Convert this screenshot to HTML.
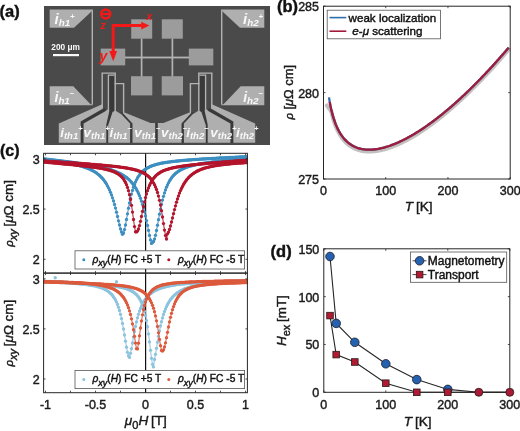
<!DOCTYPE html>
<html><head><meta charset="utf-8"><title>Figure</title>
<style>html,body{margin:0;padding:0;background:#fff;overflow:hidden}svg{display:block}</style>
</head><body><svg width="520" height="431" viewBox="0 0 520 431"><rect width="520" height="431" fill="#fff"/><text x="-0.5" y="17.2" style="font-family:'Liberation Sans', Arial, Helvetica, sans-serif;font-weight:bold;font-size:16.5px;fill:#111;stroke:#111;stroke-width:0.42px">(a)</text><rect x="44" y="6" width="226" height="139" fill="#4a4a4a"/><g><polygon points="49.7,9.5 91.5,9.5 91.5,11.5 74,27.8 49.7,27.8" fill="#afafaf"/><polyline points="91.5,9.5 92.3,10.5 92.3,104.3" fill="none" stroke="#b3b3b3" stroke-width="1.4"/><polygon points="49.7,86.3 73.3,86.3 90.5,104.3 92.8,104.3 92.8,105.2 49.7,105.2" fill="#afafaf"/><rect x="131.2" y="19.3" width="21" height="19.4" fill="#9c9c9c"/><rect x="131" y="76.2" width="21.3" height="19.2" fill="#9c9c9c"/><rect x="100.7" y="48.6" width="24.5" height="16.8" fill="#9c9c9c"/><line x1="141.6" y1="38.5" x2="141.6" y2="76.5" stroke="#b3b3b3" stroke-width="1.7"/><line x1="125" y1="57.5" x2="157" y2="57.5" stroke="#b3b3b3" stroke-width="1.8"/><rect x="109.3" y="76.2" width="5.1" height="36" fill="#393939"/><polyline points="82.1,143 82.1,122.6 104.4,110 105.5,109.3" fill="none" stroke="#393939" stroke-width="3"/><polygon points="106.3,143 108.2,143 108.2,125.2 112.6,112 114.4,111.2 109.3,111.2 107.2,120.5 106.3,124.5" fill="#393939"/><polyline points="131.3,143 131.3,123.3 122.6,113.6 122.6,112" fill="none" stroke="#393939" stroke-width="2.6"/><rect x="155.8" y="123" width="3" height="20" fill="#393939"/><polygon points="58.8,142.8 58.8,123.5 101.6,104.6 103,104.6 103,108.4 80.6,121.6 80.6,142.8" fill="#afafaf"/><polygon points="83.6,142.8 83.6,123.6 105.4,111.2 107.6,109.2 109.2,109.2 109.2,111.4 107.2,120.5 106.3,124.5 106.3,142.8" fill="#afafaf"/><polygon points="108.2,142.8 108.2,125.2 112.6,112 114.4,111 116,111 121.6,114.6 130.1,123.6 130.1,142.8" fill="#afafaf"/><polygon points="132.5,142.8 132.5,123.4 123.4,113.8 123.4,112.8 125.2,112.8 150.5,122.9 156.2,122.9 156.2,142.8" fill="#afafaf"/><polyline points="102.2,105.2 102.2,73.1 115.2,73.1 115.2,83.6 123.6,83.6 123.6,113.5" fill="none" stroke="#b3b3b3" stroke-width="1.4"/><polyline points="108.4,109.5 108.4,75.2 114.6,75.2" fill="none" stroke="#b3b3b3" stroke-width="1.3"/><line x1="115.2" y1="83" x2="115.2" y2="111.5" stroke="#b3b3b3" stroke-width="1.4"/></g><g transform="matrix(-1,0,0,1,314,0)"><polygon points="49.7,9.5 91.5,9.5 91.5,11.5 74,27.8 49.7,27.8" fill="#afafaf"/><polyline points="91.5,9.5 92.3,10.5 92.3,104.3" fill="none" stroke="#b3b3b3" stroke-width="1.4"/><polygon points="49.7,86.3 73.3,86.3 90.5,104.3 92.8,104.3 92.8,105.2 49.7,105.2" fill="#afafaf"/><rect x="131.2" y="19.3" width="21" height="19.4" fill="#9c9c9c"/><rect x="131" y="76.2" width="21.3" height="19.2" fill="#9c9c9c"/><rect x="100.7" y="48.6" width="24.5" height="16.8" fill="#9c9c9c"/><line x1="141.6" y1="38.5" x2="141.6" y2="76.5" stroke="#b3b3b3" stroke-width="1.7"/><line x1="125" y1="57.5" x2="157" y2="57.5" stroke="#b3b3b3" stroke-width="1.8"/><rect x="109.3" y="76.2" width="5.1" height="36" fill="#393939"/><polyline points="82.1,143 82.1,122.6 104.4,110 105.5,109.3" fill="none" stroke="#393939" stroke-width="3"/><polygon points="106.3,143 108.2,143 108.2,125.2 112.6,112 114.4,111.2 109.3,111.2 107.2,120.5 106.3,124.5" fill="#393939"/><polyline points="131.3,143 131.3,123.3 122.6,113.6 122.6,112" fill="none" stroke="#393939" stroke-width="2.6"/><rect x="155.8" y="123" width="3" height="20" fill="#393939"/><polygon points="58.8,142.8 58.8,123.5 101.6,104.6 103,104.6 103,108.4 80.6,121.6 80.6,142.8" fill="#afafaf"/><polygon points="83.6,142.8 83.6,123.6 105.4,111.2 107.6,109.2 109.2,109.2 109.2,111.4 107.2,120.5 106.3,124.5 106.3,142.8" fill="#afafaf"/><polygon points="108.2,142.8 108.2,125.2 112.6,112 114.4,111 116,111 121.6,114.6 130.1,123.6 130.1,142.8" fill="#afafaf"/><polygon points="132.5,142.8 132.5,123.4 123.4,113.8 123.4,112.8 125.2,112.8 150.5,122.9 156.2,122.9 156.2,142.8" fill="#afafaf"/><polyline points="102.2,105.2 102.2,73.1 115.2,73.1 115.2,83.6 123.6,83.6 123.6,113.5" fill="none" stroke="#b3b3b3" stroke-width="1.4"/><polyline points="108.4,109.5 108.4,75.2 114.6,75.2" fill="none" stroke="#b3b3b3" stroke-width="1.3"/><line x1="115.2" y1="83" x2="115.2" y2="111.5" stroke="#b3b3b3" stroke-width="1.4"/></g><text x="54.5" y="24.2" style="font-family:'Liberation Sans',Arial,sans-serif;font-style:italic;font-weight:bold;fill:#f8f8f8;font-size:15px">i<tspan dy="2" style="font-size:9.8px">h1</tspan><tspan dy="-7.5" style="font-size:7.8px">+</tspan></text><text x="54.5" y="101.6" style="font-family:'Liberation Sans',Arial,sans-serif;font-style:italic;font-weight:bold;fill:#f8f8f8;font-size:14px">i<tspan dy="2" style="font-size:9.8px">h1</tspan><tspan dy="-7.5" style="font-size:7.8px">−</tspan></text><text x="243" y="24.4" style="font-family:'Liberation Sans',Arial,sans-serif;font-style:italic;font-weight:bold;fill:#f8f8f8;font-size:15px">i<tspan dy="2" style="font-size:9.8px">h2</tspan><tspan dy="-7.5" style="font-size:7.8px">+</tspan></text><text x="243.2" y="101.6" style="font-family:'Liberation Sans',Arial,sans-serif;font-style:italic;font-weight:bold;fill:#f8f8f8;font-size:14px">i<tspan dy="2" style="font-size:9.8px">h2</tspan><tspan dy="-7.5" style="font-size:7.8px">−</tspan></text><text x="60.2" y="136.6" style="font-family:'Liberation Sans',Arial,sans-serif;font-style:italic;font-weight:bold;fill:#f8f8f8;font-size:13.5px">i<tspan dy="2" style="font-size:9.5px">th1</tspan><tspan dy="-7.5" style="font-size:7.6px">+</tspan></text><text x="83.5" y="136.6" style="font-family:'Liberation Sans',Arial,sans-serif;font-style:italic;font-weight:bold;fill:#f8f8f8;font-size:13.5px">v<tspan dy="2" style="font-size:9.5px">th1</tspan><tspan dy="-7.5" style="font-size:7.6px">+</tspan></text><text x="109.5" y="136.6" style="font-family:'Liberation Sans',Arial,sans-serif;font-style:italic;font-weight:bold;fill:#f8f8f8;font-size:13.5px">i<tspan dy="2" style="font-size:9.5px">th1</tspan><tspan dy="-7.5" style="font-size:7.6px">−</tspan></text><text x="134.3" y="136.6" style="font-family:'Liberation Sans',Arial,sans-serif;font-style:italic;font-weight:bold;fill:#f8f8f8;font-size:13.5px">v<tspan dy="2" style="font-size:9.5px">th1</tspan><tspan dy="-7.5" style="font-size:7.6px">−</tspan></text><text x="161" y="136.6" style="font-family:'Liberation Sans',Arial,sans-serif;font-style:italic;font-weight:bold;fill:#f8f8f8;font-size:13.5px">v<tspan dy="2" style="font-size:9.5px">th2</tspan><tspan dy="-7.5" style="font-size:7.6px">−</tspan></text><text x="186.2" y="136.6" style="font-family:'Liberation Sans',Arial,sans-serif;font-style:italic;font-weight:bold;fill:#f8f8f8;font-size:13.5px">i<tspan dy="2" style="font-size:9.5px">th2</tspan><tspan dy="-7.5" style="font-size:7.6px">−</tspan></text><text x="210.3" y="136.6" style="font-family:'Liberation Sans',Arial,sans-serif;font-style:italic;font-weight:bold;fill:#f8f8f8;font-size:13.5px">v<tspan dy="2" style="font-size:9.5px">th2</tspan><tspan dy="-7.5" style="font-size:7.6px">+</tspan></text><text x="236" y="136.6" style="font-family:'Liberation Sans',Arial,sans-serif;font-style:italic;font-weight:bold;fill:#f8f8f8;font-size:13.5px">i<tspan dy="2" style="font-size:9.5px">th2</tspan><tspan dy="-7.5" style="font-size:7.6px">+</tspan></text><text x="51.3" y="50.4" style="font-family:'Liberation Sans',Arial,sans-serif;font-weight:bold;font-size:8.3px;fill:#fafafa">200 μm</text><rect x="53" y="54" width="26" height="2.2" fill="#fafafa"/><circle cx="105.7" cy="14" r="4.5" fill="none" stroke="#f41818" stroke-width="2.6"/><rect x="102.2" y="12.9" width="7.2" height="2.2" fill="#f41818"/><text x="100.3" y="29.3" style="font-family:'Liberation Sans',Arial,sans-serif;font-style:italic;font-weight:bold;font-size:11px;fill:#f41818">z</text><polyline points="141.5,25.6 113.2,25.6 113.2,51" fill="none" stroke="#f41818" stroke-width="3"/><polygon points="141.2,21.7 149.4,25.6 141.2,29.5" fill="#f41818"/><polygon points="109.3,51 113.2,61.3 117.1,51" fill="#f41818"/><text x="146.6" y="19.6" style="font-family:'Liberation Sans',Arial,sans-serif;font-style:italic;font-weight:bold;font-size:10px;fill:#f41818">x</text><text x="99.5" y="61" style="font-family:'Liberation Sans',Arial,sans-serif;font-style:italic;font-weight:bold;font-size:14px;fill:#f41818">y</text><path d="M327.00,105.50 L331.23,111.20 L331.98,114.34 L332.74,117.16 L333.49,119.72 L334.24,122.04 L334.99,124.17 L335.74,126.13 L336.49,127.94 L337.25,129.61 L338.00,131.16 L338.75,132.60 L339.50,133.94 L340.25,135.19 L341.00,136.36 L341.76,137.46 L342.51,138.48 L343.26,139.44 L344.01,140.35 L344.76,141.19 L345.51,141.99 L346.27,142.73 L347.02,143.43 L347.77,144.09 L348.52,144.71 L349.27,145.29 L350.03,145.83 L350.78,146.34 L351.53,146.82 L352.28,147.26 L353.03,147.68 L353.78,148.07 L354.54,148.43 L355.29,148.77 L356.04,149.08 L356.79,149.37 L357.54,149.64 L358.29,149.89 L359.05,150.11 L359.80,150.32 L360.55,150.51 L361.30,150.67 L362.05,150.82 L362.81,150.96 L363.56,151.07 L364.31,151.17 L365.06,151.26 L365.81,151.33 L366.56,151.38 L367.32,151.42 L368.07,151.45 L368.82,151.46 L369.57,151.46 L370.32,151.45 L371.07,151.43 L371.83,151.39 L372.58,151.34 L373.33,151.28 L374.08,151.21 L374.83,151.13 L375.58,151.04 L376.34,150.93 L377.09,150.82 L377.84,150.70 L378.59,150.56 L379.34,150.42 L380.10,150.27 L380.85,150.11 L381.60,149.94 L382.35,149.76 L383.10,149.57 L383.85,149.38 L384.61,149.18 L385.36,148.96 L386.11,148.74 L386.86,148.52 L387.61,148.28 L388.36,148.04 L389.12,147.79 L389.87,147.53 L390.62,147.26 L391.37,146.99 L392.12,146.71 L392.88,146.43 L393.63,146.14 L394.38,145.84 L395.13,145.53 L395.88,145.22 L396.63,144.90 L397.39,144.57 L398.14,144.24 L398.89,143.90 L399.64,143.56 L400.39,143.21 L401.14,142.86 L401.90,142.49 L402.65,142.13 L403.40,141.75 L404.15,141.38 L404.90,140.99 L405.65,140.60 L406.41,140.21 L407.16,139.81 L407.91,139.40 L408.66,138.99 L409.41,138.57 L410.17,138.15 L410.92,137.73 L411.67,137.29 L412.42,136.86 L413.17,136.42 L413.92,135.97 L414.68,135.52 L415.43,135.06 L416.18,134.60 L416.93,134.14 L417.68,133.66 L418.43,133.19 L419.19,132.71 L419.94,132.23 L420.69,131.74 L421.44,131.24 L422.19,130.75 L422.94,130.24 L423.70,129.74 L424.45,129.23 L425.20,128.71 L425.95,128.19 L426.70,127.67 L427.46,127.14 L428.21,126.61 L428.96,126.07 L429.71,125.53 L430.46,124.99 L431.21,124.44 L431.97,123.89 L432.72,123.33 L433.47,122.77 L434.22,122.20 L434.97,121.64 L435.72,121.06 L436.48,120.49 L437.23,119.91 L437.98,119.32 L438.73,118.73 L439.48,118.14 L440.24,117.55 L440.99,116.95 L441.74,116.34 L442.49,115.74 L443.24,115.13 L443.99,114.51 L444.75,113.89 L445.50,113.27 L446.25,112.65 L447.00,112.02 L447.75,111.39 L448.50,110.75 L449.26,110.11 L450.01,109.47 L450.76,108.82 L451.51,108.17 L452.26,107.52 L453.01,106.86 L453.77,106.20 L454.52,105.54 L455.27,104.87 L456.02,104.20 L456.77,103.52 L457.53,102.84 L458.28,102.16 L459.03,101.48 L459.78,100.79 L460.53,100.10 L461.28,99.41 L462.04,98.71 L462.79,98.01 L463.54,97.30 L464.29,96.60 L465.04,95.89 L465.79,95.17 L466.55,94.45 L467.30,93.73 L468.05,93.01 L468.80,92.28 L469.55,91.55 L470.31,90.82 L471.06,90.08 L471.81,89.34 L472.56,88.60 L473.31,87.86 L474.06,87.11 L474.82,86.35 L475.57,85.60 L476.32,84.84 L477.07,84.08 L477.82,83.32 L478.57,82.55 L479.33,81.78 L480.08,81.00 L480.83,80.23 L481.58,79.45 L482.33,78.67 L483.08,77.88 L483.84,77.09 L484.59,76.30 L485.34,75.50 L486.09,74.71 L486.84,73.91 L487.60,73.10 L488.35,72.30 L489.10,71.49 L489.85,70.67 L490.60,69.86 L491.35,69.04 L492.11,68.22 L492.86,67.40 L493.61,66.57 L494.36,65.74 L495.11,64.91 L495.86,64.07 L496.62,63.23 L497.37,62.39 L498.12,61.55 L498.87,60.70 L499.62,59.85 L500.37,59.00 L501.13,58.14 L501.88,57.28 L502.63,56.42 L503.38,55.56 L504.13,54.69 L504.89,53.82 L505.64,52.95 L506.39,52.07 L507.14,51.19 L507.89,50.31 L508.64,49.43" fill="none" stroke="#c4c0c0" stroke-width="4.2" stroke-linecap="round"/><path d="M328.98,97.34 L329.73,101.91 L330.48,105.89 L331.23,109.40 L331.98,112.54 L332.74,115.36 L333.49,117.92 L334.24,120.24 L334.99,122.37 L335.74,124.33 L336.49,126.14 L337.25,127.81 L338.00,129.36 L338.75,130.80 L339.50,132.14 L340.25,133.39 L341.00,134.56 L341.76,135.66 L342.51,136.68 L343.26,137.64 L344.01,138.55 L344.76,139.39 L345.51,140.19 L346.27,140.93 L347.02,141.63 L347.77,142.29 L348.52,142.91 L349.27,143.49 L350.03,144.03 L350.78,144.54 L351.53,145.02 L352.28,145.46 L353.03,145.88 L353.78,146.27 L354.54,146.63 L355.29,146.97 L356.04,147.28 L356.79,147.57 L357.54,147.84 L358.29,148.09 L359.05,148.31 L359.80,148.52 L360.55,148.71 L361.30,148.87 L362.05,149.02 L362.81,149.16 L363.56,149.27 L364.31,149.37 L365.06,149.46 L365.81,149.53 L366.56,149.58 L367.32,149.62 L368.07,149.65 L368.82,149.66 L369.57,149.66 L370.32,149.65 L371.07,149.63 L371.83,149.59 L372.58,149.54 L373.33,149.48 L374.08,149.41 L374.83,149.33 L375.58,149.24 L376.34,149.13 L377.09,149.02 L377.84,148.90 L378.59,148.76 L379.34,148.62 L380.10,148.47 L380.85,148.31 L381.60,148.14 L382.35,147.96 L383.10,147.77 L383.85,147.58 L384.61,147.38 L385.36,147.16 L386.11,146.94 L386.86,146.72 L387.61,146.48 L388.36,146.24 L389.12,145.99 L389.87,145.73 L390.62,145.46 L391.37,145.19 L392.12,144.91 L392.88,144.63 L393.63,144.34 L394.38,144.04 L395.13,143.73 L395.88,143.42 L396.63,143.10 L397.39,142.77 L398.14,142.44 L398.89,142.10 L399.64,141.76 L400.39,141.41 L401.14,141.06 L401.90,140.69 L402.65,140.33 L403.40,139.95 L404.15,139.58 L404.90,139.19 L405.65,138.80 L406.41,138.41 L407.16,138.01 L407.91,137.60 L408.66,137.19 L409.41,136.77 L410.17,136.35 L410.92,135.93 L411.67,135.49 L412.42,135.06 L413.17,134.62 L413.92,134.17 L414.68,133.72 L415.43,133.26 L416.18,132.80 L416.93,132.34 L417.68,131.86 L418.43,131.39 L419.19,130.91 L419.94,130.43 L420.69,129.94 L421.44,129.44 L422.19,128.95 L422.94,128.44 L423.70,127.94 L424.45,127.43 L425.20,126.91 L425.95,126.39 L426.70,125.87 L427.46,125.34 L428.21,124.81 L428.96,124.27 L429.71,123.73 L430.46,123.19 L431.21,122.64 L431.97,122.09 L432.72,121.53 L433.47,120.97 L434.22,120.40 L434.97,119.84 L435.72,119.26 L436.48,118.69 L437.23,118.11 L437.98,117.52 L438.73,116.93 L439.48,116.34 L440.24,115.75 L440.99,115.15 L441.74,114.54 L442.49,113.94 L443.24,113.33 L443.99,112.71 L444.75,112.09 L445.50,111.47 L446.25,110.85 L447.00,110.22 L447.75,109.59 L448.50,108.95 L449.26,108.31 L450.01,107.67 L450.76,107.02 L451.51,106.37 L452.26,105.72 L453.01,105.06 L453.77,104.40 L454.52,103.74 L455.27,103.07 L456.02,102.40 L456.77,101.72 L457.53,101.04 L458.28,100.36 L459.03,99.68 L459.78,98.99 L460.53,98.30 L461.28,97.61 L462.04,96.91 L462.79,96.21 L463.54,95.50 L464.29,94.80 L465.04,94.09 L465.79,93.37 L466.55,92.65 L467.30,91.93 L468.05,91.21 L468.80,90.48 L469.55,89.75 L470.31,89.02 L471.06,88.28 L471.81,87.54 L472.56,86.80 L473.31,86.06 L474.06,85.31 L474.82,84.55 L475.57,83.80 L476.32,83.04 L477.07,82.28 L477.82,81.52 L478.57,80.75 L479.33,79.98 L480.08,79.20 L480.83,78.43 L481.58,77.65 L482.33,76.87 L483.08,76.08 L483.84,75.29 L484.59,74.50 L485.34,73.70 L486.09,72.91 L486.84,72.11 L487.60,71.30 L488.35,70.50 L489.10,69.69 L489.85,68.87 L490.60,68.06 L491.35,67.24 L492.11,66.42 L492.86,65.60 L493.61,64.77 L494.36,63.94 L495.11,63.11 L495.86,62.27 L496.62,61.43 L497.37,60.59 L498.12,59.75 L498.87,58.90 L499.62,58.05 L500.37,57.20 L501.13,56.34 L501.88,55.48 L502.63,54.62 L503.38,53.76 L504.13,52.89 L504.89,52.02 L505.64,51.15 L506.39,50.27 L507.14,49.39 L507.89,48.51 L508.64,47.63" fill="none" stroke="#2f6eaa" stroke-width="2.3"/><path d="M329.73,101.91 L330.48,105.89 L331.23,109.40 L331.98,112.54 L332.74,115.36 L333.49,117.92 L334.24,120.24 L334.99,122.37 L335.74,124.33 L336.49,126.14 L337.25,127.81 L338.00,129.36 L338.75,130.80 L339.50,132.14 L340.25,133.39 L341.00,134.56 L341.76,135.66 L342.51,136.68 L343.26,137.64 L344.01,138.55 L344.76,139.39 L345.51,140.19 L346.27,140.93 L347.02,141.63 L347.77,142.29 L348.52,142.91 L349.27,143.49 L350.03,144.03 L350.78,144.54 L351.53,145.02 L352.28,145.46 L353.03,145.88 L353.78,146.27 L354.54,146.63 L355.29,146.97 L356.04,147.28 L356.79,147.57 L357.54,147.84 L358.29,148.09 L359.05,148.31 L359.80,148.52 L360.55,148.71 L361.30,148.87 L362.05,149.02 L362.81,149.16 L363.56,149.27 L364.31,149.37 L365.06,149.46 L365.81,149.53 L366.56,149.58 L367.32,149.62 L368.07,149.65 L368.82,149.66 L369.57,149.66 L370.32,149.65 L371.07,149.63 L371.83,149.59 L372.58,149.54 L373.33,149.48 L374.08,149.41 L374.83,149.33 L375.58,149.24 L376.34,149.13 L377.09,149.02 L377.84,148.90 L378.59,148.76 L379.34,148.62 L380.10,148.47 L380.85,148.31 L381.60,148.14 L382.35,147.96 L383.10,147.77 L383.85,147.58 L384.61,147.38 L385.36,147.16 L386.11,146.94 L386.86,146.72 L387.61,146.48 L388.36,146.24 L389.12,145.99 L389.87,145.73 L390.62,145.46 L391.37,145.19 L392.12,144.91 L392.88,144.63 L393.63,144.34 L394.38,144.04 L395.13,143.73 L395.88,143.42 L396.63,143.10 L397.39,142.77 L398.14,142.44 L398.89,142.10 L399.64,141.76 L400.39,141.41 L401.14,141.06 L401.90,140.69 L402.65,140.33 L403.40,139.95 L404.15,139.58 L404.90,139.19 L405.65,138.80 L406.41,138.41 L407.16,138.01 L407.91,137.60 L408.66,137.19 L409.41,136.77 L410.17,136.35 L410.92,135.93 L411.67,135.49 L412.42,135.06 L413.17,134.62 L413.92,134.17 L414.68,133.72 L415.43,133.26 L416.18,132.80 L416.93,132.34 L417.68,131.86 L418.43,131.39 L419.19,130.91 L419.94,130.43 L420.69,129.94 L421.44,129.44 L422.19,128.95 L422.94,128.44 L423.70,127.94 L424.45,127.43 L425.20,126.91 L425.95,126.39 L426.70,125.87 L427.46,125.34 L428.21,124.81 L428.96,124.27 L429.71,123.73 L430.46,123.19 L431.21,122.64 L431.97,122.09 L432.72,121.53 L433.47,120.97 L434.22,120.40 L434.97,119.84 L435.72,119.26 L436.48,118.69 L437.23,118.11 L437.98,117.52 L438.73,116.93 L439.48,116.34 L440.24,115.75 L440.99,115.15 L441.74,114.54 L442.49,113.94 L443.24,113.33 L443.99,112.71 L444.75,112.09 L445.50,111.47 L446.25,110.85 L447.00,110.22 L447.75,109.59 L448.50,108.95 L449.26,108.31 L450.01,107.67 L450.76,107.02 L451.51,106.37 L452.26,105.72 L453.01,105.06 L453.77,104.40 L454.52,103.74 L455.27,103.07 L456.02,102.40 L456.77,101.72 L457.53,101.04 L458.28,100.36 L459.03,99.68 L459.78,98.99 L460.53,98.30 L461.28,97.61 L462.04,96.91 L462.79,96.21 L463.54,95.50 L464.29,94.80 L465.04,94.09 L465.79,93.37 L466.55,92.65 L467.30,91.93 L468.05,91.21 L468.80,90.48 L469.55,89.75 L470.31,89.02 L471.06,88.28 L471.81,87.54 L472.56,86.80 L473.31,86.06 L474.06,85.31 L474.82,84.55 L475.57,83.80 L476.32,83.04 L477.07,82.28 L477.82,81.52 L478.57,80.75 L479.33,79.98 L480.08,79.20 L480.83,78.43 L481.58,77.65 L482.33,76.87 L483.08,76.08 L483.84,75.29 L484.59,74.50 L485.34,73.70 L486.09,72.91 L486.84,72.11 L487.60,71.30 L488.35,70.50 L489.10,69.69 L489.85,68.87 L490.60,68.06 L491.35,67.24 L492.11,66.42 L492.86,65.60 L493.61,64.77 L494.36,63.94 L495.11,63.11 L495.86,62.27 L496.62,61.43 L497.37,60.59 L498.12,59.75 L498.87,58.90 L499.62,58.05 L500.37,57.20 L501.13,56.34 L501.88,55.48 L502.63,54.62 L503.38,53.76 L504.13,52.89 L504.89,52.02 L505.64,51.15 L506.39,50.27 L507.14,49.39 L507.89,48.51 L508.64,47.63" fill="none" stroke="#a01c3c" stroke-width="2.3"/><rect x="323.5" y="6.2" width="186.7" height="172.8" fill="none" stroke="#262626" stroke-width="1"/><line x1="323.5" y1="179.0" x2="323.5" y2="177.0" stroke="#262626" stroke-width="0.8"/><line x1="323.5" y1="6.2" x2="323.5" y2="8.2" stroke="#262626" stroke-width="0.8"/><text x="323.5" y="195" text-anchor="middle" style="font-family:'Liberation Sans', Arial, Helvetica, sans-serif;font-size:12.5px;fill:#1a1a1a;stroke:#1a1a1a;stroke-width:0.42px">0</text><line x1="385.73333333333335" y1="179.0" x2="385.73333333333335" y2="177.0" stroke="#262626" stroke-width="0.8"/><line x1="385.73333333333335" y1="6.2" x2="385.73333333333335" y2="8.2" stroke="#262626" stroke-width="0.8"/><text x="385.73333333333335" y="195" text-anchor="middle" style="font-family:'Liberation Sans', Arial, Helvetica, sans-serif;font-size:12.5px;fill:#1a1a1a;stroke:#1a1a1a;stroke-width:0.42px">100</text><line x1="447.96666666666664" y1="179.0" x2="447.96666666666664" y2="177.0" stroke="#262626" stroke-width="0.8"/><line x1="447.96666666666664" y1="6.2" x2="447.96666666666664" y2="8.2" stroke="#262626" stroke-width="0.8"/><text x="447.96666666666664" y="195" text-anchor="middle" style="font-family:'Liberation Sans', Arial, Helvetica, sans-serif;font-size:12.5px;fill:#1a1a1a;stroke:#1a1a1a;stroke-width:0.42px">200</text><line x1="510.2" y1="179.0" x2="510.2" y2="177.0" stroke="#262626" stroke-width="0.8"/><line x1="510.2" y1="6.2" x2="510.2" y2="8.2" stroke="#262626" stroke-width="0.8"/><text x="510.2" y="195" text-anchor="middle" style="font-family:'Liberation Sans', Arial, Helvetica, sans-serif;font-size:12.5px;fill:#1a1a1a;stroke:#1a1a1a;stroke-width:0.42px">300</text><line x1="323.5" y1="179.0" x2="325.5" y2="179.0" stroke="#262626" stroke-width="0.8"/><line x1="510.2" y1="179.0" x2="508.2" y2="179.0" stroke="#262626" stroke-width="0.8"/><text x="319" y="184.0" text-anchor="end" style="font-family:'Liberation Sans', Arial, Helvetica, sans-serif;font-size:12.5px;fill:#1a1a1a;stroke:#1a1a1a;stroke-width:0.42px">275</text><line x1="323.5" y1="92.6" x2="325.5" y2="92.6" stroke="#262626" stroke-width="0.8"/><line x1="510.2" y1="92.6" x2="508.2" y2="92.6" stroke="#262626" stroke-width="0.8"/><text x="319" y="97.6" text-anchor="end" style="font-family:'Liberation Sans', Arial, Helvetica, sans-serif;font-size:12.5px;fill:#1a1a1a;stroke:#1a1a1a;stroke-width:0.42px">280</text><line x1="323.5" y1="6.199999999999989" x2="325.5" y2="6.199999999999989" stroke="#262626" stroke-width="0.8"/><line x1="510.2" y1="6.199999999999989" x2="508.2" y2="6.199999999999989" stroke="#262626" stroke-width="0.8"/><text x="319" y="11.199999999999989" text-anchor="end" style="font-family:'Liberation Sans', Arial, Helvetica, sans-serif;font-size:12.5px;fill:#1a1a1a;stroke:#1a1a1a;stroke-width:0.42px">285</text><text x="404.8" y="210.9" style="font-family:'Liberation Sans', Arial, Helvetica, sans-serif;font-size:13.6px;fill:#1a1a1a;stroke:#1a1a1a;stroke-width:0.42px"><tspan style="font-style:italic">T</tspan><tspan dx="-1"> [K]</tspan></text><text transform="translate(292.6,119.6) rotate(-90)" style="font-family:'Liberation Sans', Arial, Helvetica, sans-serif;font-size:12.9px;fill:#1a1a1a;stroke:#1a1a1a;stroke-width:0.42px"><tspan style="font-style:italic;font-size:11.3px">ρ</tspan> [<tspan style="font-style:italic">μ</tspan>Ω cm]</text><rect x="327.2" y="10.2" width="113.3" height="28.6" fill="#fff" stroke="#555" stroke-width="0.8"/><line x1="329.5" y1="17.6" x2="346.3" y2="17.6" stroke="#2f6eaa" stroke-width="1.6"/><line x1="329.5" y1="31.2" x2="346.3" y2="31.2" stroke="#a3193a" stroke-width="1.6"/><text x="348.6" y="21.8" style="font-family:'Liberation Sans', Arial, Helvetica, sans-serif;font-size:11.6px;fill:#111;stroke:#111;stroke-width:0.42px">weak localization</text><text x="352.3" y="35.4" style="font-family:'Liberation Sans', Arial, Helvetica, sans-serif;font-size:11.6px;fill:#111;stroke:#111;stroke-width:0.42px"><tspan style="font-style:italic">e</tspan>-<tspan style="font-style:italic">μ</tspan> scattering</text><text x="277" y="12.3" style="font-family:'Liberation Sans', Arial, Helvetica, sans-serif;font-weight:bold;font-size:16.5px;fill:#111;stroke:#111;stroke-width:0.42px">(b)</text><g clip-path="url(#clipc153)"><line x1="145.6" y1="153.3" x2="145.6" y2="273.1" stroke="#111" stroke-width="1.2"/><path d="M43.5,160.4 L44.5,160.5 L45.5,160.6 L46.5,160.7 L47.5,160.8 L48.5,160.9 L49.5,161.0 L50.5,161.1 L51.5,161.2 L52.5,161.3 L53.5,161.4 L54.5,161.5 L55.5,161.6 L56.5,161.7 L57.5,161.9 L58.5,162.0 L59.5,162.1 L60.5,162.2 L61.5,162.4 L62.5,162.5 L63.5,162.6 L64.5,162.8 L65.5,162.9 L66.5,163.1 L67.5,163.2 L68.5,163.4 L69.5,163.6 L70.5,163.7 L71.5,163.9 L72.5,164.1 L73.5,164.3 L74.5,164.5 L75.5,164.7 L76.5,165.0 L77.5,165.2 L78.5,165.4 L79.5,165.7 L80.5,165.9 L81.5,166.2 L82.5,166.5 L83.5,166.8 L84.5,167.2 L85.5,167.5 L86.5,167.9 L87.5,168.2 L88.5,168.7 L89.5,169.1 L90.5,169.5 L91.5,170.0 L92.5,170.6 L93.5,171.1 L94.5,171.7 L95.5,172.3 L96.5,173.0 L97.5,173.8 L98.5,174.6 L99.5,175.4 L100.5,176.4 L101.5,177.4 L102.5,178.5 L103.5,179.7 L104.5,181.1 L105.5,182.5 L106.5,184.1 L107.5,185.9 L108.5,187.8 L109.5,189.9 L110.5,192.3 L111.5,194.9 L112.5,197.8 L113.5,200.9 L114.5,204.4 L115.5,208.1 L116.5,212.2 L117.5,216.4 L118.5,220.8 L119.5,225.0 L120.5,228.9 L121.5,232.0 L122.5,234.3 L123.5,233.0 L124.5,229.6 L125.5,225.0 L126.5,219.5 L127.5,213.8 L128.5,208.2 L129.5,203.0 L130.5,198.3 L131.5,194.1 L132.5,190.4 L133.5,187.2 L134.5,184.4 L135.5,181.9 L136.5,179.8 L137.5,178.0 L138.5,176.3 L139.5,174.9 L140.5,173.6 L141.5,172.5 L142.5,171.5 L143.5,170.6 L144.5,169.8 L145.5,169.1 L146.5,168.5 L147.5,167.9 L148.5,167.4 L149.5,166.9 L150.5,166.4 L151.5,166.0 L152.5,165.6 L153.5,165.3 L154.5,165.0 L155.5,164.7 L156.5,164.4 L157.5,164.1 L158.5,163.9 L159.5,163.6 L160.5,163.4 L161.5,163.2 L162.5,163.0 L163.5,162.8 L164.5,162.7 L165.5,162.5 L166.5,162.4 L167.5,162.2 L168.5,162.1 L169.5,161.9 L170.5,161.8 L171.5,161.7 L172.5,161.5 L173.5,161.4 L174.5,161.3 L175.5,161.2 L176.5,161.1 L177.5,161.0 L178.5,160.9 L179.5,160.8 L180.5,160.7 L181.5,160.6 L182.5,160.5 L183.5,160.4 L184.5,160.3 L185.5,160.2 L186.5,160.2 L187.5,160.1 L188.5,160.0 L189.5,159.9 L190.5,159.9 L191.5,159.8 L192.5,159.7 L193.5,159.6 L194.5,159.6 L195.5,159.5 L196.5,159.4 L197.5,159.4 L198.5,159.3 L199.5,159.2 L200.5,159.2 L201.5,159.1 L202.5,159.0 L203.5,159.0 L204.5,158.9 L205.5,158.8 L206.5,158.8 L207.5,158.7 L208.5,158.7 L209.5,158.6 L210.5,158.6 L211.5,158.5 L212.5,158.4 L213.5,158.4 L214.5,158.3 L215.5,158.3 L216.5,158.2 L217.5,158.2 L218.5,158.1 L219.5,158.0 L220.5,158.0 L221.5,157.9 L222.5,157.9 L223.5,157.8 L224.5,157.8 L225.5,157.7 L226.5,157.7 L227.5,157.6 L228.5,157.6 L229.5,157.5 L230.5,157.5 L231.5,157.4 L232.5,157.4 L233.5,157.3 L234.5,157.3 L235.5,157.2 L236.5,157.2 L237.5,157.1 L238.5,157.1 L239.5,157.0 L240.5,157.0 L241.5,156.9 L242.5,156.9 L243.5,156.8 L244.5,156.8 L245.5,156.7 L246.5,156.7 L247.5,156.6" fill="none" stroke="#3d8fc1" stroke-width="1"/><circle cx="43.5" cy="160.4" r="1.65" fill="#3d8fc1"/><circle cx="44.5" cy="160.5" r="1.65" fill="#3d8fc1"/><circle cx="45.5" cy="160.6" r="1.65" fill="#3d8fc1"/><circle cx="46.5" cy="160.7" r="1.65" fill="#3d8fc1"/><circle cx="47.5" cy="160.8" r="1.65" fill="#3d8fc1"/><circle cx="48.5" cy="160.9" r="1.65" fill="#3d8fc1"/><circle cx="49.5" cy="161.0" r="1.65" fill="#3d8fc1"/><circle cx="50.5" cy="161.1" r="1.65" fill="#3d8fc1"/><circle cx="51.5" cy="161.2" r="1.65" fill="#3d8fc1"/><circle cx="52.5" cy="161.3" r="1.65" fill="#3d8fc1"/><circle cx="53.5" cy="161.4" r="1.65" fill="#3d8fc1"/><circle cx="54.5" cy="161.5" r="1.65" fill="#3d8fc1"/><circle cx="55.5" cy="161.6" r="1.65" fill="#3d8fc1"/><circle cx="56.5" cy="161.7" r="1.65" fill="#3d8fc1"/><circle cx="57.5" cy="161.9" r="1.65" fill="#3d8fc1"/><circle cx="58.5" cy="162.0" r="1.65" fill="#3d8fc1"/><circle cx="59.5" cy="162.1" r="1.65" fill="#3d8fc1"/><circle cx="60.5" cy="162.2" r="1.65" fill="#3d8fc1"/><circle cx="61.5" cy="162.4" r="1.65" fill="#3d8fc1"/><circle cx="62.5" cy="162.5" r="1.65" fill="#3d8fc1"/><circle cx="63.5" cy="162.6" r="1.65" fill="#3d8fc1"/><circle cx="64.5" cy="162.8" r="1.65" fill="#3d8fc1"/><circle cx="65.5" cy="162.9" r="1.65" fill="#3d8fc1"/><circle cx="66.5" cy="163.1" r="1.65" fill="#3d8fc1"/><circle cx="67.5" cy="163.2" r="1.65" fill="#3d8fc1"/><circle cx="68.5" cy="163.4" r="1.65" fill="#3d8fc1"/><circle cx="69.5" cy="163.6" r="1.65" fill="#3d8fc1"/><circle cx="70.5" cy="163.7" r="1.65" fill="#3d8fc1"/><circle cx="71.5" cy="163.9" r="1.65" fill="#3d8fc1"/><circle cx="72.5" cy="164.1" r="1.65" fill="#3d8fc1"/><circle cx="73.5" cy="164.3" r="1.65" fill="#3d8fc1"/><circle cx="74.5" cy="164.5" r="1.65" fill="#3d8fc1"/><circle cx="75.5" cy="164.7" r="1.65" fill="#3d8fc1"/><circle cx="76.5" cy="165.0" r="1.65" fill="#3d8fc1"/><circle cx="77.5" cy="165.2" r="1.65" fill="#3d8fc1"/><circle cx="78.5" cy="165.4" r="1.65" fill="#3d8fc1"/><circle cx="79.5" cy="165.7" r="1.65" fill="#3d8fc1"/><circle cx="80.5" cy="165.9" r="1.65" fill="#3d8fc1"/><circle cx="81.5" cy="166.2" r="1.65" fill="#3d8fc1"/><circle cx="82.5" cy="166.5" r="1.65" fill="#3d8fc1"/><circle cx="83.5" cy="166.8" r="1.65" fill="#3d8fc1"/><circle cx="84.5" cy="167.2" r="1.65" fill="#3d8fc1"/><circle cx="85.5" cy="167.5" r="1.65" fill="#3d8fc1"/><circle cx="86.5" cy="167.9" r="1.65" fill="#3d8fc1"/><circle cx="87.5" cy="168.2" r="1.65" fill="#3d8fc1"/><circle cx="88.5" cy="168.7" r="1.65" fill="#3d8fc1"/><circle cx="89.5" cy="169.1" r="1.65" fill="#3d8fc1"/><circle cx="90.5" cy="169.5" r="1.65" fill="#3d8fc1"/><circle cx="91.5" cy="170.0" r="1.65" fill="#3d8fc1"/><circle cx="92.5" cy="170.6" r="1.65" fill="#3d8fc1"/><circle cx="93.5" cy="171.1" r="1.65" fill="#3d8fc1"/><circle cx="94.5" cy="171.7" r="1.65" fill="#3d8fc1"/><circle cx="95.5" cy="172.3" r="1.65" fill="#3d8fc1"/><circle cx="96.5" cy="173.0" r="1.65" fill="#3d8fc1"/><circle cx="97.5" cy="173.8" r="1.65" fill="#3d8fc1"/><circle cx="98.5" cy="174.6" r="1.65" fill="#3d8fc1"/><circle cx="99.5" cy="175.4" r="1.65" fill="#3d8fc1"/><circle cx="100.5" cy="176.4" r="1.65" fill="#3d8fc1"/><circle cx="101.5" cy="177.4" r="1.65" fill="#3d8fc1"/><circle cx="102.5" cy="178.5" r="1.65" fill="#3d8fc1"/><circle cx="103.5" cy="179.7" r="1.65" fill="#3d8fc1"/><circle cx="104.5" cy="181.1" r="1.65" fill="#3d8fc1"/><circle cx="105.5" cy="182.5" r="1.65" fill="#3d8fc1"/><circle cx="106.5" cy="184.1" r="1.65" fill="#3d8fc1"/><circle cx="107.5" cy="185.9" r="1.65" fill="#3d8fc1"/><circle cx="108.5" cy="187.8" r="1.65" fill="#3d8fc1"/><circle cx="109.5" cy="189.9" r="1.65" fill="#3d8fc1"/><circle cx="110.5" cy="192.3" r="1.65" fill="#3d8fc1"/><circle cx="111.5" cy="194.9" r="1.65" fill="#3d8fc1"/><circle cx="112.5" cy="197.8" r="1.65" fill="#3d8fc1"/><circle cx="113.5" cy="200.9" r="1.65" fill="#3d8fc1"/><circle cx="114.5" cy="204.4" r="1.65" fill="#3d8fc1"/><circle cx="115.5" cy="208.1" r="1.65" fill="#3d8fc1"/><circle cx="116.5" cy="212.2" r="1.65" fill="#3d8fc1"/><circle cx="117.5" cy="216.4" r="1.65" fill="#3d8fc1"/><circle cx="118.5" cy="220.8" r="1.65" fill="#3d8fc1"/><circle cx="119.5" cy="225.0" r="1.65" fill="#3d8fc1"/><circle cx="120.5" cy="228.9" r="1.65" fill="#3d8fc1"/><circle cx="121.5" cy="232.0" r="1.65" fill="#3d8fc1"/><circle cx="122.5" cy="234.3" r="1.65" fill="#3d8fc1"/><circle cx="123.5" cy="233.0" r="1.65" fill="#3d8fc1"/><circle cx="124.5" cy="229.6" r="1.65" fill="#3d8fc1"/><circle cx="125.5" cy="225.0" r="1.65" fill="#3d8fc1"/><circle cx="126.5" cy="219.5" r="1.65" fill="#3d8fc1"/><circle cx="127.5" cy="213.8" r="1.65" fill="#3d8fc1"/><circle cx="128.5" cy="208.2" r="1.65" fill="#3d8fc1"/><circle cx="129.5" cy="203.0" r="1.65" fill="#3d8fc1"/><circle cx="130.5" cy="198.3" r="1.65" fill="#3d8fc1"/><circle cx="131.5" cy="194.1" r="1.65" fill="#3d8fc1"/><circle cx="132.5" cy="190.4" r="1.65" fill="#3d8fc1"/><circle cx="133.5" cy="187.2" r="1.65" fill="#3d8fc1"/><circle cx="134.5" cy="184.4" r="1.65" fill="#3d8fc1"/><circle cx="135.5" cy="181.9" r="1.65" fill="#3d8fc1"/><circle cx="136.5" cy="179.8" r="1.65" fill="#3d8fc1"/><circle cx="137.5" cy="178.0" r="1.65" fill="#3d8fc1"/><circle cx="138.5" cy="176.3" r="1.65" fill="#3d8fc1"/><circle cx="139.5" cy="174.9" r="1.65" fill="#3d8fc1"/><circle cx="140.5" cy="173.6" r="1.65" fill="#3d8fc1"/><circle cx="141.5" cy="172.5" r="1.65" fill="#3d8fc1"/><circle cx="142.5" cy="171.5" r="1.65" fill="#3d8fc1"/><circle cx="143.5" cy="170.6" r="1.65" fill="#3d8fc1"/><circle cx="144.5" cy="169.8" r="1.65" fill="#3d8fc1"/><circle cx="145.5" cy="169.1" r="1.65" fill="#3d8fc1"/><circle cx="146.5" cy="168.5" r="1.65" fill="#3d8fc1"/><circle cx="147.5" cy="167.9" r="1.65" fill="#3d8fc1"/><circle cx="148.5" cy="167.4" r="1.65" fill="#3d8fc1"/><circle cx="149.5" cy="166.9" r="1.65" fill="#3d8fc1"/><circle cx="150.5" cy="166.4" r="1.65" fill="#3d8fc1"/><circle cx="151.5" cy="166.0" r="1.65" fill="#3d8fc1"/><circle cx="152.5" cy="165.6" r="1.65" fill="#3d8fc1"/><circle cx="153.5" cy="165.3" r="1.65" fill="#3d8fc1"/><circle cx="154.5" cy="165.0" r="1.65" fill="#3d8fc1"/><circle cx="155.5" cy="164.7" r="1.65" fill="#3d8fc1"/><circle cx="156.5" cy="164.4" r="1.65" fill="#3d8fc1"/><circle cx="157.5" cy="164.1" r="1.65" fill="#3d8fc1"/><circle cx="158.5" cy="163.9" r="1.65" fill="#3d8fc1"/><circle cx="159.5" cy="163.6" r="1.65" fill="#3d8fc1"/><circle cx="160.5" cy="163.4" r="1.65" fill="#3d8fc1"/><circle cx="161.5" cy="163.2" r="1.65" fill="#3d8fc1"/><circle cx="162.5" cy="163.0" r="1.65" fill="#3d8fc1"/><circle cx="163.5" cy="162.8" r="1.65" fill="#3d8fc1"/><circle cx="164.5" cy="162.7" r="1.65" fill="#3d8fc1"/><circle cx="165.5" cy="162.5" r="1.65" fill="#3d8fc1"/><circle cx="166.5" cy="162.4" r="1.65" fill="#3d8fc1"/><circle cx="167.5" cy="162.2" r="1.65" fill="#3d8fc1"/><circle cx="168.5" cy="162.1" r="1.65" fill="#3d8fc1"/><circle cx="169.5" cy="161.9" r="1.65" fill="#3d8fc1"/><circle cx="170.5" cy="161.8" r="1.65" fill="#3d8fc1"/><circle cx="171.5" cy="161.7" r="1.65" fill="#3d8fc1"/><circle cx="172.5" cy="161.5" r="1.65" fill="#3d8fc1"/><circle cx="173.5" cy="161.4" r="1.65" fill="#3d8fc1"/><circle cx="174.5" cy="161.3" r="1.65" fill="#3d8fc1"/><circle cx="175.5" cy="161.2" r="1.65" fill="#3d8fc1"/><circle cx="176.5" cy="161.1" r="1.65" fill="#3d8fc1"/><circle cx="177.5" cy="161.0" r="1.65" fill="#3d8fc1"/><circle cx="178.5" cy="160.9" r="1.65" fill="#3d8fc1"/><circle cx="179.5" cy="160.8" r="1.65" fill="#3d8fc1"/><circle cx="180.5" cy="160.7" r="1.65" fill="#3d8fc1"/><circle cx="181.5" cy="160.6" r="1.65" fill="#3d8fc1"/><circle cx="182.5" cy="160.5" r="1.65" fill="#3d8fc1"/><circle cx="183.5" cy="160.4" r="1.65" fill="#3d8fc1"/><circle cx="184.5" cy="160.3" r="1.65" fill="#3d8fc1"/><circle cx="185.5" cy="160.2" r="1.65" fill="#3d8fc1"/><circle cx="186.5" cy="160.2" r="1.65" fill="#3d8fc1"/><circle cx="187.5" cy="160.1" r="1.65" fill="#3d8fc1"/><circle cx="188.5" cy="160.0" r="1.65" fill="#3d8fc1"/><circle cx="189.5" cy="159.9" r="1.65" fill="#3d8fc1"/><circle cx="190.5" cy="159.9" r="1.65" fill="#3d8fc1"/><circle cx="191.5" cy="159.8" r="1.65" fill="#3d8fc1"/><circle cx="192.5" cy="159.7" r="1.65" fill="#3d8fc1"/><circle cx="193.5" cy="159.6" r="1.65" fill="#3d8fc1"/><circle cx="194.5" cy="159.6" r="1.65" fill="#3d8fc1"/><circle cx="195.5" cy="159.5" r="1.65" fill="#3d8fc1"/><circle cx="196.5" cy="159.4" r="1.65" fill="#3d8fc1"/><circle cx="197.5" cy="159.4" r="1.65" fill="#3d8fc1"/><circle cx="198.5" cy="159.3" r="1.65" fill="#3d8fc1"/><circle cx="199.5" cy="159.2" r="1.65" fill="#3d8fc1"/><circle cx="200.5" cy="159.2" r="1.65" fill="#3d8fc1"/><circle cx="201.5" cy="159.1" r="1.65" fill="#3d8fc1"/><circle cx="202.5" cy="159.0" r="1.65" fill="#3d8fc1"/><circle cx="203.5" cy="159.0" r="1.65" fill="#3d8fc1"/><circle cx="204.5" cy="158.9" r="1.65" fill="#3d8fc1"/><circle cx="205.5" cy="158.8" r="1.65" fill="#3d8fc1"/><circle cx="206.5" cy="158.8" r="1.65" fill="#3d8fc1"/><circle cx="207.5" cy="158.7" r="1.65" fill="#3d8fc1"/><circle cx="208.5" cy="158.7" r="1.65" fill="#3d8fc1"/><circle cx="209.5" cy="158.6" r="1.65" fill="#3d8fc1"/><circle cx="210.5" cy="158.6" r="1.65" fill="#3d8fc1"/><circle cx="211.5" cy="158.5" r="1.65" fill="#3d8fc1"/><circle cx="212.5" cy="158.4" r="1.65" fill="#3d8fc1"/><circle cx="213.5" cy="158.4" r="1.65" fill="#3d8fc1"/><circle cx="214.5" cy="158.3" r="1.65" fill="#3d8fc1"/><circle cx="215.5" cy="158.3" r="1.65" fill="#3d8fc1"/><circle cx="216.5" cy="158.2" r="1.65" fill="#3d8fc1"/><circle cx="217.5" cy="158.2" r="1.65" fill="#3d8fc1"/><circle cx="218.5" cy="158.1" r="1.65" fill="#3d8fc1"/><circle cx="219.5" cy="158.0" r="1.65" fill="#3d8fc1"/><circle cx="220.5" cy="158.0" r="1.65" fill="#3d8fc1"/><circle cx="221.5" cy="157.9" r="1.65" fill="#3d8fc1"/><circle cx="222.5" cy="157.9" r="1.65" fill="#3d8fc1"/><circle cx="223.5" cy="157.8" r="1.65" fill="#3d8fc1"/><circle cx="224.5" cy="157.8" r="1.65" fill="#3d8fc1"/><circle cx="225.5" cy="157.7" r="1.65" fill="#3d8fc1"/><circle cx="226.5" cy="157.7" r="1.65" fill="#3d8fc1"/><circle cx="227.5" cy="157.6" r="1.65" fill="#3d8fc1"/><circle cx="228.5" cy="157.6" r="1.65" fill="#3d8fc1"/><circle cx="229.5" cy="157.5" r="1.65" fill="#3d8fc1"/><circle cx="230.5" cy="157.5" r="1.65" fill="#3d8fc1"/><circle cx="231.5" cy="157.4" r="1.65" fill="#3d8fc1"/><circle cx="232.5" cy="157.4" r="1.65" fill="#3d8fc1"/><circle cx="233.5" cy="157.3" r="1.65" fill="#3d8fc1"/><circle cx="234.5" cy="157.3" r="1.65" fill="#3d8fc1"/><circle cx="235.5" cy="157.2" r="1.65" fill="#3d8fc1"/><circle cx="236.5" cy="157.2" r="1.65" fill="#3d8fc1"/><circle cx="237.5" cy="157.1" r="1.65" fill="#3d8fc1"/><circle cx="238.5" cy="157.1" r="1.65" fill="#3d8fc1"/><circle cx="239.5" cy="157.0" r="1.65" fill="#3d8fc1"/><circle cx="240.5" cy="157.0" r="1.65" fill="#3d8fc1"/><circle cx="241.5" cy="156.9" r="1.65" fill="#3d8fc1"/><circle cx="242.5" cy="156.9" r="1.65" fill="#3d8fc1"/><circle cx="243.5" cy="156.8" r="1.65" fill="#3d8fc1"/><circle cx="244.5" cy="156.8" r="1.65" fill="#3d8fc1"/><circle cx="245.5" cy="156.7" r="1.65" fill="#3d8fc1"/><circle cx="246.5" cy="156.7" r="1.65" fill="#3d8fc1"/><circle cx="247.5" cy="156.6" r="1.65" fill="#3d8fc1"/><path d="M43.5,158.9 L44.5,159.0 L45.5,159.1 L46.5,159.2 L47.5,159.3 L48.5,159.4 L49.5,159.5 L50.5,159.7 L51.5,159.8 L52.5,159.9 L53.5,160.0 L54.5,160.1 L55.5,160.2 L56.5,160.4 L57.5,160.5 L58.5,160.6 L59.5,160.7 L60.5,160.8 L61.5,161.0 L62.5,161.1 L63.5,161.2 L64.5,161.3 L65.5,161.5 L66.5,161.6 L67.5,161.7 L68.5,161.8 L69.5,162.0 L70.5,162.1 L71.5,162.2 L72.5,162.4 L73.5,162.5 L74.5,162.6 L75.5,162.8 L76.5,162.9 L77.5,163.1 L78.5,163.2 L79.5,163.3 L80.5,163.5 L81.5,163.6 L82.5,163.8 L83.5,163.9 L84.5,164.1 L85.5,164.3 L86.5,164.4 L87.5,164.6 L88.5,164.8 L89.5,164.9 L90.5,165.1 L91.5,165.3 L92.5,165.5 L93.5,165.6 L94.5,165.8 L95.5,166.0 L96.5,166.2 L97.5,166.4 L98.5,166.6 L99.5,166.9 L100.5,167.1 L101.5,167.3 L102.5,167.5 L103.5,167.8 L104.5,168.0 L105.5,168.3 L106.5,168.5 L107.5,168.8 L108.5,169.1 L109.5,169.4 L110.5,169.7 L111.5,170.0 L112.5,170.4 L113.5,170.7 L114.5,171.1 L115.5,171.5 L116.5,171.9 L117.5,172.3 L118.5,172.8 L119.5,173.2 L120.5,173.7 L121.5,174.3 L122.5,174.8 L123.5,175.4 L124.5,176.1 L125.5,176.8 L126.5,177.5 L127.5,178.3 L128.5,179.2 L129.5,180.1 L130.5,181.1 L131.5,182.2 L132.5,183.4 L133.5,184.7 L134.5,186.1 L135.5,187.7 L136.5,189.4 L137.5,191.3 L138.5,193.4 L139.5,195.7 L140.5,198.3 L141.5,201.2 L142.5,204.4 L143.5,207.9 L144.5,211.8 L145.5,216.0 L146.5,220.6 L147.5,225.4 L148.5,230.4 L149.5,235.4 L150.5,239.9 L151.5,243.4 L152.5,242.4 L153.5,241.5 L154.5,239.1 L155.5,235.3 L156.5,230.5 L157.5,225.2 L158.5,219.7 L159.5,214.2 L160.5,209.1 L161.5,204.4 L162.5,200.1 L163.5,196.3 L164.5,192.9 L165.5,189.9 L166.5,187.2 L167.5,184.9 L168.5,182.8 L169.5,181.0 L170.5,179.4 L171.5,177.9 L172.5,176.6 L173.5,175.5 L174.5,174.5 L175.5,173.5 L176.5,172.7 L177.5,171.9 L178.5,171.2 L179.5,170.6 L180.5,170.0 L181.5,169.4 L182.5,168.9 L183.5,168.5 L184.5,168.1 L185.5,167.7 L186.5,167.3 L187.5,166.9 L188.5,166.6 L189.5,166.3 L190.5,166.0 L191.5,165.7 L192.5,165.5 L193.5,165.2 L194.5,165.0 L195.5,164.8 L196.5,164.6 L197.5,164.4 L198.5,164.2 L199.5,164.0 L200.5,163.8 L201.5,163.6 L202.5,163.4 L203.5,163.3 L204.5,163.1 L205.5,163.0 L206.5,162.8 L207.5,162.7 L208.5,162.5 L209.5,162.4 L210.5,162.3 L211.5,162.1 L212.5,162.0 L213.5,161.9 L214.5,161.8 L215.5,161.6 L216.5,161.5 L217.5,161.4 L218.5,161.3 L219.5,161.2 L220.5,161.1 L221.5,161.0 L222.5,160.9 L223.5,160.8 L224.5,160.7 L225.5,160.6 L226.5,160.5 L227.5,160.4 L228.5,160.3 L229.5,160.2 L230.5,160.1 L231.5,160.0 L232.5,159.9 L233.5,159.8 L234.5,159.7 L235.5,159.6 L236.5,159.5 L237.5,159.4 L238.5,159.3 L239.5,159.2 L240.5,159.2 L241.5,159.1 L242.5,159.0 L243.5,158.9 L244.5,158.8 L245.5,158.7 L246.5,158.6 L247.5,158.6" fill="none" stroke="#3d8fc1" stroke-width="1"/><circle cx="43.5" cy="158.9" r="1.65" fill="#3d8fc1"/><circle cx="44.5" cy="159.0" r="1.65" fill="#3d8fc1"/><circle cx="45.5" cy="159.1" r="1.65" fill="#3d8fc1"/><circle cx="46.5" cy="159.2" r="1.65" fill="#3d8fc1"/><circle cx="47.5" cy="159.3" r="1.65" fill="#3d8fc1"/><circle cx="48.5" cy="159.4" r="1.65" fill="#3d8fc1"/><circle cx="49.5" cy="159.5" r="1.65" fill="#3d8fc1"/><circle cx="50.5" cy="159.7" r="1.65" fill="#3d8fc1"/><circle cx="51.5" cy="159.8" r="1.65" fill="#3d8fc1"/><circle cx="52.5" cy="159.9" r="1.65" fill="#3d8fc1"/><circle cx="53.5" cy="160.0" r="1.65" fill="#3d8fc1"/><circle cx="54.5" cy="160.1" r="1.65" fill="#3d8fc1"/><circle cx="55.5" cy="160.2" r="1.65" fill="#3d8fc1"/><circle cx="56.5" cy="160.4" r="1.65" fill="#3d8fc1"/><circle cx="57.5" cy="160.5" r="1.65" fill="#3d8fc1"/><circle cx="58.5" cy="160.6" r="1.65" fill="#3d8fc1"/><circle cx="59.5" cy="160.7" r="1.65" fill="#3d8fc1"/><circle cx="60.5" cy="160.8" r="1.65" fill="#3d8fc1"/><circle cx="61.5" cy="161.0" r="1.65" fill="#3d8fc1"/><circle cx="62.5" cy="161.1" r="1.65" fill="#3d8fc1"/><circle cx="63.5" cy="161.2" r="1.65" fill="#3d8fc1"/><circle cx="64.5" cy="161.3" r="1.65" fill="#3d8fc1"/><circle cx="65.5" cy="161.5" r="1.65" fill="#3d8fc1"/><circle cx="66.5" cy="161.6" r="1.65" fill="#3d8fc1"/><circle cx="67.5" cy="161.7" r="1.65" fill="#3d8fc1"/><circle cx="68.5" cy="161.8" r="1.65" fill="#3d8fc1"/><circle cx="69.5" cy="162.0" r="1.65" fill="#3d8fc1"/><circle cx="70.5" cy="162.1" r="1.65" fill="#3d8fc1"/><circle cx="71.5" cy="162.2" r="1.65" fill="#3d8fc1"/><circle cx="72.5" cy="162.4" r="1.65" fill="#3d8fc1"/><circle cx="73.5" cy="162.5" r="1.65" fill="#3d8fc1"/><circle cx="74.5" cy="162.6" r="1.65" fill="#3d8fc1"/><circle cx="75.5" cy="162.8" r="1.65" fill="#3d8fc1"/><circle cx="76.5" cy="162.9" r="1.65" fill="#3d8fc1"/><circle cx="77.5" cy="163.1" r="1.65" fill="#3d8fc1"/><circle cx="78.5" cy="163.2" r="1.65" fill="#3d8fc1"/><circle cx="79.5" cy="163.3" r="1.65" fill="#3d8fc1"/><circle cx="80.5" cy="163.5" r="1.65" fill="#3d8fc1"/><circle cx="81.5" cy="163.6" r="1.65" fill="#3d8fc1"/><circle cx="82.5" cy="163.8" r="1.65" fill="#3d8fc1"/><circle cx="83.5" cy="163.9" r="1.65" fill="#3d8fc1"/><circle cx="84.5" cy="164.1" r="1.65" fill="#3d8fc1"/><circle cx="85.5" cy="164.3" r="1.65" fill="#3d8fc1"/><circle cx="86.5" cy="164.4" r="1.65" fill="#3d8fc1"/><circle cx="87.5" cy="164.6" r="1.65" fill="#3d8fc1"/><circle cx="88.5" cy="164.8" r="1.65" fill="#3d8fc1"/><circle cx="89.5" cy="164.9" r="1.65" fill="#3d8fc1"/><circle cx="90.5" cy="165.1" r="1.65" fill="#3d8fc1"/><circle cx="91.5" cy="165.3" r="1.65" fill="#3d8fc1"/><circle cx="92.5" cy="165.5" r="1.65" fill="#3d8fc1"/><circle cx="93.5" cy="165.6" r="1.65" fill="#3d8fc1"/><circle cx="94.5" cy="165.8" r="1.65" fill="#3d8fc1"/><circle cx="95.5" cy="166.0" r="1.65" fill="#3d8fc1"/><circle cx="96.5" cy="166.2" r="1.65" fill="#3d8fc1"/><circle cx="97.5" cy="166.4" r="1.65" fill="#3d8fc1"/><circle cx="98.5" cy="166.6" r="1.65" fill="#3d8fc1"/><circle cx="99.5" cy="166.9" r="1.65" fill="#3d8fc1"/><circle cx="100.5" cy="167.1" r="1.65" fill="#3d8fc1"/><circle cx="101.5" cy="167.3" r="1.65" fill="#3d8fc1"/><circle cx="102.5" cy="167.5" r="1.65" fill="#3d8fc1"/><circle cx="103.5" cy="167.8" r="1.65" fill="#3d8fc1"/><circle cx="104.5" cy="168.0" r="1.65" fill="#3d8fc1"/><circle cx="105.5" cy="168.3" r="1.65" fill="#3d8fc1"/><circle cx="106.5" cy="168.5" r="1.65" fill="#3d8fc1"/><circle cx="107.5" cy="168.8" r="1.65" fill="#3d8fc1"/><circle cx="108.5" cy="169.1" r="1.65" fill="#3d8fc1"/><circle cx="109.5" cy="169.4" r="1.65" fill="#3d8fc1"/><circle cx="110.5" cy="169.7" r="1.65" fill="#3d8fc1"/><circle cx="111.5" cy="170.0" r="1.65" fill="#3d8fc1"/><circle cx="112.5" cy="170.4" r="1.65" fill="#3d8fc1"/><circle cx="113.5" cy="170.7" r="1.65" fill="#3d8fc1"/><circle cx="114.5" cy="171.1" r="1.65" fill="#3d8fc1"/><circle cx="115.5" cy="171.5" r="1.65" fill="#3d8fc1"/><circle cx="116.5" cy="171.9" r="1.65" fill="#3d8fc1"/><circle cx="117.5" cy="172.3" r="1.65" fill="#3d8fc1"/><circle cx="118.5" cy="172.8" r="1.65" fill="#3d8fc1"/><circle cx="119.5" cy="173.2" r="1.65" fill="#3d8fc1"/><circle cx="120.5" cy="173.7" r="1.65" fill="#3d8fc1"/><circle cx="121.5" cy="174.3" r="1.65" fill="#3d8fc1"/><circle cx="122.5" cy="174.8" r="1.65" fill="#3d8fc1"/><circle cx="123.5" cy="175.4" r="1.65" fill="#3d8fc1"/><circle cx="124.5" cy="176.1" r="1.65" fill="#3d8fc1"/><circle cx="125.5" cy="176.8" r="1.65" fill="#3d8fc1"/><circle cx="126.5" cy="177.5" r="1.65" fill="#3d8fc1"/><circle cx="127.5" cy="178.3" r="1.65" fill="#3d8fc1"/><circle cx="128.5" cy="179.2" r="1.65" fill="#3d8fc1"/><circle cx="129.5" cy="180.1" r="1.65" fill="#3d8fc1"/><circle cx="130.5" cy="181.1" r="1.65" fill="#3d8fc1"/><circle cx="131.5" cy="182.2" r="1.65" fill="#3d8fc1"/><circle cx="132.5" cy="183.4" r="1.65" fill="#3d8fc1"/><circle cx="133.5" cy="184.7" r="1.65" fill="#3d8fc1"/><circle cx="134.5" cy="186.1" r="1.65" fill="#3d8fc1"/><circle cx="135.5" cy="187.7" r="1.65" fill="#3d8fc1"/><circle cx="136.5" cy="189.4" r="1.65" fill="#3d8fc1"/><circle cx="137.5" cy="191.3" r="1.65" fill="#3d8fc1"/><circle cx="138.5" cy="193.4" r="1.65" fill="#3d8fc1"/><circle cx="139.5" cy="195.7" r="1.65" fill="#3d8fc1"/><circle cx="140.5" cy="198.3" r="1.65" fill="#3d8fc1"/><circle cx="141.5" cy="201.2" r="1.65" fill="#3d8fc1"/><circle cx="142.5" cy="204.4" r="1.65" fill="#3d8fc1"/><circle cx="143.5" cy="207.9" r="1.65" fill="#3d8fc1"/><circle cx="144.5" cy="211.8" r="1.65" fill="#3d8fc1"/><circle cx="145.5" cy="216.0" r="1.65" fill="#3d8fc1"/><circle cx="146.5" cy="220.6" r="1.65" fill="#3d8fc1"/><circle cx="147.5" cy="225.4" r="1.65" fill="#3d8fc1"/><circle cx="148.5" cy="230.4" r="1.65" fill="#3d8fc1"/><circle cx="149.5" cy="235.4" r="1.65" fill="#3d8fc1"/><circle cx="150.5" cy="239.9" r="1.65" fill="#3d8fc1"/><circle cx="151.5" cy="243.4" r="1.65" fill="#3d8fc1"/><circle cx="152.5" cy="242.4" r="1.65" fill="#3d8fc1"/><circle cx="153.5" cy="241.5" r="1.65" fill="#3d8fc1"/><circle cx="154.5" cy="239.1" r="1.65" fill="#3d8fc1"/><circle cx="155.5" cy="235.3" r="1.65" fill="#3d8fc1"/><circle cx="156.5" cy="230.5" r="1.65" fill="#3d8fc1"/><circle cx="157.5" cy="225.2" r="1.65" fill="#3d8fc1"/><circle cx="158.5" cy="219.7" r="1.65" fill="#3d8fc1"/><circle cx="159.5" cy="214.2" r="1.65" fill="#3d8fc1"/><circle cx="160.5" cy="209.1" r="1.65" fill="#3d8fc1"/><circle cx="161.5" cy="204.4" r="1.65" fill="#3d8fc1"/><circle cx="162.5" cy="200.1" r="1.65" fill="#3d8fc1"/><circle cx="163.5" cy="196.3" r="1.65" fill="#3d8fc1"/><circle cx="164.5" cy="192.9" r="1.65" fill="#3d8fc1"/><circle cx="165.5" cy="189.9" r="1.65" fill="#3d8fc1"/><circle cx="166.5" cy="187.2" r="1.65" fill="#3d8fc1"/><circle cx="167.5" cy="184.9" r="1.65" fill="#3d8fc1"/><circle cx="168.5" cy="182.8" r="1.65" fill="#3d8fc1"/><circle cx="169.5" cy="181.0" r="1.65" fill="#3d8fc1"/><circle cx="170.5" cy="179.4" r="1.65" fill="#3d8fc1"/><circle cx="171.5" cy="177.9" r="1.65" fill="#3d8fc1"/><circle cx="172.5" cy="176.6" r="1.65" fill="#3d8fc1"/><circle cx="173.5" cy="175.5" r="1.65" fill="#3d8fc1"/><circle cx="174.5" cy="174.5" r="1.65" fill="#3d8fc1"/><circle cx="175.5" cy="173.5" r="1.65" fill="#3d8fc1"/><circle cx="176.5" cy="172.7" r="1.65" fill="#3d8fc1"/><circle cx="177.5" cy="171.9" r="1.65" fill="#3d8fc1"/><circle cx="178.5" cy="171.2" r="1.65" fill="#3d8fc1"/><circle cx="179.5" cy="170.6" r="1.65" fill="#3d8fc1"/><circle cx="180.5" cy="170.0" r="1.65" fill="#3d8fc1"/><circle cx="181.5" cy="169.4" r="1.65" fill="#3d8fc1"/><circle cx="182.5" cy="168.9" r="1.65" fill="#3d8fc1"/><circle cx="183.5" cy="168.5" r="1.65" fill="#3d8fc1"/><circle cx="184.5" cy="168.1" r="1.65" fill="#3d8fc1"/><circle cx="185.5" cy="167.7" r="1.65" fill="#3d8fc1"/><circle cx="186.5" cy="167.3" r="1.65" fill="#3d8fc1"/><circle cx="187.5" cy="166.9" r="1.65" fill="#3d8fc1"/><circle cx="188.5" cy="166.6" r="1.65" fill="#3d8fc1"/><circle cx="189.5" cy="166.3" r="1.65" fill="#3d8fc1"/><circle cx="190.5" cy="166.0" r="1.65" fill="#3d8fc1"/><circle cx="191.5" cy="165.7" r="1.65" fill="#3d8fc1"/><circle cx="192.5" cy="165.5" r="1.65" fill="#3d8fc1"/><circle cx="193.5" cy="165.2" r="1.65" fill="#3d8fc1"/><circle cx="194.5" cy="165.0" r="1.65" fill="#3d8fc1"/><circle cx="195.5" cy="164.8" r="1.65" fill="#3d8fc1"/><circle cx="196.5" cy="164.6" r="1.65" fill="#3d8fc1"/><circle cx="197.5" cy="164.4" r="1.65" fill="#3d8fc1"/><circle cx="198.5" cy="164.2" r="1.65" fill="#3d8fc1"/><circle cx="199.5" cy="164.0" r="1.65" fill="#3d8fc1"/><circle cx="200.5" cy="163.8" r="1.65" fill="#3d8fc1"/><circle cx="201.5" cy="163.6" r="1.65" fill="#3d8fc1"/><circle cx="202.5" cy="163.4" r="1.65" fill="#3d8fc1"/><circle cx="203.5" cy="163.3" r="1.65" fill="#3d8fc1"/><circle cx="204.5" cy="163.1" r="1.65" fill="#3d8fc1"/><circle cx="205.5" cy="163.0" r="1.65" fill="#3d8fc1"/><circle cx="206.5" cy="162.8" r="1.65" fill="#3d8fc1"/><circle cx="207.5" cy="162.7" r="1.65" fill="#3d8fc1"/><circle cx="208.5" cy="162.5" r="1.65" fill="#3d8fc1"/><circle cx="209.5" cy="162.4" r="1.65" fill="#3d8fc1"/><circle cx="210.5" cy="162.3" r="1.65" fill="#3d8fc1"/><circle cx="211.5" cy="162.1" r="1.65" fill="#3d8fc1"/><circle cx="212.5" cy="162.0" r="1.65" fill="#3d8fc1"/><circle cx="213.5" cy="161.9" r="1.65" fill="#3d8fc1"/><circle cx="214.5" cy="161.8" r="1.65" fill="#3d8fc1"/><circle cx="215.5" cy="161.6" r="1.65" fill="#3d8fc1"/><circle cx="216.5" cy="161.5" r="1.65" fill="#3d8fc1"/><circle cx="217.5" cy="161.4" r="1.65" fill="#3d8fc1"/><circle cx="218.5" cy="161.3" r="1.65" fill="#3d8fc1"/><circle cx="219.5" cy="161.2" r="1.65" fill="#3d8fc1"/><circle cx="220.5" cy="161.1" r="1.65" fill="#3d8fc1"/><circle cx="221.5" cy="161.0" r="1.65" fill="#3d8fc1"/><circle cx="222.5" cy="160.9" r="1.65" fill="#3d8fc1"/><circle cx="223.5" cy="160.8" r="1.65" fill="#3d8fc1"/><circle cx="224.5" cy="160.7" r="1.65" fill="#3d8fc1"/><circle cx="225.5" cy="160.6" r="1.65" fill="#3d8fc1"/><circle cx="226.5" cy="160.5" r="1.65" fill="#3d8fc1"/><circle cx="227.5" cy="160.4" r="1.65" fill="#3d8fc1"/><circle cx="228.5" cy="160.3" r="1.65" fill="#3d8fc1"/><circle cx="229.5" cy="160.2" r="1.65" fill="#3d8fc1"/><circle cx="230.5" cy="160.1" r="1.65" fill="#3d8fc1"/><circle cx="231.5" cy="160.0" r="1.65" fill="#3d8fc1"/><circle cx="232.5" cy="159.9" r="1.65" fill="#3d8fc1"/><circle cx="233.5" cy="159.8" r="1.65" fill="#3d8fc1"/><circle cx="234.5" cy="159.7" r="1.65" fill="#3d8fc1"/><circle cx="235.5" cy="159.6" r="1.65" fill="#3d8fc1"/><circle cx="236.5" cy="159.5" r="1.65" fill="#3d8fc1"/><circle cx="237.5" cy="159.4" r="1.65" fill="#3d8fc1"/><circle cx="238.5" cy="159.3" r="1.65" fill="#3d8fc1"/><circle cx="239.5" cy="159.2" r="1.65" fill="#3d8fc1"/><circle cx="240.5" cy="159.2" r="1.65" fill="#3d8fc1"/><circle cx="241.5" cy="159.1" r="1.65" fill="#3d8fc1"/><circle cx="242.5" cy="159.0" r="1.65" fill="#3d8fc1"/><circle cx="243.5" cy="158.9" r="1.65" fill="#3d8fc1"/><circle cx="244.5" cy="158.8" r="1.65" fill="#3d8fc1"/><circle cx="245.5" cy="158.7" r="1.65" fill="#3d8fc1"/><circle cx="246.5" cy="158.6" r="1.65" fill="#3d8fc1"/><circle cx="247.5" cy="158.6" r="1.65" fill="#3d8fc1"/><path d="M43.5,162.0 L44.5,162.1 L45.5,162.2 L46.5,162.3 L47.5,162.4 L48.5,162.5 L49.5,162.6 L50.5,162.7 L51.5,162.7 L52.5,162.8 L53.5,162.9 L54.5,163.0 L55.5,163.1 L56.5,163.2 L57.5,163.3 L58.5,163.4 L59.5,163.5 L60.5,163.6 L61.5,163.7 L62.5,163.8 L63.5,163.9 L64.5,164.0 L65.5,164.1 L66.5,164.2 L67.5,164.2 L68.5,164.3 L69.5,164.4 L70.5,164.5 L71.5,164.6 L72.5,164.7 L73.5,164.8 L74.5,164.9 L75.5,165.1 L76.5,165.2 L77.5,165.3 L78.5,165.4 L79.5,165.5 L80.5,165.6 L81.5,165.7 L82.5,165.8 L83.5,165.9 L84.5,166.0 L85.5,166.1 L86.5,166.3 L87.5,166.4 L88.5,166.5 L89.5,166.6 L90.5,166.8 L91.5,166.9 L92.5,167.0 L93.5,167.2 L94.5,167.3 L95.5,167.4 L96.5,167.6 L97.5,167.8 L98.5,167.9 L99.5,168.1 L100.5,168.2 L101.5,168.4 L102.5,168.6 L103.5,168.8 L104.5,169.0 L105.5,169.2 L106.5,169.5 L107.5,169.7 L108.5,170.0 L109.5,170.2 L110.5,170.5 L111.5,170.9 L112.5,171.2 L113.5,171.6 L114.5,172.0 L115.5,172.5 L116.5,173.0 L117.5,173.6 L118.5,174.2 L119.5,174.9 L120.5,175.8 L121.5,176.7 L122.5,177.8 L123.5,179.1 L124.5,180.7 L125.5,182.5 L126.5,184.7 L127.5,187.4 L128.5,190.7 L129.5,194.7 L130.5,199.5 L131.5,205.3 L132.5,212.1 L133.5,219.5 L134.5,226.6 L135.5,231.8 L136.5,231.9 L137.5,231.1 L138.5,229.0 L139.5,225.6 L140.5,221.3 L141.5,216.4 L142.5,211.3 L143.5,206.4 L144.5,201.8 L145.5,197.6 L146.5,193.9 L147.5,190.7 L148.5,187.9 L149.5,185.4 L150.5,183.3 L151.5,181.4 L152.5,179.8 L153.5,178.4 L154.5,177.2 L155.5,176.1 L156.5,175.1 L157.5,174.3 L158.5,173.5 L159.5,172.9 L160.5,172.2 L161.5,171.7 L162.5,171.2 L163.5,170.7 L164.5,170.3 L165.5,169.9 L166.5,169.6 L167.5,169.3 L168.5,169.0 L169.5,168.7 L170.5,168.4 L171.5,168.2 L172.5,167.9 L173.5,167.7 L174.5,167.5 L175.5,167.3 L176.5,167.1 L177.5,166.9 L178.5,166.8 L179.5,166.6 L180.5,166.4 L181.5,166.3 L182.5,166.1 L183.5,166.0 L184.5,165.9 L185.5,165.7 L186.5,165.6 L187.5,165.5 L188.5,165.3 L189.5,165.2 L190.5,165.1 L191.5,165.0 L192.5,164.9 L193.5,164.8 L194.5,164.7 L195.5,164.6 L196.5,164.4 L197.5,164.3 L198.5,164.2 L199.5,164.1 L200.5,164.0 L201.5,163.9 L202.5,163.8 L203.5,163.8 L204.5,163.7 L205.5,163.6 L206.5,163.5 L207.5,163.4 L208.5,163.3 L209.5,163.2 L210.5,163.1 L211.5,163.0 L212.5,162.9 L213.5,162.9 L214.5,162.8 L215.5,162.7 L216.5,162.6 L217.5,162.5 L218.5,162.4 L219.5,162.3 L220.5,162.3 L221.5,162.2 L222.5,162.1 L223.5,162.0 L224.5,161.9 L225.5,161.8 L226.5,161.8 L227.5,161.7 L228.5,161.6 L229.5,161.5 L230.5,161.4 L231.5,161.4 L232.5,161.3 L233.5,161.2 L234.5,161.1 L235.5,161.0 L236.5,161.0 L237.5,160.9 L238.5,160.8 L239.5,160.7 L240.5,160.7 L241.5,160.6 L242.5,160.5 L243.5,160.4 L244.5,160.3 L245.5,160.3 L246.5,160.2 L247.5,160.1" fill="none" stroke="#b3152d" stroke-width="1"/><circle cx="43.5" cy="162.0" r="1.65" fill="#b3152d"/><circle cx="44.5" cy="162.1" r="1.65" fill="#b3152d"/><circle cx="45.5" cy="162.2" r="1.65" fill="#b3152d"/><circle cx="46.5" cy="162.3" r="1.65" fill="#b3152d"/><circle cx="47.5" cy="162.4" r="1.65" fill="#b3152d"/><circle cx="48.5" cy="162.5" r="1.65" fill="#b3152d"/><circle cx="49.5" cy="162.6" r="1.65" fill="#b3152d"/><circle cx="50.5" cy="162.7" r="1.65" fill="#b3152d"/><circle cx="51.5" cy="162.7" r="1.65" fill="#b3152d"/><circle cx="52.5" cy="162.8" r="1.65" fill="#b3152d"/><circle cx="53.5" cy="162.9" r="1.65" fill="#b3152d"/><circle cx="54.5" cy="163.0" r="1.65" fill="#b3152d"/><circle cx="55.5" cy="163.1" r="1.65" fill="#b3152d"/><circle cx="56.5" cy="163.2" r="1.65" fill="#b3152d"/><circle cx="57.5" cy="163.3" r="1.65" fill="#b3152d"/><circle cx="58.5" cy="163.4" r="1.65" fill="#b3152d"/><circle cx="59.5" cy="163.5" r="1.65" fill="#b3152d"/><circle cx="60.5" cy="163.6" r="1.65" fill="#b3152d"/><circle cx="61.5" cy="163.7" r="1.65" fill="#b3152d"/><circle cx="62.5" cy="163.8" r="1.65" fill="#b3152d"/><circle cx="63.5" cy="163.9" r="1.65" fill="#b3152d"/><circle cx="64.5" cy="164.0" r="1.65" fill="#b3152d"/><circle cx="65.5" cy="164.1" r="1.65" fill="#b3152d"/><circle cx="66.5" cy="164.2" r="1.65" fill="#b3152d"/><circle cx="67.5" cy="164.2" r="1.65" fill="#b3152d"/><circle cx="68.5" cy="164.3" r="1.65" fill="#b3152d"/><circle cx="69.5" cy="164.4" r="1.65" fill="#b3152d"/><circle cx="70.5" cy="164.5" r="1.65" fill="#b3152d"/><circle cx="71.5" cy="164.6" r="1.65" fill="#b3152d"/><circle cx="72.5" cy="164.7" r="1.65" fill="#b3152d"/><circle cx="73.5" cy="164.8" r="1.65" fill="#b3152d"/><circle cx="74.5" cy="164.9" r="1.65" fill="#b3152d"/><circle cx="75.5" cy="165.1" r="1.65" fill="#b3152d"/><circle cx="76.5" cy="165.2" r="1.65" fill="#b3152d"/><circle cx="77.5" cy="165.3" r="1.65" fill="#b3152d"/><circle cx="78.5" cy="165.4" r="1.65" fill="#b3152d"/><circle cx="79.5" cy="165.5" r="1.65" fill="#b3152d"/><circle cx="80.5" cy="165.6" r="1.65" fill="#b3152d"/><circle cx="81.5" cy="165.7" r="1.65" fill="#b3152d"/><circle cx="82.5" cy="165.8" r="1.65" fill="#b3152d"/><circle cx="83.5" cy="165.9" r="1.65" fill="#b3152d"/><circle cx="84.5" cy="166.0" r="1.65" fill="#b3152d"/><circle cx="85.5" cy="166.1" r="1.65" fill="#b3152d"/><circle cx="86.5" cy="166.3" r="1.65" fill="#b3152d"/><circle cx="87.5" cy="166.4" r="1.65" fill="#b3152d"/><circle cx="88.5" cy="166.5" r="1.65" fill="#b3152d"/><circle cx="89.5" cy="166.6" r="1.65" fill="#b3152d"/><circle cx="90.5" cy="166.8" r="1.65" fill="#b3152d"/><circle cx="91.5" cy="166.9" r="1.65" fill="#b3152d"/><circle cx="92.5" cy="167.0" r="1.65" fill="#b3152d"/><circle cx="93.5" cy="167.2" r="1.65" fill="#b3152d"/><circle cx="94.5" cy="167.3" r="1.65" fill="#b3152d"/><circle cx="95.5" cy="167.4" r="1.65" fill="#b3152d"/><circle cx="96.5" cy="167.6" r="1.65" fill="#b3152d"/><circle cx="97.5" cy="167.8" r="1.65" fill="#b3152d"/><circle cx="98.5" cy="167.9" r="1.65" fill="#b3152d"/><circle cx="99.5" cy="168.1" r="1.65" fill="#b3152d"/><circle cx="100.5" cy="168.2" r="1.65" fill="#b3152d"/><circle cx="101.5" cy="168.4" r="1.65" fill="#b3152d"/><circle cx="102.5" cy="168.6" r="1.65" fill="#b3152d"/><circle cx="103.5" cy="168.8" r="1.65" fill="#b3152d"/><circle cx="104.5" cy="169.0" r="1.65" fill="#b3152d"/><circle cx="105.5" cy="169.2" r="1.65" fill="#b3152d"/><circle cx="106.5" cy="169.5" r="1.65" fill="#b3152d"/><circle cx="107.5" cy="169.7" r="1.65" fill="#b3152d"/><circle cx="108.5" cy="170.0" r="1.65" fill="#b3152d"/><circle cx="109.5" cy="170.2" r="1.65" fill="#b3152d"/><circle cx="110.5" cy="170.5" r="1.65" fill="#b3152d"/><circle cx="111.5" cy="170.9" r="1.65" fill="#b3152d"/><circle cx="112.5" cy="171.2" r="1.65" fill="#b3152d"/><circle cx="113.5" cy="171.6" r="1.65" fill="#b3152d"/><circle cx="114.5" cy="172.0" r="1.65" fill="#b3152d"/><circle cx="115.5" cy="172.5" r="1.65" fill="#b3152d"/><circle cx="116.5" cy="173.0" r="1.65" fill="#b3152d"/><circle cx="117.5" cy="173.6" r="1.65" fill="#b3152d"/><circle cx="118.5" cy="174.2" r="1.65" fill="#b3152d"/><circle cx="119.5" cy="174.9" r="1.65" fill="#b3152d"/><circle cx="120.5" cy="175.8" r="1.65" fill="#b3152d"/><circle cx="121.5" cy="176.7" r="1.65" fill="#b3152d"/><circle cx="122.5" cy="177.8" r="1.65" fill="#b3152d"/><circle cx="123.5" cy="179.1" r="1.65" fill="#b3152d"/><circle cx="124.5" cy="180.7" r="1.65" fill="#b3152d"/><circle cx="125.5" cy="182.5" r="1.65" fill="#b3152d"/><circle cx="126.5" cy="184.7" r="1.65" fill="#b3152d"/><circle cx="127.5" cy="187.4" r="1.65" fill="#b3152d"/><circle cx="128.5" cy="190.7" r="1.65" fill="#b3152d"/><circle cx="129.5" cy="194.7" r="1.65" fill="#b3152d"/><circle cx="130.5" cy="199.5" r="1.65" fill="#b3152d"/><circle cx="131.5" cy="205.3" r="1.65" fill="#b3152d"/><circle cx="132.5" cy="212.1" r="1.65" fill="#b3152d"/><circle cx="133.5" cy="219.5" r="1.65" fill="#b3152d"/><circle cx="134.5" cy="226.6" r="1.65" fill="#b3152d"/><circle cx="135.5" cy="231.8" r="1.65" fill="#b3152d"/><circle cx="136.5" cy="231.9" r="1.65" fill="#b3152d"/><circle cx="137.5" cy="231.1" r="1.65" fill="#b3152d"/><circle cx="138.5" cy="229.0" r="1.65" fill="#b3152d"/><circle cx="139.5" cy="225.6" r="1.65" fill="#b3152d"/><circle cx="140.5" cy="221.3" r="1.65" fill="#b3152d"/><circle cx="141.5" cy="216.4" r="1.65" fill="#b3152d"/><circle cx="142.5" cy="211.3" r="1.65" fill="#b3152d"/><circle cx="143.5" cy="206.4" r="1.65" fill="#b3152d"/><circle cx="144.5" cy="201.8" r="1.65" fill="#b3152d"/><circle cx="145.5" cy="197.6" r="1.65" fill="#b3152d"/><circle cx="146.5" cy="193.9" r="1.65" fill="#b3152d"/><circle cx="147.5" cy="190.7" r="1.65" fill="#b3152d"/><circle cx="148.5" cy="187.9" r="1.65" fill="#b3152d"/><circle cx="149.5" cy="185.4" r="1.65" fill="#b3152d"/><circle cx="150.5" cy="183.3" r="1.65" fill="#b3152d"/><circle cx="151.5" cy="181.4" r="1.65" fill="#b3152d"/><circle cx="152.5" cy="179.8" r="1.65" fill="#b3152d"/><circle cx="153.5" cy="178.4" r="1.65" fill="#b3152d"/><circle cx="154.5" cy="177.2" r="1.65" fill="#b3152d"/><circle cx="155.5" cy="176.1" r="1.65" fill="#b3152d"/><circle cx="156.5" cy="175.1" r="1.65" fill="#b3152d"/><circle cx="157.5" cy="174.3" r="1.65" fill="#b3152d"/><circle cx="158.5" cy="173.5" r="1.65" fill="#b3152d"/><circle cx="159.5" cy="172.9" r="1.65" fill="#b3152d"/><circle cx="160.5" cy="172.2" r="1.65" fill="#b3152d"/><circle cx="161.5" cy="171.7" r="1.65" fill="#b3152d"/><circle cx="162.5" cy="171.2" r="1.65" fill="#b3152d"/><circle cx="163.5" cy="170.7" r="1.65" fill="#b3152d"/><circle cx="164.5" cy="170.3" r="1.65" fill="#b3152d"/><circle cx="165.5" cy="169.9" r="1.65" fill="#b3152d"/><circle cx="166.5" cy="169.6" r="1.65" fill="#b3152d"/><circle cx="167.5" cy="169.3" r="1.65" fill="#b3152d"/><circle cx="168.5" cy="169.0" r="1.65" fill="#b3152d"/><circle cx="169.5" cy="168.7" r="1.65" fill="#b3152d"/><circle cx="170.5" cy="168.4" r="1.65" fill="#b3152d"/><circle cx="171.5" cy="168.2" r="1.65" fill="#b3152d"/><circle cx="172.5" cy="167.9" r="1.65" fill="#b3152d"/><circle cx="173.5" cy="167.7" r="1.65" fill="#b3152d"/><circle cx="174.5" cy="167.5" r="1.65" fill="#b3152d"/><circle cx="175.5" cy="167.3" r="1.65" fill="#b3152d"/><circle cx="176.5" cy="167.1" r="1.65" fill="#b3152d"/><circle cx="177.5" cy="166.9" r="1.65" fill="#b3152d"/><circle cx="178.5" cy="166.8" r="1.65" fill="#b3152d"/><circle cx="179.5" cy="166.6" r="1.65" fill="#b3152d"/><circle cx="180.5" cy="166.4" r="1.65" fill="#b3152d"/><circle cx="181.5" cy="166.3" r="1.65" fill="#b3152d"/><circle cx="182.5" cy="166.1" r="1.65" fill="#b3152d"/><circle cx="183.5" cy="166.0" r="1.65" fill="#b3152d"/><circle cx="184.5" cy="165.9" r="1.65" fill="#b3152d"/><circle cx="185.5" cy="165.7" r="1.65" fill="#b3152d"/><circle cx="186.5" cy="165.6" r="1.65" fill="#b3152d"/><circle cx="187.5" cy="165.5" r="1.65" fill="#b3152d"/><circle cx="188.5" cy="165.3" r="1.65" fill="#b3152d"/><circle cx="189.5" cy="165.2" r="1.65" fill="#b3152d"/><circle cx="190.5" cy="165.1" r="1.65" fill="#b3152d"/><circle cx="191.5" cy="165.0" r="1.65" fill="#b3152d"/><circle cx="192.5" cy="164.9" r="1.65" fill="#b3152d"/><circle cx="193.5" cy="164.8" r="1.65" fill="#b3152d"/><circle cx="194.5" cy="164.7" r="1.65" fill="#b3152d"/><circle cx="195.5" cy="164.6" r="1.65" fill="#b3152d"/><circle cx="196.5" cy="164.4" r="1.65" fill="#b3152d"/><circle cx="197.5" cy="164.3" r="1.65" fill="#b3152d"/><circle cx="198.5" cy="164.2" r="1.65" fill="#b3152d"/><circle cx="199.5" cy="164.1" r="1.65" fill="#b3152d"/><circle cx="200.5" cy="164.0" r="1.65" fill="#b3152d"/><circle cx="201.5" cy="163.9" r="1.65" fill="#b3152d"/><circle cx="202.5" cy="163.8" r="1.65" fill="#b3152d"/><circle cx="203.5" cy="163.8" r="1.65" fill="#b3152d"/><circle cx="204.5" cy="163.7" r="1.65" fill="#b3152d"/><circle cx="205.5" cy="163.6" r="1.65" fill="#b3152d"/><circle cx="206.5" cy="163.5" r="1.65" fill="#b3152d"/><circle cx="207.5" cy="163.4" r="1.65" fill="#b3152d"/><circle cx="208.5" cy="163.3" r="1.65" fill="#b3152d"/><circle cx="209.5" cy="163.2" r="1.65" fill="#b3152d"/><circle cx="210.5" cy="163.1" r="1.65" fill="#b3152d"/><circle cx="211.5" cy="163.0" r="1.65" fill="#b3152d"/><circle cx="212.5" cy="162.9" r="1.65" fill="#b3152d"/><circle cx="213.5" cy="162.9" r="1.65" fill="#b3152d"/><circle cx="214.5" cy="162.8" r="1.65" fill="#b3152d"/><circle cx="215.5" cy="162.7" r="1.65" fill="#b3152d"/><circle cx="216.5" cy="162.6" r="1.65" fill="#b3152d"/><circle cx="217.5" cy="162.5" r="1.65" fill="#b3152d"/><circle cx="218.5" cy="162.4" r="1.65" fill="#b3152d"/><circle cx="219.5" cy="162.3" r="1.65" fill="#b3152d"/><circle cx="220.5" cy="162.3" r="1.65" fill="#b3152d"/><circle cx="221.5" cy="162.2" r="1.65" fill="#b3152d"/><circle cx="222.5" cy="162.1" r="1.65" fill="#b3152d"/><circle cx="223.5" cy="162.0" r="1.65" fill="#b3152d"/><circle cx="224.5" cy="161.9" r="1.65" fill="#b3152d"/><circle cx="225.5" cy="161.8" r="1.65" fill="#b3152d"/><circle cx="226.5" cy="161.8" r="1.65" fill="#b3152d"/><circle cx="227.5" cy="161.7" r="1.65" fill="#b3152d"/><circle cx="228.5" cy="161.6" r="1.65" fill="#b3152d"/><circle cx="229.5" cy="161.5" r="1.65" fill="#b3152d"/><circle cx="230.5" cy="161.4" r="1.65" fill="#b3152d"/><circle cx="231.5" cy="161.4" r="1.65" fill="#b3152d"/><circle cx="232.5" cy="161.3" r="1.65" fill="#b3152d"/><circle cx="233.5" cy="161.2" r="1.65" fill="#b3152d"/><circle cx="234.5" cy="161.1" r="1.65" fill="#b3152d"/><circle cx="235.5" cy="161.0" r="1.65" fill="#b3152d"/><circle cx="236.5" cy="161.0" r="1.65" fill="#b3152d"/><circle cx="237.5" cy="160.9" r="1.65" fill="#b3152d"/><circle cx="238.5" cy="160.8" r="1.65" fill="#b3152d"/><circle cx="239.5" cy="160.7" r="1.65" fill="#b3152d"/><circle cx="240.5" cy="160.7" r="1.65" fill="#b3152d"/><circle cx="241.5" cy="160.6" r="1.65" fill="#b3152d"/><circle cx="242.5" cy="160.5" r="1.65" fill="#b3152d"/><circle cx="243.5" cy="160.4" r="1.65" fill="#b3152d"/><circle cx="244.5" cy="160.3" r="1.65" fill="#b3152d"/><circle cx="245.5" cy="160.3" r="1.65" fill="#b3152d"/><circle cx="246.5" cy="160.2" r="1.65" fill="#b3152d"/><circle cx="247.5" cy="160.1" r="1.65" fill="#b3152d"/><path d="M43.5,160.9 L44.5,161.0 L45.5,161.1 L46.5,161.1 L47.5,161.2 L48.5,161.3 L49.5,161.3 L50.5,161.4 L51.5,161.5 L52.5,161.5 L53.5,161.6 L54.5,161.7 L55.5,161.7 L56.5,161.8 L57.5,161.9 L58.5,161.9 L59.5,162.0 L60.5,162.1 L61.5,162.1 L62.5,162.2 L63.5,162.3 L64.5,162.3 L65.5,162.4 L66.5,162.5 L67.5,162.5 L68.5,162.6 L69.5,162.7 L70.5,162.7 L71.5,162.8 L72.5,162.9 L73.5,162.9 L74.5,163.0 L75.5,163.1 L76.5,163.2 L77.5,163.2 L78.5,163.3 L79.5,163.4 L80.5,163.4 L81.5,163.5 L82.5,163.6 L83.5,163.7 L84.5,163.7 L85.5,163.8 L86.5,163.9 L87.5,164.0 L88.5,164.0 L89.5,164.1 L90.5,164.2 L91.5,164.3 L92.5,164.3 L93.5,164.4 L94.5,164.5 L95.5,164.6 L96.5,164.7 L97.5,164.8 L98.5,164.8 L99.5,164.9 L100.5,165.0 L101.5,165.1 L102.5,165.2 L103.5,165.3 L104.5,165.4 L105.5,165.5 L106.5,165.6 L107.5,165.7 L108.5,165.8 L109.5,165.9 L110.5,166.0 L111.5,166.1 L112.5,166.2 L113.5,166.3 L114.5,166.4 L115.5,166.5 L116.5,166.6 L117.5,166.7 L118.5,166.9 L119.5,167.0 L120.5,167.1 L121.5,167.3 L122.5,167.4 L123.5,167.5 L124.5,167.7 L125.5,167.9 L126.5,168.0 L127.5,168.2 L128.5,168.4 L129.5,168.6 L130.5,168.8 L131.5,169.0 L132.5,169.2 L133.5,169.4 L134.5,169.7 L135.5,170.0 L136.5,170.2 L137.5,170.5 L138.5,170.9 L139.5,171.2 L140.5,171.6 L141.5,172.0 L142.5,172.5 L143.5,173.0 L144.5,173.5 L145.5,174.2 L146.5,174.8 L147.5,175.6 L148.5,176.4 L149.5,177.4 L150.5,178.5 L151.5,179.7 L152.5,181.1 L153.5,182.8 L154.5,184.7 L155.5,186.9 L156.5,189.5 L157.5,192.5 L158.5,196.1 L159.5,200.3 L160.5,205.1 L161.5,210.7 L162.5,217.0 L163.5,223.6 L164.5,230.1 L165.5,235.6 L166.5,239.0 L167.5,233.8 L168.5,232.1 L169.5,229.4 L170.5,226.0 L171.5,222.0 L172.5,217.9 L173.5,213.7 L174.5,209.6 L175.5,205.8 L176.5,202.2 L177.5,198.9 L178.5,195.9 L179.5,193.1 L180.5,190.6 L181.5,188.4 L182.5,186.4 L183.5,184.5 L184.5,182.9 L185.5,181.4 L186.5,180.0 L187.5,178.8 L188.5,177.7 L189.5,176.6 L190.5,175.7 L191.5,174.9 L192.5,174.1 L193.5,173.4 L194.5,172.7 L195.5,172.1 L196.5,171.5 L197.5,171.0 L198.5,170.5 L199.5,170.1 L200.5,169.6 L201.5,169.2 L202.5,168.9 L203.5,168.5 L204.5,168.2 L205.5,167.9 L206.5,167.6 L207.5,167.4 L208.5,167.1 L209.5,166.9 L210.5,166.6 L211.5,166.4 L212.5,166.2 L213.5,166.0 L214.5,165.8 L215.5,165.7 L216.5,165.5 L217.5,165.3 L218.5,165.2 L219.5,165.1 L220.5,164.9 L221.5,164.8 L222.5,164.7 L223.5,164.5 L224.5,164.4 L225.5,164.3 L226.5,164.2 L227.5,164.1 L228.5,164.0 L229.5,163.9 L230.5,163.8 L231.5,163.7 L232.5,163.6 L233.5,163.5 L234.5,163.4 L235.5,163.4 L236.5,163.3 L237.5,163.2 L238.5,163.1 L239.5,163.1 L240.5,163.0 L241.5,162.9 L242.5,162.9 L243.5,162.8 L244.5,162.7 L245.5,162.7 L246.5,162.6 L247.5,162.5" fill="none" stroke="#b3152d" stroke-width="1"/><circle cx="43.5" cy="160.9" r="1.65" fill="#b3152d"/><circle cx="44.5" cy="161.0" r="1.65" fill="#b3152d"/><circle cx="45.5" cy="161.1" r="1.65" fill="#b3152d"/><circle cx="46.5" cy="161.1" r="1.65" fill="#b3152d"/><circle cx="47.5" cy="161.2" r="1.65" fill="#b3152d"/><circle cx="48.5" cy="161.3" r="1.65" fill="#b3152d"/><circle cx="49.5" cy="161.3" r="1.65" fill="#b3152d"/><circle cx="50.5" cy="161.4" r="1.65" fill="#b3152d"/><circle cx="51.5" cy="161.5" r="1.65" fill="#b3152d"/><circle cx="52.5" cy="161.5" r="1.65" fill="#b3152d"/><circle cx="53.5" cy="161.6" r="1.65" fill="#b3152d"/><circle cx="54.5" cy="161.7" r="1.65" fill="#b3152d"/><circle cx="55.5" cy="161.7" r="1.65" fill="#b3152d"/><circle cx="56.5" cy="161.8" r="1.65" fill="#b3152d"/><circle cx="57.5" cy="161.9" r="1.65" fill="#b3152d"/><circle cx="58.5" cy="161.9" r="1.65" fill="#b3152d"/><circle cx="59.5" cy="162.0" r="1.65" fill="#b3152d"/><circle cx="60.5" cy="162.1" r="1.65" fill="#b3152d"/><circle cx="61.5" cy="162.1" r="1.65" fill="#b3152d"/><circle cx="62.5" cy="162.2" r="1.65" fill="#b3152d"/><circle cx="63.5" cy="162.3" r="1.65" fill="#b3152d"/><circle cx="64.5" cy="162.3" r="1.65" fill="#b3152d"/><circle cx="65.5" cy="162.4" r="1.65" fill="#b3152d"/><circle cx="66.5" cy="162.5" r="1.65" fill="#b3152d"/><circle cx="67.5" cy="162.5" r="1.65" fill="#b3152d"/><circle cx="68.5" cy="162.6" r="1.65" fill="#b3152d"/><circle cx="69.5" cy="162.7" r="1.65" fill="#b3152d"/><circle cx="70.5" cy="162.7" r="1.65" fill="#b3152d"/><circle cx="71.5" cy="162.8" r="1.65" fill="#b3152d"/><circle cx="72.5" cy="162.9" r="1.65" fill="#b3152d"/><circle cx="73.5" cy="162.9" r="1.65" fill="#b3152d"/><circle cx="74.5" cy="163.0" r="1.65" fill="#b3152d"/><circle cx="75.5" cy="163.1" r="1.65" fill="#b3152d"/><circle cx="76.5" cy="163.2" r="1.65" fill="#b3152d"/><circle cx="77.5" cy="163.2" r="1.65" fill="#b3152d"/><circle cx="78.5" cy="163.3" r="1.65" fill="#b3152d"/><circle cx="79.5" cy="163.4" r="1.65" fill="#b3152d"/><circle cx="80.5" cy="163.4" r="1.65" fill="#b3152d"/><circle cx="81.5" cy="163.5" r="1.65" fill="#b3152d"/><circle cx="82.5" cy="163.6" r="1.65" fill="#b3152d"/><circle cx="83.5" cy="163.7" r="1.65" fill="#b3152d"/><circle cx="84.5" cy="163.7" r="1.65" fill="#b3152d"/><circle cx="85.5" cy="163.8" r="1.65" fill="#b3152d"/><circle cx="86.5" cy="163.9" r="1.65" fill="#b3152d"/><circle cx="87.5" cy="164.0" r="1.65" fill="#b3152d"/><circle cx="88.5" cy="164.0" r="1.65" fill="#b3152d"/><circle cx="89.5" cy="164.1" r="1.65" fill="#b3152d"/><circle cx="90.5" cy="164.2" r="1.65" fill="#b3152d"/><circle cx="91.5" cy="164.3" r="1.65" fill="#b3152d"/><circle cx="92.5" cy="164.3" r="1.65" fill="#b3152d"/><circle cx="93.5" cy="164.4" r="1.65" fill="#b3152d"/><circle cx="94.5" cy="164.5" r="1.65" fill="#b3152d"/><circle cx="95.5" cy="164.6" r="1.65" fill="#b3152d"/><circle cx="96.5" cy="164.7" r="1.65" fill="#b3152d"/><circle cx="97.5" cy="164.8" r="1.65" fill="#b3152d"/><circle cx="98.5" cy="164.8" r="1.65" fill="#b3152d"/><circle cx="99.5" cy="164.9" r="1.65" fill="#b3152d"/><circle cx="100.5" cy="165.0" r="1.65" fill="#b3152d"/><circle cx="101.5" cy="165.1" r="1.65" fill="#b3152d"/><circle cx="102.5" cy="165.2" r="1.65" fill="#b3152d"/><circle cx="103.5" cy="165.3" r="1.65" fill="#b3152d"/><circle cx="104.5" cy="165.4" r="1.65" fill="#b3152d"/><circle cx="105.5" cy="165.5" r="1.65" fill="#b3152d"/><circle cx="106.5" cy="165.6" r="1.65" fill="#b3152d"/><circle cx="107.5" cy="165.7" r="1.65" fill="#b3152d"/><circle cx="108.5" cy="165.8" r="1.65" fill="#b3152d"/><circle cx="109.5" cy="165.9" r="1.65" fill="#b3152d"/><circle cx="110.5" cy="166.0" r="1.65" fill="#b3152d"/><circle cx="111.5" cy="166.1" r="1.65" fill="#b3152d"/><circle cx="112.5" cy="166.2" r="1.65" fill="#b3152d"/><circle cx="113.5" cy="166.3" r="1.65" fill="#b3152d"/><circle cx="114.5" cy="166.4" r="1.65" fill="#b3152d"/><circle cx="115.5" cy="166.5" r="1.65" fill="#b3152d"/><circle cx="116.5" cy="166.6" r="1.65" fill="#b3152d"/><circle cx="117.5" cy="166.7" r="1.65" fill="#b3152d"/><circle cx="118.5" cy="166.9" r="1.65" fill="#b3152d"/><circle cx="119.5" cy="167.0" r="1.65" fill="#b3152d"/><circle cx="120.5" cy="167.1" r="1.65" fill="#b3152d"/><circle cx="121.5" cy="167.3" r="1.65" fill="#b3152d"/><circle cx="122.5" cy="167.4" r="1.65" fill="#b3152d"/><circle cx="123.5" cy="167.5" r="1.65" fill="#b3152d"/><circle cx="124.5" cy="167.7" r="1.65" fill="#b3152d"/><circle cx="125.5" cy="167.9" r="1.65" fill="#b3152d"/><circle cx="126.5" cy="168.0" r="1.65" fill="#b3152d"/><circle cx="127.5" cy="168.2" r="1.65" fill="#b3152d"/><circle cx="128.5" cy="168.4" r="1.65" fill="#b3152d"/><circle cx="129.5" cy="168.6" r="1.65" fill="#b3152d"/><circle cx="130.5" cy="168.8" r="1.65" fill="#b3152d"/><circle cx="131.5" cy="169.0" r="1.65" fill="#b3152d"/><circle cx="132.5" cy="169.2" r="1.65" fill="#b3152d"/><circle cx="133.5" cy="169.4" r="1.65" fill="#b3152d"/><circle cx="134.5" cy="169.7" r="1.65" fill="#b3152d"/><circle cx="135.5" cy="170.0" r="1.65" fill="#b3152d"/><circle cx="136.5" cy="170.2" r="1.65" fill="#b3152d"/><circle cx="137.5" cy="170.5" r="1.65" fill="#b3152d"/><circle cx="138.5" cy="170.9" r="1.65" fill="#b3152d"/><circle cx="139.5" cy="171.2" r="1.65" fill="#b3152d"/><circle cx="140.5" cy="171.6" r="1.65" fill="#b3152d"/><circle cx="141.5" cy="172.0" r="1.65" fill="#b3152d"/><circle cx="142.5" cy="172.5" r="1.65" fill="#b3152d"/><circle cx="143.5" cy="173.0" r="1.65" fill="#b3152d"/><circle cx="144.5" cy="173.5" r="1.65" fill="#b3152d"/><circle cx="145.5" cy="174.2" r="1.65" fill="#b3152d"/><circle cx="146.5" cy="174.8" r="1.65" fill="#b3152d"/><circle cx="147.5" cy="175.6" r="1.65" fill="#b3152d"/><circle cx="148.5" cy="176.4" r="1.65" fill="#b3152d"/><circle cx="149.5" cy="177.4" r="1.65" fill="#b3152d"/><circle cx="150.5" cy="178.5" r="1.65" fill="#b3152d"/><circle cx="151.5" cy="179.7" r="1.65" fill="#b3152d"/><circle cx="152.5" cy="181.1" r="1.65" fill="#b3152d"/><circle cx="153.5" cy="182.8" r="1.65" fill="#b3152d"/><circle cx="154.5" cy="184.7" r="1.65" fill="#b3152d"/><circle cx="155.5" cy="186.9" r="1.65" fill="#b3152d"/><circle cx="156.5" cy="189.5" r="1.65" fill="#b3152d"/><circle cx="157.5" cy="192.5" r="1.65" fill="#b3152d"/><circle cx="158.5" cy="196.1" r="1.65" fill="#b3152d"/><circle cx="159.5" cy="200.3" r="1.65" fill="#b3152d"/><circle cx="160.5" cy="205.1" r="1.65" fill="#b3152d"/><circle cx="161.5" cy="210.7" r="1.65" fill="#b3152d"/><circle cx="162.5" cy="217.0" r="1.65" fill="#b3152d"/><circle cx="163.5" cy="223.6" r="1.65" fill="#b3152d"/><circle cx="164.5" cy="230.1" r="1.65" fill="#b3152d"/><circle cx="165.5" cy="235.6" r="1.65" fill="#b3152d"/><circle cx="166.5" cy="239.0" r="1.65" fill="#b3152d"/><circle cx="167.5" cy="233.8" r="1.65" fill="#b3152d"/><circle cx="168.5" cy="232.1" r="1.65" fill="#b3152d"/><circle cx="169.5" cy="229.4" r="1.65" fill="#b3152d"/><circle cx="170.5" cy="226.0" r="1.65" fill="#b3152d"/><circle cx="171.5" cy="222.0" r="1.65" fill="#b3152d"/><circle cx="172.5" cy="217.9" r="1.65" fill="#b3152d"/><circle cx="173.5" cy="213.7" r="1.65" fill="#b3152d"/><circle cx="174.5" cy="209.6" r="1.65" fill="#b3152d"/><circle cx="175.5" cy="205.8" r="1.65" fill="#b3152d"/><circle cx="176.5" cy="202.2" r="1.65" fill="#b3152d"/><circle cx="177.5" cy="198.9" r="1.65" fill="#b3152d"/><circle cx="178.5" cy="195.9" r="1.65" fill="#b3152d"/><circle cx="179.5" cy="193.1" r="1.65" fill="#b3152d"/><circle cx="180.5" cy="190.6" r="1.65" fill="#b3152d"/><circle cx="181.5" cy="188.4" r="1.65" fill="#b3152d"/><circle cx="182.5" cy="186.4" r="1.65" fill="#b3152d"/><circle cx="183.5" cy="184.5" r="1.65" fill="#b3152d"/><circle cx="184.5" cy="182.9" r="1.65" fill="#b3152d"/><circle cx="185.5" cy="181.4" r="1.65" fill="#b3152d"/><circle cx="186.5" cy="180.0" r="1.65" fill="#b3152d"/><circle cx="187.5" cy="178.8" r="1.65" fill="#b3152d"/><circle cx="188.5" cy="177.7" r="1.65" fill="#b3152d"/><circle cx="189.5" cy="176.6" r="1.65" fill="#b3152d"/><circle cx="190.5" cy="175.7" r="1.65" fill="#b3152d"/><circle cx="191.5" cy="174.9" r="1.65" fill="#b3152d"/><circle cx="192.5" cy="174.1" r="1.65" fill="#b3152d"/><circle cx="193.5" cy="173.4" r="1.65" fill="#b3152d"/><circle cx="194.5" cy="172.7" r="1.65" fill="#b3152d"/><circle cx="195.5" cy="172.1" r="1.65" fill="#b3152d"/><circle cx="196.5" cy="171.5" r="1.65" fill="#b3152d"/><circle cx="197.5" cy="171.0" r="1.65" fill="#b3152d"/><circle cx="198.5" cy="170.5" r="1.65" fill="#b3152d"/><circle cx="199.5" cy="170.1" r="1.65" fill="#b3152d"/><circle cx="200.5" cy="169.6" r="1.65" fill="#b3152d"/><circle cx="201.5" cy="169.2" r="1.65" fill="#b3152d"/><circle cx="202.5" cy="168.9" r="1.65" fill="#b3152d"/><circle cx="203.5" cy="168.5" r="1.65" fill="#b3152d"/><circle cx="204.5" cy="168.2" r="1.65" fill="#b3152d"/><circle cx="205.5" cy="167.9" r="1.65" fill="#b3152d"/><circle cx="206.5" cy="167.6" r="1.65" fill="#b3152d"/><circle cx="207.5" cy="167.4" r="1.65" fill="#b3152d"/><circle cx="208.5" cy="167.1" r="1.65" fill="#b3152d"/><circle cx="209.5" cy="166.9" r="1.65" fill="#b3152d"/><circle cx="210.5" cy="166.6" r="1.65" fill="#b3152d"/><circle cx="211.5" cy="166.4" r="1.65" fill="#b3152d"/><circle cx="212.5" cy="166.2" r="1.65" fill="#b3152d"/><circle cx="213.5" cy="166.0" r="1.65" fill="#b3152d"/><circle cx="214.5" cy="165.8" r="1.65" fill="#b3152d"/><circle cx="215.5" cy="165.7" r="1.65" fill="#b3152d"/><circle cx="216.5" cy="165.5" r="1.65" fill="#b3152d"/><circle cx="217.5" cy="165.3" r="1.65" fill="#b3152d"/><circle cx="218.5" cy="165.2" r="1.65" fill="#b3152d"/><circle cx="219.5" cy="165.1" r="1.65" fill="#b3152d"/><circle cx="220.5" cy="164.9" r="1.65" fill="#b3152d"/><circle cx="221.5" cy="164.8" r="1.65" fill="#b3152d"/><circle cx="222.5" cy="164.7" r="1.65" fill="#b3152d"/><circle cx="223.5" cy="164.5" r="1.65" fill="#b3152d"/><circle cx="224.5" cy="164.4" r="1.65" fill="#b3152d"/><circle cx="225.5" cy="164.3" r="1.65" fill="#b3152d"/><circle cx="226.5" cy="164.2" r="1.65" fill="#b3152d"/><circle cx="227.5" cy="164.1" r="1.65" fill="#b3152d"/><circle cx="228.5" cy="164.0" r="1.65" fill="#b3152d"/><circle cx="229.5" cy="163.9" r="1.65" fill="#b3152d"/><circle cx="230.5" cy="163.8" r="1.65" fill="#b3152d"/><circle cx="231.5" cy="163.7" r="1.65" fill="#b3152d"/><circle cx="232.5" cy="163.6" r="1.65" fill="#b3152d"/><circle cx="233.5" cy="163.5" r="1.65" fill="#b3152d"/><circle cx="234.5" cy="163.4" r="1.65" fill="#b3152d"/><circle cx="235.5" cy="163.4" r="1.65" fill="#b3152d"/><circle cx="236.5" cy="163.3" r="1.65" fill="#b3152d"/><circle cx="237.5" cy="163.2" r="1.65" fill="#b3152d"/><circle cx="238.5" cy="163.1" r="1.65" fill="#b3152d"/><circle cx="239.5" cy="163.1" r="1.65" fill="#b3152d"/><circle cx="240.5" cy="163.0" r="1.65" fill="#b3152d"/><circle cx="241.5" cy="162.9" r="1.65" fill="#b3152d"/><circle cx="242.5" cy="162.9" r="1.65" fill="#b3152d"/><circle cx="243.5" cy="162.8" r="1.65" fill="#b3152d"/><circle cx="244.5" cy="162.7" r="1.65" fill="#b3152d"/><circle cx="245.5" cy="162.7" r="1.65" fill="#b3152d"/><circle cx="246.5" cy="162.6" r="1.65" fill="#b3152d"/><circle cx="247.5" cy="162.5" r="1.65" fill="#b3152d"/></g><clipPath id="clipc153"><rect x="43.6" y="153.3" width="203.8" height="119.80000000000001"/></clipPath><rect x="43.6" y="153.3" width="203.8" height="119.80000000000001" fill="none" stroke="#262626" stroke-width="1"/><line x1="45.5" y1="273.1" x2="45.5" y2="271.1" stroke="#262626" stroke-width="0.8"/><line x1="45.5" y1="153.3" x2="45.5" y2="155.3" stroke="#262626" stroke-width="0.8"/><line x1="70.5" y1="273.1" x2="70.5" y2="271.1" stroke="#262626" stroke-width="0.8"/><line x1="70.5" y1="153.3" x2="70.5" y2="155.3" stroke="#262626" stroke-width="0.8"/><line x1="95.5" y1="273.1" x2="95.5" y2="271.1" stroke="#262626" stroke-width="0.8"/><line x1="95.5" y1="153.3" x2="95.5" y2="155.3" stroke="#262626" stroke-width="0.8"/><line x1="120.5" y1="273.1" x2="120.5" y2="271.1" stroke="#262626" stroke-width="0.8"/><line x1="120.5" y1="153.3" x2="120.5" y2="155.3" stroke="#262626" stroke-width="0.8"/><line x1="145.5" y1="273.1" x2="145.5" y2="271.1" stroke="#262626" stroke-width="0.8"/><line x1="145.5" y1="153.3" x2="145.5" y2="155.3" stroke="#262626" stroke-width="0.8"/><line x1="170.5" y1="273.1" x2="170.5" y2="271.1" stroke="#262626" stroke-width="0.8"/><line x1="170.5" y1="153.3" x2="170.5" y2="155.3" stroke="#262626" stroke-width="0.8"/><line x1="195.5" y1="273.1" x2="195.5" y2="271.1" stroke="#262626" stroke-width="0.8"/><line x1="195.5" y1="153.3" x2="195.5" y2="155.3" stroke="#262626" stroke-width="0.8"/><line x1="220.5" y1="273.1" x2="220.5" y2="271.1" stroke="#262626" stroke-width="0.8"/><line x1="220.5" y1="153.3" x2="220.5" y2="155.3" stroke="#262626" stroke-width="0.8"/><line x1="245.5" y1="273.1" x2="245.5" y2="271.1" stroke="#262626" stroke-width="0.8"/><line x1="245.5" y1="153.3" x2="245.5" y2="155.3" stroke="#262626" stroke-width="0.8"/><line x1="43.6" y1="158.8" x2="45.6" y2="158.8" stroke="#262626" stroke-width="0.8"/><line x1="247.4" y1="158.8" x2="245.4" y2="158.8" stroke="#262626" stroke-width="0.8"/><text x="39.8" y="163.8" text-anchor="end" style="font-family:'Liberation Sans', Arial, Helvetica, sans-serif;font-size:12.5px;fill:#1a1a1a;stroke:#1a1a1a;stroke-width:0.42px">3</text><line x1="43.6" y1="209.05" x2="45.6" y2="209.05" stroke="#262626" stroke-width="0.8"/><line x1="247.4" y1="209.05" x2="245.4" y2="209.05" stroke="#262626" stroke-width="0.8"/><text x="39.8" y="214.05" text-anchor="end" style="font-family:'Liberation Sans', Arial, Helvetica, sans-serif;font-size:12.5px;fill:#1a1a1a;stroke:#1a1a1a;stroke-width:0.42px">2.5</text><line x1="43.6" y1="259.3" x2="45.6" y2="259.3" stroke="#262626" stroke-width="0.8"/><line x1="247.4" y1="259.3" x2="245.4" y2="259.3" stroke="#262626" stroke-width="0.8"/><text x="39.8" y="264.3" text-anchor="end" style="font-family:'Liberation Sans', Arial, Helvetica, sans-serif;font-size:12.5px;fill:#1a1a1a;stroke:#1a1a1a;stroke-width:0.42px">2</text><text transform="translate(12.6,246.70000000000002) rotate(-90)" style="font-family:'Liberation Sans', Arial, Helvetica, sans-serif;font-size:13.4px;fill:#1a1a1a;stroke:#1a1a1a;stroke-width:0.42px"><tspan style="font-style:italic;font-size:11.3px">ρ</tspan><tspan dy="4.3" style="font-style:italic;font-size:11px">xy</tspan><tspan dy="-4.3" dx="-1"> [<tspan style="font-style:italic">μ</tspan>Ω cm]</tspan></text><rect x="75" y="250.8" width="169.6" height="18.2" fill="#fff" stroke="#555" stroke-width="0.8"/><circle cx="83.8" cy="259.8" r="1.5" fill="#3d8fc1"/><circle cx="168.8" cy="259.8" r="1.5" fill="#b3152d"/><text x="92.5" y="262.6" style="font-family:'Liberation Sans', Arial, Helvetica, sans-serif;font-size:10.2px;fill:#111;stroke:#111;stroke-width:0.42px"><tspan style="font-style:italic">ρ</tspan><tspan dy="3.6" style="font-style:italic;font-size:9px">xy</tspan><tspan dy="-3.6">(<tspan style="font-style:italic">H</tspan>) FC +5 T</tspan></text><text x="178" y="262.6" style="font-family:'Liberation Sans', Arial, Helvetica, sans-serif;font-size:10.2px;fill:#111;stroke:#111;stroke-width:0.42px"><tspan style="font-style:italic">ρ</tspan><tspan dy="3.6" style="font-style:italic;font-size:9px">xy</tspan><tspan dy="-3.6">(<tspan style="font-style:italic">H</tspan>) FC -5 T</tspan></text><g clip-path="url(#clipc273)"><line x1="145.6" y1="273.1" x2="145.6" y2="392.7" stroke="#111" stroke-width="1.2"/><path d="M43.5,281.6 L44.5,281.7 L45.5,281.7 L46.5,281.8 L47.5,281.8 L48.5,281.9 L49.5,281.9 L50.5,282.0 L51.5,282.0 L52.5,282.1 L53.5,282.1 L54.5,282.2 L55.5,282.2 L56.5,282.3 L57.5,282.3 L58.5,282.4 L59.5,282.4 L60.5,282.5 L61.5,282.5 L62.5,282.6 L63.5,282.6 L64.5,282.7 L65.5,282.8 L66.5,282.8 L67.5,282.9 L68.5,282.9 L69.5,283.0 L70.5,283.1 L71.5,283.1 L72.5,283.2 L73.5,283.3 L74.5,283.4 L75.5,283.5 L76.5,283.5 L77.5,283.6 L78.5,283.7 L79.5,283.8 L80.5,283.9 L81.5,284.0 L82.5,284.1 L83.5,284.2 L84.5,284.3 L85.5,284.4 L86.5,284.6 L87.5,284.7 L88.5,284.9 L89.5,285.0 L90.5,285.2 L91.5,285.3 L92.5,285.5 L93.5,285.7 L94.5,285.9 L95.5,286.1 L96.5,286.3 L97.5,286.6 L98.5,286.9 L99.5,287.2 L100.5,287.5 L101.5,287.8 L102.5,288.2 L103.5,288.7 L104.5,289.1 L105.5,289.6 L106.5,290.2 L107.5,290.8 L108.5,291.6 L109.5,292.4 L110.5,293.3 L111.5,294.3 L112.5,295.5 L113.5,296.8 L114.5,298.3 L115.5,300.1 L116.5,302.1 L117.5,304.5 L118.5,307.3 L119.5,310.5 L120.5,314.3 L121.5,318.6 L122.5,323.5 L123.5,329.0 L124.5,335.0 L125.5,341.2 L126.5,347.2 L127.5,352.3 L128.5,355.8 L129.5,357.4 L130.5,353.3 L131.5,348.6 L132.5,343.0 L133.5,337.1 L134.5,331.6 L135.5,326.4 L136.5,321.9 L137.5,317.8 L138.5,314.3 L139.5,311.1 L140.5,308.4 L141.5,306.0 L142.5,303.9 L143.5,302.1 L144.5,300.4 L145.5,299.0 L146.5,297.7 L147.5,296.5 L148.5,295.4 L149.5,294.5 L150.5,293.7 L151.5,292.9 L152.5,292.2 L153.5,291.5 L154.5,290.9 L155.5,290.4 L156.5,289.9 L157.5,289.5 L158.5,289.0 L159.5,288.6 L160.5,288.3 L161.5,287.9 L162.5,287.6 L163.5,287.3 L164.5,287.0 L165.5,286.8 L166.5,286.5 L167.5,286.3 L168.5,286.1 L169.5,285.9 L170.5,285.7 L171.5,285.5 L172.5,285.3 L173.5,285.2 L174.5,285.0 L175.5,284.8 L176.5,284.7 L177.5,284.6 L178.5,284.4 L179.5,284.3 L180.5,284.2 L181.5,284.1 L182.5,284.0 L183.5,283.9 L184.5,283.8 L185.5,283.7 L186.5,283.6 L187.5,283.5 L188.5,283.4 L189.5,283.3 L190.5,283.2 L191.5,283.1 L192.5,283.1 L193.5,283.0 L194.5,282.9 L195.5,282.8 L196.5,282.8 L197.5,282.7 L198.5,282.6 L199.5,282.6 L200.5,282.5 L201.5,282.5 L202.5,282.4 L203.5,282.4 L204.5,282.3 L205.5,282.2 L206.5,282.2 L207.5,282.1 L208.5,282.1 L209.5,282.0 L210.5,282.0 L211.5,282.0 L212.5,281.9 L213.5,281.9 L214.5,281.8 L215.5,281.8 L216.5,281.7 L217.5,281.7 L218.5,281.7 L219.5,281.6 L220.5,281.6 L221.5,281.5 L222.5,281.5 L223.5,281.5 L224.5,281.4 L225.5,281.4 L226.5,281.4 L227.5,281.3 L228.5,281.3 L229.5,281.3 L230.5,281.2 L231.5,281.2 L232.5,281.2 L233.5,281.1 L234.5,281.1 L235.5,281.1 L236.5,281.0 L237.5,281.0 L238.5,281.0 L239.5,280.9 L240.5,280.9 L241.5,280.9 L242.5,280.9 L243.5,280.8 L244.5,280.8 L245.5,280.8 L246.5,280.7 L247.5,280.7" fill="none" stroke="#8cc3de" stroke-width="1"/><circle cx="43.5" cy="281.6" r="1.65" fill="#8cc3de"/><circle cx="44.5" cy="281.7" r="1.65" fill="#8cc3de"/><circle cx="45.5" cy="281.7" r="1.65" fill="#8cc3de"/><circle cx="46.5" cy="281.8" r="1.65" fill="#8cc3de"/><circle cx="47.5" cy="281.8" r="1.65" fill="#8cc3de"/><circle cx="48.5" cy="281.9" r="1.65" fill="#8cc3de"/><circle cx="49.5" cy="281.9" r="1.65" fill="#8cc3de"/><circle cx="50.5" cy="282.0" r="1.65" fill="#8cc3de"/><circle cx="51.5" cy="282.0" r="1.65" fill="#8cc3de"/><circle cx="52.5" cy="282.1" r="1.65" fill="#8cc3de"/><circle cx="53.5" cy="282.1" r="1.65" fill="#8cc3de"/><circle cx="54.5" cy="282.2" r="1.65" fill="#8cc3de"/><circle cx="55.5" cy="282.2" r="1.65" fill="#8cc3de"/><circle cx="56.5" cy="282.3" r="1.65" fill="#8cc3de"/><circle cx="57.5" cy="282.3" r="1.65" fill="#8cc3de"/><circle cx="58.5" cy="282.4" r="1.65" fill="#8cc3de"/><circle cx="59.5" cy="282.4" r="1.65" fill="#8cc3de"/><circle cx="60.5" cy="282.5" r="1.65" fill="#8cc3de"/><circle cx="61.5" cy="282.5" r="1.65" fill="#8cc3de"/><circle cx="62.5" cy="282.6" r="1.65" fill="#8cc3de"/><circle cx="63.5" cy="282.6" r="1.65" fill="#8cc3de"/><circle cx="64.5" cy="282.7" r="1.65" fill="#8cc3de"/><circle cx="65.5" cy="282.8" r="1.65" fill="#8cc3de"/><circle cx="66.5" cy="282.8" r="1.65" fill="#8cc3de"/><circle cx="67.5" cy="282.9" r="1.65" fill="#8cc3de"/><circle cx="68.5" cy="282.9" r="1.65" fill="#8cc3de"/><circle cx="69.5" cy="283.0" r="1.65" fill="#8cc3de"/><circle cx="70.5" cy="283.1" r="1.65" fill="#8cc3de"/><circle cx="71.5" cy="283.1" r="1.65" fill="#8cc3de"/><circle cx="72.5" cy="283.2" r="1.65" fill="#8cc3de"/><circle cx="73.5" cy="283.3" r="1.65" fill="#8cc3de"/><circle cx="74.5" cy="283.4" r="1.65" fill="#8cc3de"/><circle cx="75.5" cy="283.5" r="1.65" fill="#8cc3de"/><circle cx="76.5" cy="283.5" r="1.65" fill="#8cc3de"/><circle cx="77.5" cy="283.6" r="1.65" fill="#8cc3de"/><circle cx="78.5" cy="283.7" r="1.65" fill="#8cc3de"/><circle cx="79.5" cy="283.8" r="1.65" fill="#8cc3de"/><circle cx="80.5" cy="283.9" r="1.65" fill="#8cc3de"/><circle cx="81.5" cy="284.0" r="1.65" fill="#8cc3de"/><circle cx="82.5" cy="284.1" r="1.65" fill="#8cc3de"/><circle cx="83.5" cy="284.2" r="1.65" fill="#8cc3de"/><circle cx="84.5" cy="284.3" r="1.65" fill="#8cc3de"/><circle cx="85.5" cy="284.4" r="1.65" fill="#8cc3de"/><circle cx="86.5" cy="284.6" r="1.65" fill="#8cc3de"/><circle cx="87.5" cy="284.7" r="1.65" fill="#8cc3de"/><circle cx="88.5" cy="284.9" r="1.65" fill="#8cc3de"/><circle cx="89.5" cy="285.0" r="1.65" fill="#8cc3de"/><circle cx="90.5" cy="285.2" r="1.65" fill="#8cc3de"/><circle cx="91.5" cy="285.3" r="1.65" fill="#8cc3de"/><circle cx="92.5" cy="285.5" r="1.65" fill="#8cc3de"/><circle cx="93.5" cy="285.7" r="1.65" fill="#8cc3de"/><circle cx="94.5" cy="285.9" r="1.65" fill="#8cc3de"/><circle cx="95.5" cy="286.1" r="1.65" fill="#8cc3de"/><circle cx="96.5" cy="286.3" r="1.65" fill="#8cc3de"/><circle cx="97.5" cy="286.6" r="1.65" fill="#8cc3de"/><circle cx="98.5" cy="286.9" r="1.65" fill="#8cc3de"/><circle cx="99.5" cy="287.2" r="1.65" fill="#8cc3de"/><circle cx="100.5" cy="287.5" r="1.65" fill="#8cc3de"/><circle cx="101.5" cy="287.8" r="1.65" fill="#8cc3de"/><circle cx="102.5" cy="288.2" r="1.65" fill="#8cc3de"/><circle cx="103.5" cy="288.7" r="1.65" fill="#8cc3de"/><circle cx="104.5" cy="289.1" r="1.65" fill="#8cc3de"/><circle cx="105.5" cy="289.6" r="1.65" fill="#8cc3de"/><circle cx="106.5" cy="290.2" r="1.65" fill="#8cc3de"/><circle cx="107.5" cy="290.8" r="1.65" fill="#8cc3de"/><circle cx="108.5" cy="291.6" r="1.65" fill="#8cc3de"/><circle cx="109.5" cy="292.4" r="1.65" fill="#8cc3de"/><circle cx="110.5" cy="293.3" r="1.65" fill="#8cc3de"/><circle cx="111.5" cy="294.3" r="1.65" fill="#8cc3de"/><circle cx="112.5" cy="295.5" r="1.65" fill="#8cc3de"/><circle cx="113.5" cy="296.8" r="1.65" fill="#8cc3de"/><circle cx="114.5" cy="298.3" r="1.65" fill="#8cc3de"/><circle cx="115.5" cy="300.1" r="1.65" fill="#8cc3de"/><circle cx="116.5" cy="302.1" r="1.65" fill="#8cc3de"/><circle cx="117.5" cy="304.5" r="1.65" fill="#8cc3de"/><circle cx="118.5" cy="307.3" r="1.65" fill="#8cc3de"/><circle cx="119.5" cy="310.5" r="1.65" fill="#8cc3de"/><circle cx="120.5" cy="314.3" r="1.65" fill="#8cc3de"/><circle cx="121.5" cy="318.6" r="1.65" fill="#8cc3de"/><circle cx="122.5" cy="323.5" r="1.65" fill="#8cc3de"/><circle cx="123.5" cy="329.0" r="1.65" fill="#8cc3de"/><circle cx="124.5" cy="335.0" r="1.65" fill="#8cc3de"/><circle cx="125.5" cy="341.2" r="1.65" fill="#8cc3de"/><circle cx="126.5" cy="347.2" r="1.65" fill="#8cc3de"/><circle cx="127.5" cy="352.3" r="1.65" fill="#8cc3de"/><circle cx="128.5" cy="355.8" r="1.65" fill="#8cc3de"/><circle cx="129.5" cy="357.4" r="1.65" fill="#8cc3de"/><circle cx="130.5" cy="353.3" r="1.65" fill="#8cc3de"/><circle cx="131.5" cy="348.6" r="1.65" fill="#8cc3de"/><circle cx="132.5" cy="343.0" r="1.65" fill="#8cc3de"/><circle cx="133.5" cy="337.1" r="1.65" fill="#8cc3de"/><circle cx="134.5" cy="331.6" r="1.65" fill="#8cc3de"/><circle cx="135.5" cy="326.4" r="1.65" fill="#8cc3de"/><circle cx="136.5" cy="321.9" r="1.65" fill="#8cc3de"/><circle cx="137.5" cy="317.8" r="1.65" fill="#8cc3de"/><circle cx="138.5" cy="314.3" r="1.65" fill="#8cc3de"/><circle cx="139.5" cy="311.1" r="1.65" fill="#8cc3de"/><circle cx="140.5" cy="308.4" r="1.65" fill="#8cc3de"/><circle cx="141.5" cy="306.0" r="1.65" fill="#8cc3de"/><circle cx="142.5" cy="303.9" r="1.65" fill="#8cc3de"/><circle cx="143.5" cy="302.1" r="1.65" fill="#8cc3de"/><circle cx="144.5" cy="300.4" r="1.65" fill="#8cc3de"/><circle cx="145.5" cy="299.0" r="1.65" fill="#8cc3de"/><circle cx="146.5" cy="297.7" r="1.65" fill="#8cc3de"/><circle cx="147.5" cy="296.5" r="1.65" fill="#8cc3de"/><circle cx="148.5" cy="295.4" r="1.65" fill="#8cc3de"/><circle cx="149.5" cy="294.5" r="1.65" fill="#8cc3de"/><circle cx="150.5" cy="293.7" r="1.65" fill="#8cc3de"/><circle cx="151.5" cy="292.9" r="1.65" fill="#8cc3de"/><circle cx="152.5" cy="292.2" r="1.65" fill="#8cc3de"/><circle cx="153.5" cy="291.5" r="1.65" fill="#8cc3de"/><circle cx="154.5" cy="290.9" r="1.65" fill="#8cc3de"/><circle cx="155.5" cy="290.4" r="1.65" fill="#8cc3de"/><circle cx="156.5" cy="289.9" r="1.65" fill="#8cc3de"/><circle cx="157.5" cy="289.5" r="1.65" fill="#8cc3de"/><circle cx="158.5" cy="289.0" r="1.65" fill="#8cc3de"/><circle cx="159.5" cy="288.6" r="1.65" fill="#8cc3de"/><circle cx="160.5" cy="288.3" r="1.65" fill="#8cc3de"/><circle cx="161.5" cy="287.9" r="1.65" fill="#8cc3de"/><circle cx="162.5" cy="287.6" r="1.65" fill="#8cc3de"/><circle cx="163.5" cy="287.3" r="1.65" fill="#8cc3de"/><circle cx="164.5" cy="287.0" r="1.65" fill="#8cc3de"/><circle cx="165.5" cy="286.8" r="1.65" fill="#8cc3de"/><circle cx="166.5" cy="286.5" r="1.65" fill="#8cc3de"/><circle cx="167.5" cy="286.3" r="1.65" fill="#8cc3de"/><circle cx="168.5" cy="286.1" r="1.65" fill="#8cc3de"/><circle cx="169.5" cy="285.9" r="1.65" fill="#8cc3de"/><circle cx="170.5" cy="285.7" r="1.65" fill="#8cc3de"/><circle cx="171.5" cy="285.5" r="1.65" fill="#8cc3de"/><circle cx="172.5" cy="285.3" r="1.65" fill="#8cc3de"/><circle cx="173.5" cy="285.2" r="1.65" fill="#8cc3de"/><circle cx="174.5" cy="285.0" r="1.65" fill="#8cc3de"/><circle cx="175.5" cy="284.8" r="1.65" fill="#8cc3de"/><circle cx="176.5" cy="284.7" r="1.65" fill="#8cc3de"/><circle cx="177.5" cy="284.6" r="1.65" fill="#8cc3de"/><circle cx="178.5" cy="284.4" r="1.65" fill="#8cc3de"/><circle cx="179.5" cy="284.3" r="1.65" fill="#8cc3de"/><circle cx="180.5" cy="284.2" r="1.65" fill="#8cc3de"/><circle cx="181.5" cy="284.1" r="1.65" fill="#8cc3de"/><circle cx="182.5" cy="284.0" r="1.65" fill="#8cc3de"/><circle cx="183.5" cy="283.9" r="1.65" fill="#8cc3de"/><circle cx="184.5" cy="283.8" r="1.65" fill="#8cc3de"/><circle cx="185.5" cy="283.7" r="1.65" fill="#8cc3de"/><circle cx="186.5" cy="283.6" r="1.65" fill="#8cc3de"/><circle cx="187.5" cy="283.5" r="1.65" fill="#8cc3de"/><circle cx="188.5" cy="283.4" r="1.65" fill="#8cc3de"/><circle cx="189.5" cy="283.3" r="1.65" fill="#8cc3de"/><circle cx="190.5" cy="283.2" r="1.65" fill="#8cc3de"/><circle cx="191.5" cy="283.1" r="1.65" fill="#8cc3de"/><circle cx="192.5" cy="283.1" r="1.65" fill="#8cc3de"/><circle cx="193.5" cy="283.0" r="1.65" fill="#8cc3de"/><circle cx="194.5" cy="282.9" r="1.65" fill="#8cc3de"/><circle cx="195.5" cy="282.8" r="1.65" fill="#8cc3de"/><circle cx="196.5" cy="282.8" r="1.65" fill="#8cc3de"/><circle cx="197.5" cy="282.7" r="1.65" fill="#8cc3de"/><circle cx="198.5" cy="282.6" r="1.65" fill="#8cc3de"/><circle cx="199.5" cy="282.6" r="1.65" fill="#8cc3de"/><circle cx="200.5" cy="282.5" r="1.65" fill="#8cc3de"/><circle cx="201.5" cy="282.5" r="1.65" fill="#8cc3de"/><circle cx="202.5" cy="282.4" r="1.65" fill="#8cc3de"/><circle cx="203.5" cy="282.4" r="1.65" fill="#8cc3de"/><circle cx="204.5" cy="282.3" r="1.65" fill="#8cc3de"/><circle cx="205.5" cy="282.2" r="1.65" fill="#8cc3de"/><circle cx="206.5" cy="282.2" r="1.65" fill="#8cc3de"/><circle cx="207.5" cy="282.1" r="1.65" fill="#8cc3de"/><circle cx="208.5" cy="282.1" r="1.65" fill="#8cc3de"/><circle cx="209.5" cy="282.0" r="1.65" fill="#8cc3de"/><circle cx="210.5" cy="282.0" r="1.65" fill="#8cc3de"/><circle cx="211.5" cy="282.0" r="1.65" fill="#8cc3de"/><circle cx="212.5" cy="281.9" r="1.65" fill="#8cc3de"/><circle cx="213.5" cy="281.9" r="1.65" fill="#8cc3de"/><circle cx="214.5" cy="281.8" r="1.65" fill="#8cc3de"/><circle cx="215.5" cy="281.8" r="1.65" fill="#8cc3de"/><circle cx="216.5" cy="281.7" r="1.65" fill="#8cc3de"/><circle cx="217.5" cy="281.7" r="1.65" fill="#8cc3de"/><circle cx="218.5" cy="281.7" r="1.65" fill="#8cc3de"/><circle cx="219.5" cy="281.6" r="1.65" fill="#8cc3de"/><circle cx="220.5" cy="281.6" r="1.65" fill="#8cc3de"/><circle cx="221.5" cy="281.5" r="1.65" fill="#8cc3de"/><circle cx="222.5" cy="281.5" r="1.65" fill="#8cc3de"/><circle cx="223.5" cy="281.5" r="1.65" fill="#8cc3de"/><circle cx="224.5" cy="281.4" r="1.65" fill="#8cc3de"/><circle cx="225.5" cy="281.4" r="1.65" fill="#8cc3de"/><circle cx="226.5" cy="281.4" r="1.65" fill="#8cc3de"/><circle cx="227.5" cy="281.3" r="1.65" fill="#8cc3de"/><circle cx="228.5" cy="281.3" r="1.65" fill="#8cc3de"/><circle cx="229.5" cy="281.3" r="1.65" fill="#8cc3de"/><circle cx="230.5" cy="281.2" r="1.65" fill="#8cc3de"/><circle cx="231.5" cy="281.2" r="1.65" fill="#8cc3de"/><circle cx="232.5" cy="281.2" r="1.65" fill="#8cc3de"/><circle cx="233.5" cy="281.1" r="1.65" fill="#8cc3de"/><circle cx="234.5" cy="281.1" r="1.65" fill="#8cc3de"/><circle cx="235.5" cy="281.1" r="1.65" fill="#8cc3de"/><circle cx="236.5" cy="281.0" r="1.65" fill="#8cc3de"/><circle cx="237.5" cy="281.0" r="1.65" fill="#8cc3de"/><circle cx="238.5" cy="281.0" r="1.65" fill="#8cc3de"/><circle cx="239.5" cy="280.9" r="1.65" fill="#8cc3de"/><circle cx="240.5" cy="280.9" r="1.65" fill="#8cc3de"/><circle cx="241.5" cy="280.9" r="1.65" fill="#8cc3de"/><circle cx="242.5" cy="280.9" r="1.65" fill="#8cc3de"/><circle cx="243.5" cy="280.8" r="1.65" fill="#8cc3de"/><circle cx="244.5" cy="280.8" r="1.65" fill="#8cc3de"/><circle cx="245.5" cy="280.8" r="1.65" fill="#8cc3de"/><circle cx="246.5" cy="280.7" r="1.65" fill="#8cc3de"/><circle cx="247.5" cy="280.7" r="1.65" fill="#8cc3de"/><path d="M43.5,281.2 L44.5,281.2 L45.5,281.3 L46.5,281.3 L47.5,281.4 L48.5,281.4 L49.5,281.5 L50.5,281.5 L51.5,281.6 L52.5,281.6 L53.5,281.7 L54.5,281.7 L55.5,281.8 L56.5,281.8 L57.5,281.9 L58.5,281.9 L59.5,282.0 L60.5,282.0 L61.5,282.1 L62.5,282.1 L63.5,282.2 L64.5,282.2 L65.5,282.3 L66.5,282.4 L67.5,282.4 L68.5,282.5 L69.5,282.5 L70.5,282.6 L71.5,282.6 L72.5,282.7 L73.5,282.7 L74.5,282.8 L75.5,282.9 L76.5,282.9 L77.5,283.0 L78.5,283.0 L79.5,283.1 L80.5,283.2 L81.5,283.2 L82.5,283.3 L83.5,283.3 L84.5,283.4 L85.5,283.5 L86.5,283.5 L87.5,283.6 L88.5,283.7 L89.5,283.7 L90.5,283.8 L91.5,283.9 L92.5,283.9 L93.5,284.0 L94.5,284.1 L95.5,284.2 L96.5,284.2 L97.5,284.3 L98.5,284.4 L99.5,284.5 L100.5,284.6 L101.5,284.7 L102.5,284.7 L103.5,284.8 L104.5,284.9 L105.5,285.0 L106.5,285.1 L107.5,285.2 L108.5,285.4 L109.5,285.5 L110.5,285.6 L111.5,285.7 L112.5,285.8 L113.5,286.0 L114.5,286.1 L115.5,286.3 L116.5,286.4 L117.5,286.6 L118.5,286.8 L119.5,287.0 L120.5,287.2 L121.5,287.4 L122.5,287.6 L123.5,287.9 L124.5,288.1 L125.5,288.4 L126.5,288.8 L127.5,289.1 L128.5,289.5 L129.5,289.9 L130.5,290.4 L131.5,290.9 L132.5,291.5 L133.5,292.1 L134.5,292.9 L135.5,293.7 L136.5,294.7 L137.5,295.8 L138.5,297.0 L139.5,298.5 L140.5,300.3 L141.5,302.3 L142.5,304.8 L143.5,307.7 L144.5,311.3 L145.5,315.5 L146.5,320.6 L147.5,326.7 L148.5,333.9 L149.5,341.9 L150.5,350.3 L151.5,358.3 L152.5,364.3 L153.5,366.9 L154.5,359.4 L155.5,354.3 L156.5,348.3 L157.5,342.2 L158.5,336.3 L159.5,330.9 L160.5,326.0 L161.5,321.7 L162.5,317.9 L163.5,314.5 L164.5,311.5 L165.5,308.9 L166.5,306.6 L167.5,304.5 L168.5,302.7 L169.5,301.1 L170.5,299.6 L171.5,298.3 L172.5,297.1 L173.5,296.1 L174.5,295.1 L175.5,294.3 L176.5,293.5 L177.5,292.7 L178.5,292.1 L179.5,291.4 L180.5,290.9 L181.5,290.4 L182.5,289.9 L183.5,289.4 L184.5,289.0 L185.5,288.6 L186.5,288.3 L187.5,287.9 L188.5,287.6 L189.5,287.3 L190.5,287.0 L191.5,286.8 L192.5,286.5 L193.5,286.3 L194.5,286.1 L195.5,285.9 L196.5,285.7 L197.5,285.5 L198.5,285.3 L199.5,285.1 L200.5,285.0 L201.5,284.8 L202.5,284.7 L203.5,284.5 L204.5,284.4 L205.5,284.3 L206.5,284.2 L207.5,284.0 L208.5,283.9 L209.5,283.8 L210.5,283.7 L211.5,283.6 L212.5,283.5 L213.5,283.4 L214.5,283.4 L215.5,283.3 L216.5,283.2 L217.5,283.1 L218.5,283.0 L219.5,283.0 L220.5,282.9 L221.5,282.8 L222.5,282.7 L223.5,282.7 L224.5,282.6 L225.5,282.6 L226.5,282.5 L227.5,282.4 L228.5,282.4 L229.5,282.3 L230.5,282.3 L231.5,282.2 L232.5,282.2 L233.5,282.1 L234.5,282.1 L235.5,282.0 L236.5,282.0 L237.5,281.9 L238.5,281.9 L239.5,281.9 L240.5,281.8 L241.5,281.8 L242.5,281.7 L243.5,281.7 L244.5,281.7 L245.5,281.6 L246.5,281.6 L247.5,281.6" fill="none" stroke="#8cc3de" stroke-width="1"/><circle cx="43.5" cy="281.2" r="1.65" fill="#8cc3de"/><circle cx="44.5" cy="281.2" r="1.65" fill="#8cc3de"/><circle cx="45.5" cy="281.3" r="1.65" fill="#8cc3de"/><circle cx="46.5" cy="281.3" r="1.65" fill="#8cc3de"/><circle cx="47.5" cy="281.4" r="1.65" fill="#8cc3de"/><circle cx="48.5" cy="281.4" r="1.65" fill="#8cc3de"/><circle cx="49.5" cy="281.5" r="1.65" fill="#8cc3de"/><circle cx="50.5" cy="281.5" r="1.65" fill="#8cc3de"/><circle cx="51.5" cy="281.6" r="1.65" fill="#8cc3de"/><circle cx="52.5" cy="281.6" r="1.65" fill="#8cc3de"/><circle cx="53.5" cy="281.7" r="1.65" fill="#8cc3de"/><circle cx="54.5" cy="281.7" r="1.65" fill="#8cc3de"/><circle cx="55.5" cy="281.8" r="1.65" fill="#8cc3de"/><circle cx="56.5" cy="281.8" r="1.65" fill="#8cc3de"/><circle cx="57.5" cy="281.9" r="1.65" fill="#8cc3de"/><circle cx="58.5" cy="281.9" r="1.65" fill="#8cc3de"/><circle cx="59.5" cy="282.0" r="1.65" fill="#8cc3de"/><circle cx="60.5" cy="282.0" r="1.65" fill="#8cc3de"/><circle cx="61.5" cy="282.1" r="1.65" fill="#8cc3de"/><circle cx="62.5" cy="282.1" r="1.65" fill="#8cc3de"/><circle cx="63.5" cy="282.2" r="1.65" fill="#8cc3de"/><circle cx="64.5" cy="282.2" r="1.65" fill="#8cc3de"/><circle cx="65.5" cy="282.3" r="1.65" fill="#8cc3de"/><circle cx="66.5" cy="282.4" r="1.65" fill="#8cc3de"/><circle cx="67.5" cy="282.4" r="1.65" fill="#8cc3de"/><circle cx="68.5" cy="282.5" r="1.65" fill="#8cc3de"/><circle cx="69.5" cy="282.5" r="1.65" fill="#8cc3de"/><circle cx="70.5" cy="282.6" r="1.65" fill="#8cc3de"/><circle cx="71.5" cy="282.6" r="1.65" fill="#8cc3de"/><circle cx="72.5" cy="282.7" r="1.65" fill="#8cc3de"/><circle cx="73.5" cy="282.7" r="1.65" fill="#8cc3de"/><circle cx="74.5" cy="282.8" r="1.65" fill="#8cc3de"/><circle cx="75.5" cy="282.9" r="1.65" fill="#8cc3de"/><circle cx="76.5" cy="282.9" r="1.65" fill="#8cc3de"/><circle cx="77.5" cy="283.0" r="1.65" fill="#8cc3de"/><circle cx="78.5" cy="283.0" r="1.65" fill="#8cc3de"/><circle cx="79.5" cy="283.1" r="1.65" fill="#8cc3de"/><circle cx="80.5" cy="283.2" r="1.65" fill="#8cc3de"/><circle cx="81.5" cy="283.2" r="1.65" fill="#8cc3de"/><circle cx="82.5" cy="283.3" r="1.65" fill="#8cc3de"/><circle cx="83.5" cy="283.3" r="1.65" fill="#8cc3de"/><circle cx="84.5" cy="283.4" r="1.65" fill="#8cc3de"/><circle cx="85.5" cy="283.5" r="1.65" fill="#8cc3de"/><circle cx="86.5" cy="283.5" r="1.65" fill="#8cc3de"/><circle cx="87.5" cy="283.6" r="1.65" fill="#8cc3de"/><circle cx="88.5" cy="283.7" r="1.65" fill="#8cc3de"/><circle cx="89.5" cy="283.7" r="1.65" fill="#8cc3de"/><circle cx="90.5" cy="283.8" r="1.65" fill="#8cc3de"/><circle cx="91.5" cy="283.9" r="1.65" fill="#8cc3de"/><circle cx="92.5" cy="283.9" r="1.65" fill="#8cc3de"/><circle cx="93.5" cy="284.0" r="1.65" fill="#8cc3de"/><circle cx="94.5" cy="284.1" r="1.65" fill="#8cc3de"/><circle cx="95.5" cy="284.2" r="1.65" fill="#8cc3de"/><circle cx="96.5" cy="284.2" r="1.65" fill="#8cc3de"/><circle cx="97.5" cy="284.3" r="1.65" fill="#8cc3de"/><circle cx="98.5" cy="284.4" r="1.65" fill="#8cc3de"/><circle cx="99.5" cy="284.5" r="1.65" fill="#8cc3de"/><circle cx="100.5" cy="284.6" r="1.65" fill="#8cc3de"/><circle cx="101.5" cy="284.7" r="1.65" fill="#8cc3de"/><circle cx="102.5" cy="284.7" r="1.65" fill="#8cc3de"/><circle cx="103.5" cy="284.8" r="1.65" fill="#8cc3de"/><circle cx="104.5" cy="284.9" r="1.65" fill="#8cc3de"/><circle cx="105.5" cy="285.0" r="1.65" fill="#8cc3de"/><circle cx="106.5" cy="285.1" r="1.65" fill="#8cc3de"/><circle cx="107.5" cy="285.2" r="1.65" fill="#8cc3de"/><circle cx="108.5" cy="285.4" r="1.65" fill="#8cc3de"/><circle cx="109.5" cy="285.5" r="1.65" fill="#8cc3de"/><circle cx="110.5" cy="285.6" r="1.65" fill="#8cc3de"/><circle cx="111.5" cy="285.7" r="1.65" fill="#8cc3de"/><circle cx="112.5" cy="285.8" r="1.65" fill="#8cc3de"/><circle cx="113.5" cy="286.0" r="1.65" fill="#8cc3de"/><circle cx="114.5" cy="286.1" r="1.65" fill="#8cc3de"/><circle cx="115.5" cy="286.3" r="1.65" fill="#8cc3de"/><circle cx="116.5" cy="286.4" r="1.65" fill="#8cc3de"/><circle cx="117.5" cy="286.6" r="1.65" fill="#8cc3de"/><circle cx="118.5" cy="286.8" r="1.65" fill="#8cc3de"/><circle cx="119.5" cy="287.0" r="1.65" fill="#8cc3de"/><circle cx="120.5" cy="287.2" r="1.65" fill="#8cc3de"/><circle cx="121.5" cy="287.4" r="1.65" fill="#8cc3de"/><circle cx="122.5" cy="287.6" r="1.65" fill="#8cc3de"/><circle cx="123.5" cy="287.9" r="1.65" fill="#8cc3de"/><circle cx="124.5" cy="288.1" r="1.65" fill="#8cc3de"/><circle cx="125.5" cy="288.4" r="1.65" fill="#8cc3de"/><circle cx="126.5" cy="288.8" r="1.65" fill="#8cc3de"/><circle cx="127.5" cy="289.1" r="1.65" fill="#8cc3de"/><circle cx="128.5" cy="289.5" r="1.65" fill="#8cc3de"/><circle cx="129.5" cy="289.9" r="1.65" fill="#8cc3de"/><circle cx="130.5" cy="290.4" r="1.65" fill="#8cc3de"/><circle cx="131.5" cy="290.9" r="1.65" fill="#8cc3de"/><circle cx="132.5" cy="291.5" r="1.65" fill="#8cc3de"/><circle cx="133.5" cy="292.1" r="1.65" fill="#8cc3de"/><circle cx="134.5" cy="292.9" r="1.65" fill="#8cc3de"/><circle cx="135.5" cy="293.7" r="1.65" fill="#8cc3de"/><circle cx="136.5" cy="294.7" r="1.65" fill="#8cc3de"/><circle cx="137.5" cy="295.8" r="1.65" fill="#8cc3de"/><circle cx="138.5" cy="297.0" r="1.65" fill="#8cc3de"/><circle cx="139.5" cy="298.5" r="1.65" fill="#8cc3de"/><circle cx="140.5" cy="300.3" r="1.65" fill="#8cc3de"/><circle cx="141.5" cy="302.3" r="1.65" fill="#8cc3de"/><circle cx="142.5" cy="304.8" r="1.65" fill="#8cc3de"/><circle cx="143.5" cy="307.7" r="1.65" fill="#8cc3de"/><circle cx="144.5" cy="311.3" r="1.65" fill="#8cc3de"/><circle cx="145.5" cy="315.5" r="1.65" fill="#8cc3de"/><circle cx="146.5" cy="320.6" r="1.65" fill="#8cc3de"/><circle cx="147.5" cy="326.7" r="1.65" fill="#8cc3de"/><circle cx="148.5" cy="333.9" r="1.65" fill="#8cc3de"/><circle cx="149.5" cy="341.9" r="1.65" fill="#8cc3de"/><circle cx="150.5" cy="350.3" r="1.65" fill="#8cc3de"/><circle cx="151.5" cy="358.3" r="1.65" fill="#8cc3de"/><circle cx="152.5" cy="364.3" r="1.65" fill="#8cc3de"/><circle cx="153.5" cy="366.9" r="1.65" fill="#8cc3de"/><circle cx="154.5" cy="359.4" r="1.65" fill="#8cc3de"/><circle cx="155.5" cy="354.3" r="1.65" fill="#8cc3de"/><circle cx="156.5" cy="348.3" r="1.65" fill="#8cc3de"/><circle cx="157.5" cy="342.2" r="1.65" fill="#8cc3de"/><circle cx="158.5" cy="336.3" r="1.65" fill="#8cc3de"/><circle cx="159.5" cy="330.9" r="1.65" fill="#8cc3de"/><circle cx="160.5" cy="326.0" r="1.65" fill="#8cc3de"/><circle cx="161.5" cy="321.7" r="1.65" fill="#8cc3de"/><circle cx="162.5" cy="317.9" r="1.65" fill="#8cc3de"/><circle cx="163.5" cy="314.5" r="1.65" fill="#8cc3de"/><circle cx="164.5" cy="311.5" r="1.65" fill="#8cc3de"/><circle cx="165.5" cy="308.9" r="1.65" fill="#8cc3de"/><circle cx="166.5" cy="306.6" r="1.65" fill="#8cc3de"/><circle cx="167.5" cy="304.5" r="1.65" fill="#8cc3de"/><circle cx="168.5" cy="302.7" r="1.65" fill="#8cc3de"/><circle cx="169.5" cy="301.1" r="1.65" fill="#8cc3de"/><circle cx="170.5" cy="299.6" r="1.65" fill="#8cc3de"/><circle cx="171.5" cy="298.3" r="1.65" fill="#8cc3de"/><circle cx="172.5" cy="297.1" r="1.65" fill="#8cc3de"/><circle cx="173.5" cy="296.1" r="1.65" fill="#8cc3de"/><circle cx="174.5" cy="295.1" r="1.65" fill="#8cc3de"/><circle cx="175.5" cy="294.3" r="1.65" fill="#8cc3de"/><circle cx="176.5" cy="293.5" r="1.65" fill="#8cc3de"/><circle cx="177.5" cy="292.7" r="1.65" fill="#8cc3de"/><circle cx="178.5" cy="292.1" r="1.65" fill="#8cc3de"/><circle cx="179.5" cy="291.4" r="1.65" fill="#8cc3de"/><circle cx="180.5" cy="290.9" r="1.65" fill="#8cc3de"/><circle cx="181.5" cy="290.4" r="1.65" fill="#8cc3de"/><circle cx="182.5" cy="289.9" r="1.65" fill="#8cc3de"/><circle cx="183.5" cy="289.4" r="1.65" fill="#8cc3de"/><circle cx="184.5" cy="289.0" r="1.65" fill="#8cc3de"/><circle cx="185.5" cy="288.6" r="1.65" fill="#8cc3de"/><circle cx="186.5" cy="288.3" r="1.65" fill="#8cc3de"/><circle cx="187.5" cy="287.9" r="1.65" fill="#8cc3de"/><circle cx="188.5" cy="287.6" r="1.65" fill="#8cc3de"/><circle cx="189.5" cy="287.3" r="1.65" fill="#8cc3de"/><circle cx="190.5" cy="287.0" r="1.65" fill="#8cc3de"/><circle cx="191.5" cy="286.8" r="1.65" fill="#8cc3de"/><circle cx="192.5" cy="286.5" r="1.65" fill="#8cc3de"/><circle cx="193.5" cy="286.3" r="1.65" fill="#8cc3de"/><circle cx="194.5" cy="286.1" r="1.65" fill="#8cc3de"/><circle cx="195.5" cy="285.9" r="1.65" fill="#8cc3de"/><circle cx="196.5" cy="285.7" r="1.65" fill="#8cc3de"/><circle cx="197.5" cy="285.5" r="1.65" fill="#8cc3de"/><circle cx="198.5" cy="285.3" r="1.65" fill="#8cc3de"/><circle cx="199.5" cy="285.1" r="1.65" fill="#8cc3de"/><circle cx="200.5" cy="285.0" r="1.65" fill="#8cc3de"/><circle cx="201.5" cy="284.8" r="1.65" fill="#8cc3de"/><circle cx="202.5" cy="284.7" r="1.65" fill="#8cc3de"/><circle cx="203.5" cy="284.5" r="1.65" fill="#8cc3de"/><circle cx="204.5" cy="284.4" r="1.65" fill="#8cc3de"/><circle cx="205.5" cy="284.3" r="1.65" fill="#8cc3de"/><circle cx="206.5" cy="284.2" r="1.65" fill="#8cc3de"/><circle cx="207.5" cy="284.0" r="1.65" fill="#8cc3de"/><circle cx="208.5" cy="283.9" r="1.65" fill="#8cc3de"/><circle cx="209.5" cy="283.8" r="1.65" fill="#8cc3de"/><circle cx="210.5" cy="283.7" r="1.65" fill="#8cc3de"/><circle cx="211.5" cy="283.6" r="1.65" fill="#8cc3de"/><circle cx="212.5" cy="283.5" r="1.65" fill="#8cc3de"/><circle cx="213.5" cy="283.4" r="1.65" fill="#8cc3de"/><circle cx="214.5" cy="283.4" r="1.65" fill="#8cc3de"/><circle cx="215.5" cy="283.3" r="1.65" fill="#8cc3de"/><circle cx="216.5" cy="283.2" r="1.65" fill="#8cc3de"/><circle cx="217.5" cy="283.1" r="1.65" fill="#8cc3de"/><circle cx="218.5" cy="283.0" r="1.65" fill="#8cc3de"/><circle cx="219.5" cy="283.0" r="1.65" fill="#8cc3de"/><circle cx="220.5" cy="282.9" r="1.65" fill="#8cc3de"/><circle cx="221.5" cy="282.8" r="1.65" fill="#8cc3de"/><circle cx="222.5" cy="282.7" r="1.65" fill="#8cc3de"/><circle cx="223.5" cy="282.7" r="1.65" fill="#8cc3de"/><circle cx="224.5" cy="282.6" r="1.65" fill="#8cc3de"/><circle cx="225.5" cy="282.6" r="1.65" fill="#8cc3de"/><circle cx="226.5" cy="282.5" r="1.65" fill="#8cc3de"/><circle cx="227.5" cy="282.4" r="1.65" fill="#8cc3de"/><circle cx="228.5" cy="282.4" r="1.65" fill="#8cc3de"/><circle cx="229.5" cy="282.3" r="1.65" fill="#8cc3de"/><circle cx="230.5" cy="282.3" r="1.65" fill="#8cc3de"/><circle cx="231.5" cy="282.2" r="1.65" fill="#8cc3de"/><circle cx="232.5" cy="282.2" r="1.65" fill="#8cc3de"/><circle cx="233.5" cy="282.1" r="1.65" fill="#8cc3de"/><circle cx="234.5" cy="282.1" r="1.65" fill="#8cc3de"/><circle cx="235.5" cy="282.0" r="1.65" fill="#8cc3de"/><circle cx="236.5" cy="282.0" r="1.65" fill="#8cc3de"/><circle cx="237.5" cy="281.9" r="1.65" fill="#8cc3de"/><circle cx="238.5" cy="281.9" r="1.65" fill="#8cc3de"/><circle cx="239.5" cy="281.9" r="1.65" fill="#8cc3de"/><circle cx="240.5" cy="281.8" r="1.65" fill="#8cc3de"/><circle cx="241.5" cy="281.8" r="1.65" fill="#8cc3de"/><circle cx="242.5" cy="281.7" r="1.65" fill="#8cc3de"/><circle cx="243.5" cy="281.7" r="1.65" fill="#8cc3de"/><circle cx="244.5" cy="281.7" r="1.65" fill="#8cc3de"/><circle cx="245.5" cy="281.6" r="1.65" fill="#8cc3de"/><circle cx="246.5" cy="281.6" r="1.65" fill="#8cc3de"/><circle cx="247.5" cy="281.6" r="1.65" fill="#8cc3de"/><path d="M43.5,281.5 L44.5,281.5 L45.5,281.6 L46.5,281.6 L47.5,281.6 L48.5,281.6 L49.5,281.6 L50.5,281.7 L51.5,281.7 L52.5,281.7 L53.5,281.8 L54.5,281.8 L55.5,281.8 L56.5,281.8 L57.5,281.9 L58.5,281.9 L59.5,281.9 L60.5,282.0 L61.5,282.0 L62.5,282.0 L63.5,282.1 L64.5,282.1 L65.5,282.1 L66.5,282.2 L67.5,282.2 L68.5,282.3 L69.5,282.3 L70.5,282.4 L71.5,282.4 L72.5,282.5 L73.5,282.5 L74.5,282.6 L75.5,282.6 L76.5,282.7 L77.5,282.7 L78.5,282.8 L79.5,282.9 L80.5,282.9 L81.5,283.0 L82.5,283.1 L83.5,283.1 L84.5,283.2 L85.5,283.3 L86.5,283.4 L87.5,283.5 L88.5,283.6 L89.5,283.7 L90.5,283.8 L91.5,283.9 L92.5,284.0 L93.5,284.1 L94.5,284.3 L95.5,284.4 L96.5,284.5 L97.5,284.7 L98.5,284.9 L99.5,285.0 L100.5,285.2 L101.5,285.4 L102.5,285.6 L103.5,285.8 L104.5,286.1 L105.5,286.3 L106.5,286.6 L107.5,286.9 L108.5,287.2 L109.5,287.5 L110.5,287.9 L111.5,288.3 L112.5,288.7 L113.5,289.1 L114.5,289.6 L115.5,290.2 L116.5,290.8 L117.5,291.5 L118.5,292.2 L119.5,293.1 L120.5,294.0 L121.5,295.0 L122.5,296.2 L123.5,297.5 L124.5,299.0 L125.5,300.7 L126.5,302.7 L127.5,305.0 L128.5,307.7 L129.5,310.8 L130.5,314.5 L131.5,318.8 L132.5,323.9 L133.5,329.7 L134.5,336.3 L135.5,343.1 L136.5,348.7 L137.5,348.9 L138.5,343.2 L139.5,335.8 L140.5,328.0 L141.5,320.9 L142.5,314.8 L143.5,309.7 L144.5,305.5 L145.5,302.1 L146.5,299.2 L147.5,296.9 L148.5,295.0 L149.5,293.4 L150.5,292.1 L151.5,290.9 L152.5,289.9 L153.5,289.1 L154.5,288.4 L155.5,287.8 L156.5,287.2 L157.5,286.7 L158.5,286.3 L159.5,285.9 L160.5,285.6 L161.5,285.2 L162.5,285.0 L163.5,284.7 L164.5,284.5 L165.5,284.3 L166.5,284.1 L167.5,283.9 L168.5,283.8 L169.5,283.6 L170.5,283.5 L171.5,283.3 L172.5,283.2 L173.5,283.1 L174.5,283.0 L175.5,282.9 L176.5,282.8 L177.5,282.7 L178.5,282.7 L179.5,282.6 L180.5,282.5 L181.5,282.4 L182.5,282.4 L183.5,282.3 L184.5,282.3 L185.5,282.2 L186.5,282.2 L187.5,282.1 L188.5,282.1 L189.5,282.0 L190.5,282.0 L191.5,281.9 L192.5,281.9 L193.5,281.8 L194.5,281.8 L195.5,281.8 L196.5,281.7 L197.5,281.7 L198.5,281.7 L199.5,281.6 L200.5,281.6 L201.5,281.6 L202.5,281.5 L203.5,281.5 L204.5,281.5 L205.5,281.5 L206.5,281.4 L207.5,281.4 L208.5,281.4 L209.5,281.4 L210.5,281.3 L211.5,281.3 L212.5,281.3 L213.5,281.3 L214.5,281.2 L215.5,281.2 L216.5,281.2 L217.5,281.2 L218.5,281.2 L219.5,281.1 L220.5,281.1 L221.5,281.1 L222.5,281.1 L223.5,281.1 L224.5,281.0 L225.5,281.0 L226.5,281.0 L227.5,281.0 L228.5,281.0 L229.5,281.0 L230.5,280.9 L231.5,280.9 L232.5,280.9 L233.5,280.9 L234.5,280.9 L235.5,280.9 L236.5,280.8 L237.5,280.8 L238.5,280.8 L239.5,280.8 L240.5,280.8 L241.5,280.8 L242.5,280.7 L243.5,280.7 L244.5,280.7 L245.5,280.7 L246.5,280.7 L247.5,280.7" fill="none" stroke="#dc5a3d" stroke-width="1"/><circle cx="43.5" cy="281.5" r="1.65" fill="#dc5a3d"/><circle cx="44.5" cy="281.5" r="1.65" fill="#dc5a3d"/><circle cx="45.5" cy="281.6" r="1.65" fill="#dc5a3d"/><circle cx="46.5" cy="281.6" r="1.65" fill="#dc5a3d"/><circle cx="47.5" cy="281.6" r="1.65" fill="#dc5a3d"/><circle cx="48.5" cy="281.6" r="1.65" fill="#dc5a3d"/><circle cx="49.5" cy="281.6" r="1.65" fill="#dc5a3d"/><circle cx="50.5" cy="281.7" r="1.65" fill="#dc5a3d"/><circle cx="51.5" cy="281.7" r="1.65" fill="#dc5a3d"/><circle cx="52.5" cy="281.7" r="1.65" fill="#dc5a3d"/><circle cx="53.5" cy="281.8" r="1.65" fill="#dc5a3d"/><circle cx="54.5" cy="281.8" r="1.65" fill="#dc5a3d"/><circle cx="55.5" cy="281.8" r="1.65" fill="#dc5a3d"/><circle cx="56.5" cy="281.8" r="1.65" fill="#dc5a3d"/><circle cx="57.5" cy="281.9" r="1.65" fill="#dc5a3d"/><circle cx="58.5" cy="281.9" r="1.65" fill="#dc5a3d"/><circle cx="59.5" cy="281.9" r="1.65" fill="#dc5a3d"/><circle cx="60.5" cy="282.0" r="1.65" fill="#dc5a3d"/><circle cx="61.5" cy="282.0" r="1.65" fill="#dc5a3d"/><circle cx="62.5" cy="282.0" r="1.65" fill="#dc5a3d"/><circle cx="63.5" cy="282.1" r="1.65" fill="#dc5a3d"/><circle cx="64.5" cy="282.1" r="1.65" fill="#dc5a3d"/><circle cx="65.5" cy="282.1" r="1.65" fill="#dc5a3d"/><circle cx="66.5" cy="282.2" r="1.65" fill="#dc5a3d"/><circle cx="67.5" cy="282.2" r="1.65" fill="#dc5a3d"/><circle cx="68.5" cy="282.3" r="1.65" fill="#dc5a3d"/><circle cx="69.5" cy="282.3" r="1.65" fill="#dc5a3d"/><circle cx="70.5" cy="282.4" r="1.65" fill="#dc5a3d"/><circle cx="71.5" cy="282.4" r="1.65" fill="#dc5a3d"/><circle cx="72.5" cy="282.5" r="1.65" fill="#dc5a3d"/><circle cx="73.5" cy="282.5" r="1.65" fill="#dc5a3d"/><circle cx="74.5" cy="282.6" r="1.65" fill="#dc5a3d"/><circle cx="75.5" cy="282.6" r="1.65" fill="#dc5a3d"/><circle cx="76.5" cy="282.7" r="1.65" fill="#dc5a3d"/><circle cx="77.5" cy="282.7" r="1.65" fill="#dc5a3d"/><circle cx="78.5" cy="282.8" r="1.65" fill="#dc5a3d"/><circle cx="79.5" cy="282.9" r="1.65" fill="#dc5a3d"/><circle cx="80.5" cy="282.9" r="1.65" fill="#dc5a3d"/><circle cx="81.5" cy="283.0" r="1.65" fill="#dc5a3d"/><circle cx="82.5" cy="283.1" r="1.65" fill="#dc5a3d"/><circle cx="83.5" cy="283.1" r="1.65" fill="#dc5a3d"/><circle cx="84.5" cy="283.2" r="1.65" fill="#dc5a3d"/><circle cx="85.5" cy="283.3" r="1.65" fill="#dc5a3d"/><circle cx="86.5" cy="283.4" r="1.65" fill="#dc5a3d"/><circle cx="87.5" cy="283.5" r="1.65" fill="#dc5a3d"/><circle cx="88.5" cy="283.6" r="1.65" fill="#dc5a3d"/><circle cx="89.5" cy="283.7" r="1.65" fill="#dc5a3d"/><circle cx="90.5" cy="283.8" r="1.65" fill="#dc5a3d"/><circle cx="91.5" cy="283.9" r="1.65" fill="#dc5a3d"/><circle cx="92.5" cy="284.0" r="1.65" fill="#dc5a3d"/><circle cx="93.5" cy="284.1" r="1.65" fill="#dc5a3d"/><circle cx="94.5" cy="284.3" r="1.65" fill="#dc5a3d"/><circle cx="95.5" cy="284.4" r="1.65" fill="#dc5a3d"/><circle cx="96.5" cy="284.5" r="1.65" fill="#dc5a3d"/><circle cx="97.5" cy="284.7" r="1.65" fill="#dc5a3d"/><circle cx="98.5" cy="284.9" r="1.65" fill="#dc5a3d"/><circle cx="99.5" cy="285.0" r="1.65" fill="#dc5a3d"/><circle cx="100.5" cy="285.2" r="1.65" fill="#dc5a3d"/><circle cx="101.5" cy="285.4" r="1.65" fill="#dc5a3d"/><circle cx="102.5" cy="285.6" r="1.65" fill="#dc5a3d"/><circle cx="103.5" cy="285.8" r="1.65" fill="#dc5a3d"/><circle cx="104.5" cy="286.1" r="1.65" fill="#dc5a3d"/><circle cx="105.5" cy="286.3" r="1.65" fill="#dc5a3d"/><circle cx="106.5" cy="286.6" r="1.65" fill="#dc5a3d"/><circle cx="107.5" cy="286.9" r="1.65" fill="#dc5a3d"/><circle cx="108.5" cy="287.2" r="1.65" fill="#dc5a3d"/><circle cx="109.5" cy="287.5" r="1.65" fill="#dc5a3d"/><circle cx="110.5" cy="287.9" r="1.65" fill="#dc5a3d"/><circle cx="111.5" cy="288.3" r="1.65" fill="#dc5a3d"/><circle cx="112.5" cy="288.7" r="1.65" fill="#dc5a3d"/><circle cx="113.5" cy="289.1" r="1.65" fill="#dc5a3d"/><circle cx="114.5" cy="289.6" r="1.65" fill="#dc5a3d"/><circle cx="115.5" cy="290.2" r="1.65" fill="#dc5a3d"/><circle cx="116.5" cy="290.8" r="1.65" fill="#dc5a3d"/><circle cx="117.5" cy="291.5" r="1.65" fill="#dc5a3d"/><circle cx="118.5" cy="292.2" r="1.65" fill="#dc5a3d"/><circle cx="119.5" cy="293.1" r="1.65" fill="#dc5a3d"/><circle cx="120.5" cy="294.0" r="1.65" fill="#dc5a3d"/><circle cx="121.5" cy="295.0" r="1.65" fill="#dc5a3d"/><circle cx="122.5" cy="296.2" r="1.65" fill="#dc5a3d"/><circle cx="123.5" cy="297.5" r="1.65" fill="#dc5a3d"/><circle cx="124.5" cy="299.0" r="1.65" fill="#dc5a3d"/><circle cx="125.5" cy="300.7" r="1.65" fill="#dc5a3d"/><circle cx="126.5" cy="302.7" r="1.65" fill="#dc5a3d"/><circle cx="127.5" cy="305.0" r="1.65" fill="#dc5a3d"/><circle cx="128.5" cy="307.7" r="1.65" fill="#dc5a3d"/><circle cx="129.5" cy="310.8" r="1.65" fill="#dc5a3d"/><circle cx="130.5" cy="314.5" r="1.65" fill="#dc5a3d"/><circle cx="131.5" cy="318.8" r="1.65" fill="#dc5a3d"/><circle cx="132.5" cy="323.9" r="1.65" fill="#dc5a3d"/><circle cx="133.5" cy="329.7" r="1.65" fill="#dc5a3d"/><circle cx="134.5" cy="336.3" r="1.65" fill="#dc5a3d"/><circle cx="135.5" cy="343.1" r="1.65" fill="#dc5a3d"/><circle cx="136.5" cy="348.7" r="1.65" fill="#dc5a3d"/><circle cx="137.5" cy="348.9" r="1.65" fill="#dc5a3d"/><circle cx="138.5" cy="343.2" r="1.65" fill="#dc5a3d"/><circle cx="139.5" cy="335.8" r="1.65" fill="#dc5a3d"/><circle cx="140.5" cy="328.0" r="1.65" fill="#dc5a3d"/><circle cx="141.5" cy="320.9" r="1.65" fill="#dc5a3d"/><circle cx="142.5" cy="314.8" r="1.65" fill="#dc5a3d"/><circle cx="143.5" cy="309.7" r="1.65" fill="#dc5a3d"/><circle cx="144.5" cy="305.5" r="1.65" fill="#dc5a3d"/><circle cx="145.5" cy="302.1" r="1.65" fill="#dc5a3d"/><circle cx="146.5" cy="299.2" r="1.65" fill="#dc5a3d"/><circle cx="147.5" cy="296.9" r="1.65" fill="#dc5a3d"/><circle cx="148.5" cy="295.0" r="1.65" fill="#dc5a3d"/><circle cx="149.5" cy="293.4" r="1.65" fill="#dc5a3d"/><circle cx="150.5" cy="292.1" r="1.65" fill="#dc5a3d"/><circle cx="151.5" cy="290.9" r="1.65" fill="#dc5a3d"/><circle cx="152.5" cy="289.9" r="1.65" fill="#dc5a3d"/><circle cx="153.5" cy="289.1" r="1.65" fill="#dc5a3d"/><circle cx="154.5" cy="288.4" r="1.65" fill="#dc5a3d"/><circle cx="155.5" cy="287.8" r="1.65" fill="#dc5a3d"/><circle cx="156.5" cy="287.2" r="1.65" fill="#dc5a3d"/><circle cx="157.5" cy="286.7" r="1.65" fill="#dc5a3d"/><circle cx="158.5" cy="286.3" r="1.65" fill="#dc5a3d"/><circle cx="159.5" cy="285.9" r="1.65" fill="#dc5a3d"/><circle cx="160.5" cy="285.6" r="1.65" fill="#dc5a3d"/><circle cx="161.5" cy="285.2" r="1.65" fill="#dc5a3d"/><circle cx="162.5" cy="285.0" r="1.65" fill="#dc5a3d"/><circle cx="163.5" cy="284.7" r="1.65" fill="#dc5a3d"/><circle cx="164.5" cy="284.5" r="1.65" fill="#dc5a3d"/><circle cx="165.5" cy="284.3" r="1.65" fill="#dc5a3d"/><circle cx="166.5" cy="284.1" r="1.65" fill="#dc5a3d"/><circle cx="167.5" cy="283.9" r="1.65" fill="#dc5a3d"/><circle cx="168.5" cy="283.8" r="1.65" fill="#dc5a3d"/><circle cx="169.5" cy="283.6" r="1.65" fill="#dc5a3d"/><circle cx="170.5" cy="283.5" r="1.65" fill="#dc5a3d"/><circle cx="171.5" cy="283.3" r="1.65" fill="#dc5a3d"/><circle cx="172.5" cy="283.2" r="1.65" fill="#dc5a3d"/><circle cx="173.5" cy="283.1" r="1.65" fill="#dc5a3d"/><circle cx="174.5" cy="283.0" r="1.65" fill="#dc5a3d"/><circle cx="175.5" cy="282.9" r="1.65" fill="#dc5a3d"/><circle cx="176.5" cy="282.8" r="1.65" fill="#dc5a3d"/><circle cx="177.5" cy="282.7" r="1.65" fill="#dc5a3d"/><circle cx="178.5" cy="282.7" r="1.65" fill="#dc5a3d"/><circle cx="179.5" cy="282.6" r="1.65" fill="#dc5a3d"/><circle cx="180.5" cy="282.5" r="1.65" fill="#dc5a3d"/><circle cx="181.5" cy="282.4" r="1.65" fill="#dc5a3d"/><circle cx="182.5" cy="282.4" r="1.65" fill="#dc5a3d"/><circle cx="183.5" cy="282.3" r="1.65" fill="#dc5a3d"/><circle cx="184.5" cy="282.3" r="1.65" fill="#dc5a3d"/><circle cx="185.5" cy="282.2" r="1.65" fill="#dc5a3d"/><circle cx="186.5" cy="282.2" r="1.65" fill="#dc5a3d"/><circle cx="187.5" cy="282.1" r="1.65" fill="#dc5a3d"/><circle cx="188.5" cy="282.1" r="1.65" fill="#dc5a3d"/><circle cx="189.5" cy="282.0" r="1.65" fill="#dc5a3d"/><circle cx="190.5" cy="282.0" r="1.65" fill="#dc5a3d"/><circle cx="191.5" cy="281.9" r="1.65" fill="#dc5a3d"/><circle cx="192.5" cy="281.9" r="1.65" fill="#dc5a3d"/><circle cx="193.5" cy="281.8" r="1.65" fill="#dc5a3d"/><circle cx="194.5" cy="281.8" r="1.65" fill="#dc5a3d"/><circle cx="195.5" cy="281.8" r="1.65" fill="#dc5a3d"/><circle cx="196.5" cy="281.7" r="1.65" fill="#dc5a3d"/><circle cx="197.5" cy="281.7" r="1.65" fill="#dc5a3d"/><circle cx="198.5" cy="281.7" r="1.65" fill="#dc5a3d"/><circle cx="199.5" cy="281.6" r="1.65" fill="#dc5a3d"/><circle cx="200.5" cy="281.6" r="1.65" fill="#dc5a3d"/><circle cx="201.5" cy="281.6" r="1.65" fill="#dc5a3d"/><circle cx="202.5" cy="281.5" r="1.65" fill="#dc5a3d"/><circle cx="203.5" cy="281.5" r="1.65" fill="#dc5a3d"/><circle cx="204.5" cy="281.5" r="1.65" fill="#dc5a3d"/><circle cx="205.5" cy="281.5" r="1.65" fill="#dc5a3d"/><circle cx="206.5" cy="281.4" r="1.65" fill="#dc5a3d"/><circle cx="207.5" cy="281.4" r="1.65" fill="#dc5a3d"/><circle cx="208.5" cy="281.4" r="1.65" fill="#dc5a3d"/><circle cx="209.5" cy="281.4" r="1.65" fill="#dc5a3d"/><circle cx="210.5" cy="281.3" r="1.65" fill="#dc5a3d"/><circle cx="211.5" cy="281.3" r="1.65" fill="#dc5a3d"/><circle cx="212.5" cy="281.3" r="1.65" fill="#dc5a3d"/><circle cx="213.5" cy="281.3" r="1.65" fill="#dc5a3d"/><circle cx="214.5" cy="281.2" r="1.65" fill="#dc5a3d"/><circle cx="215.5" cy="281.2" r="1.65" fill="#dc5a3d"/><circle cx="216.5" cy="281.2" r="1.65" fill="#dc5a3d"/><circle cx="217.5" cy="281.2" r="1.65" fill="#dc5a3d"/><circle cx="218.5" cy="281.2" r="1.65" fill="#dc5a3d"/><circle cx="219.5" cy="281.1" r="1.65" fill="#dc5a3d"/><circle cx="220.5" cy="281.1" r="1.65" fill="#dc5a3d"/><circle cx="221.5" cy="281.1" r="1.65" fill="#dc5a3d"/><circle cx="222.5" cy="281.1" r="1.65" fill="#dc5a3d"/><circle cx="223.5" cy="281.1" r="1.65" fill="#dc5a3d"/><circle cx="224.5" cy="281.0" r="1.65" fill="#dc5a3d"/><circle cx="225.5" cy="281.0" r="1.65" fill="#dc5a3d"/><circle cx="226.5" cy="281.0" r="1.65" fill="#dc5a3d"/><circle cx="227.5" cy="281.0" r="1.65" fill="#dc5a3d"/><circle cx="228.5" cy="281.0" r="1.65" fill="#dc5a3d"/><circle cx="229.5" cy="281.0" r="1.65" fill="#dc5a3d"/><circle cx="230.5" cy="280.9" r="1.65" fill="#dc5a3d"/><circle cx="231.5" cy="280.9" r="1.65" fill="#dc5a3d"/><circle cx="232.5" cy="280.9" r="1.65" fill="#dc5a3d"/><circle cx="233.5" cy="280.9" r="1.65" fill="#dc5a3d"/><circle cx="234.5" cy="280.9" r="1.65" fill="#dc5a3d"/><circle cx="235.5" cy="280.9" r="1.65" fill="#dc5a3d"/><circle cx="236.5" cy="280.8" r="1.65" fill="#dc5a3d"/><circle cx="237.5" cy="280.8" r="1.65" fill="#dc5a3d"/><circle cx="238.5" cy="280.8" r="1.65" fill="#dc5a3d"/><circle cx="239.5" cy="280.8" r="1.65" fill="#dc5a3d"/><circle cx="240.5" cy="280.8" r="1.65" fill="#dc5a3d"/><circle cx="241.5" cy="280.8" r="1.65" fill="#dc5a3d"/><circle cx="242.5" cy="280.7" r="1.65" fill="#dc5a3d"/><circle cx="243.5" cy="280.7" r="1.65" fill="#dc5a3d"/><circle cx="244.5" cy="280.7" r="1.65" fill="#dc5a3d"/><circle cx="245.5" cy="280.7" r="1.65" fill="#dc5a3d"/><circle cx="246.5" cy="280.7" r="1.65" fill="#dc5a3d"/><circle cx="247.5" cy="280.7" r="1.65" fill="#dc5a3d"/><path d="M43.5,282.0 L44.5,282.0 L45.5,282.1 L46.5,282.1 L47.5,282.1 L48.5,282.1 L49.5,282.2 L50.5,282.2 L51.5,282.2 L52.5,282.3 L53.5,282.3 L54.5,282.3 L55.5,282.3 L56.5,282.4 L57.5,282.4 L58.5,282.4 L59.5,282.5 L60.5,282.5 L61.5,282.5 L62.5,282.6 L63.5,282.6 L64.5,282.6 L65.5,282.7 L66.5,282.7 L67.5,282.7 L68.5,282.7 L69.5,282.8 L70.5,282.8 L71.5,282.8 L72.5,282.9 L73.5,282.9 L74.5,282.9 L75.5,283.0 L76.5,283.0 L77.5,283.1 L78.5,283.1 L79.5,283.1 L80.5,283.2 L81.5,283.2 L82.5,283.2 L83.5,283.3 L84.5,283.3 L85.5,283.4 L86.5,283.4 L87.5,283.4 L88.5,283.5 L89.5,283.5 L90.5,283.6 L91.5,283.6 L92.5,283.6 L93.5,283.7 L94.5,283.7 L95.5,283.8 L96.5,283.8 L97.5,283.9 L98.5,283.9 L99.5,284.0 L100.5,284.0 L101.5,284.1 L102.5,284.2 L103.5,284.2 L104.5,284.3 L105.5,284.3 L106.5,284.4 L107.5,284.5 L108.5,284.5 L109.5,284.6 L110.5,284.7 L111.5,284.7 L112.5,284.8 L113.5,284.9 L114.5,285.0 L115.5,285.1 L116.5,285.2 L117.5,285.3 L118.5,285.4 L119.5,285.5 L120.5,285.6 L121.5,285.7 L122.5,285.8 L123.5,285.9 L124.5,286.1 L125.5,286.2 L126.5,286.4 L127.5,286.5 L128.5,286.7 L129.5,286.9 L130.5,287.1 L131.5,287.3 L132.5,287.6 L133.5,287.8 L134.5,288.1 L135.5,288.4 L136.5,288.7 L137.5,289.1 L138.5,289.5 L139.5,289.9 L140.5,290.4 L141.5,290.9 L142.5,291.5 L143.5,292.2 L144.5,293.0 L145.5,293.9 L146.5,294.9 L147.5,296.0 L148.5,297.3 L149.5,298.9 L150.5,300.7 L151.5,302.8 L152.5,305.3 L153.5,308.2 L154.5,311.7 L155.5,315.9 L156.5,320.8 L157.5,326.4 L158.5,332.8 L159.5,339.4 L160.5,345.7 L161.5,350.5 L162.5,351.1 L163.5,349.9 L164.5,347.0 L165.5,342.8 L166.5,337.7 L167.5,332.3 L168.5,327.0 L169.5,321.9 L170.5,317.3 L171.5,313.3 L172.5,309.7 L173.5,306.6 L174.5,303.9 L175.5,301.6 L176.5,299.6 L177.5,297.9 L178.5,296.4 L179.5,295.1 L180.5,294.0 L181.5,293.0 L182.5,292.1 L183.5,291.3 L184.5,290.6 L185.5,290.0 L186.5,289.5 L187.5,289.0 L188.5,288.5 L189.5,288.1 L190.5,287.8 L191.5,287.4 L192.5,287.1 L193.5,286.8 L194.5,286.6 L195.5,286.4 L196.5,286.1 L197.5,285.9 L198.5,285.8 L199.5,285.6 L200.5,285.4 L201.5,285.3 L202.5,285.1 L203.5,285.0 L204.5,284.9 L205.5,284.8 L206.5,284.7 L207.5,284.6 L208.5,284.5 L209.5,284.4 L210.5,284.3 L211.5,284.2 L212.5,284.1 L213.5,284.0 L214.5,284.0 L215.5,283.9 L216.5,283.8 L217.5,283.8 L218.5,283.7 L219.5,283.6 L220.5,283.6 L221.5,283.5 L222.5,283.5 L223.5,283.4 L224.5,283.4 L225.5,283.3 L226.5,283.3 L227.5,283.2 L228.5,283.2 L229.5,283.2 L230.5,283.1 L231.5,283.1 L232.5,283.0 L233.5,283.0 L234.5,283.0 L235.5,282.9 L236.5,282.9 L237.5,282.9 L238.5,282.8 L239.5,282.8 L240.5,282.8 L241.5,282.7 L242.5,282.7 L243.5,282.7 L244.5,282.6 L245.5,282.6 L246.5,282.6 L247.5,282.6" fill="none" stroke="#dc5a3d" stroke-width="1"/><circle cx="43.5" cy="282.0" r="1.65" fill="#dc5a3d"/><circle cx="44.5" cy="282.0" r="1.65" fill="#dc5a3d"/><circle cx="45.5" cy="282.1" r="1.65" fill="#dc5a3d"/><circle cx="46.5" cy="282.1" r="1.65" fill="#dc5a3d"/><circle cx="47.5" cy="282.1" r="1.65" fill="#dc5a3d"/><circle cx="48.5" cy="282.1" r="1.65" fill="#dc5a3d"/><circle cx="49.5" cy="282.2" r="1.65" fill="#dc5a3d"/><circle cx="50.5" cy="282.2" r="1.65" fill="#dc5a3d"/><circle cx="51.5" cy="282.2" r="1.65" fill="#dc5a3d"/><circle cx="52.5" cy="282.3" r="1.65" fill="#dc5a3d"/><circle cx="53.5" cy="282.3" r="1.65" fill="#dc5a3d"/><circle cx="54.5" cy="282.3" r="1.65" fill="#dc5a3d"/><circle cx="55.5" cy="282.3" r="1.65" fill="#dc5a3d"/><circle cx="56.5" cy="282.4" r="1.65" fill="#dc5a3d"/><circle cx="57.5" cy="282.4" r="1.65" fill="#dc5a3d"/><circle cx="58.5" cy="282.4" r="1.65" fill="#dc5a3d"/><circle cx="59.5" cy="282.5" r="1.65" fill="#dc5a3d"/><circle cx="60.5" cy="282.5" r="1.65" fill="#dc5a3d"/><circle cx="61.5" cy="282.5" r="1.65" fill="#dc5a3d"/><circle cx="62.5" cy="282.6" r="1.65" fill="#dc5a3d"/><circle cx="63.5" cy="282.6" r="1.65" fill="#dc5a3d"/><circle cx="64.5" cy="282.6" r="1.65" fill="#dc5a3d"/><circle cx="65.5" cy="282.7" r="1.65" fill="#dc5a3d"/><circle cx="66.5" cy="282.7" r="1.65" fill="#dc5a3d"/><circle cx="67.5" cy="282.7" r="1.65" fill="#dc5a3d"/><circle cx="68.5" cy="282.7" r="1.65" fill="#dc5a3d"/><circle cx="69.5" cy="282.8" r="1.65" fill="#dc5a3d"/><circle cx="70.5" cy="282.8" r="1.65" fill="#dc5a3d"/><circle cx="71.5" cy="282.8" r="1.65" fill="#dc5a3d"/><circle cx="72.5" cy="282.9" r="1.65" fill="#dc5a3d"/><circle cx="73.5" cy="282.9" r="1.65" fill="#dc5a3d"/><circle cx="74.5" cy="282.9" r="1.65" fill="#dc5a3d"/><circle cx="75.5" cy="283.0" r="1.65" fill="#dc5a3d"/><circle cx="76.5" cy="283.0" r="1.65" fill="#dc5a3d"/><circle cx="77.5" cy="283.1" r="1.65" fill="#dc5a3d"/><circle cx="78.5" cy="283.1" r="1.65" fill="#dc5a3d"/><circle cx="79.5" cy="283.1" r="1.65" fill="#dc5a3d"/><circle cx="80.5" cy="283.2" r="1.65" fill="#dc5a3d"/><circle cx="81.5" cy="283.2" r="1.65" fill="#dc5a3d"/><circle cx="82.5" cy="283.2" r="1.65" fill="#dc5a3d"/><circle cx="83.5" cy="283.3" r="1.65" fill="#dc5a3d"/><circle cx="84.5" cy="283.3" r="1.65" fill="#dc5a3d"/><circle cx="85.5" cy="283.4" r="1.65" fill="#dc5a3d"/><circle cx="86.5" cy="283.4" r="1.65" fill="#dc5a3d"/><circle cx="87.5" cy="283.4" r="1.65" fill="#dc5a3d"/><circle cx="88.5" cy="283.5" r="1.65" fill="#dc5a3d"/><circle cx="89.5" cy="283.5" r="1.65" fill="#dc5a3d"/><circle cx="90.5" cy="283.6" r="1.65" fill="#dc5a3d"/><circle cx="91.5" cy="283.6" r="1.65" fill="#dc5a3d"/><circle cx="92.5" cy="283.6" r="1.65" fill="#dc5a3d"/><circle cx="93.5" cy="283.7" r="1.65" fill="#dc5a3d"/><circle cx="94.5" cy="283.7" r="1.65" fill="#dc5a3d"/><circle cx="95.5" cy="283.8" r="1.65" fill="#dc5a3d"/><circle cx="96.5" cy="283.8" r="1.65" fill="#dc5a3d"/><circle cx="97.5" cy="283.9" r="1.65" fill="#dc5a3d"/><circle cx="98.5" cy="283.9" r="1.65" fill="#dc5a3d"/><circle cx="99.5" cy="284.0" r="1.65" fill="#dc5a3d"/><circle cx="100.5" cy="284.0" r="1.65" fill="#dc5a3d"/><circle cx="101.5" cy="284.1" r="1.65" fill="#dc5a3d"/><circle cx="102.5" cy="284.2" r="1.65" fill="#dc5a3d"/><circle cx="103.5" cy="284.2" r="1.65" fill="#dc5a3d"/><circle cx="104.5" cy="284.3" r="1.65" fill="#dc5a3d"/><circle cx="105.5" cy="284.3" r="1.65" fill="#dc5a3d"/><circle cx="106.5" cy="284.4" r="1.65" fill="#dc5a3d"/><circle cx="107.5" cy="284.5" r="1.65" fill="#dc5a3d"/><circle cx="108.5" cy="284.5" r="1.65" fill="#dc5a3d"/><circle cx="109.5" cy="284.6" r="1.65" fill="#dc5a3d"/><circle cx="110.5" cy="284.7" r="1.65" fill="#dc5a3d"/><circle cx="111.5" cy="284.7" r="1.65" fill="#dc5a3d"/><circle cx="112.5" cy="284.8" r="1.65" fill="#dc5a3d"/><circle cx="113.5" cy="284.9" r="1.65" fill="#dc5a3d"/><circle cx="114.5" cy="285.0" r="1.65" fill="#dc5a3d"/><circle cx="115.5" cy="285.1" r="1.65" fill="#dc5a3d"/><circle cx="116.5" cy="285.2" r="1.65" fill="#dc5a3d"/><circle cx="117.5" cy="285.3" r="1.65" fill="#dc5a3d"/><circle cx="118.5" cy="285.4" r="1.65" fill="#dc5a3d"/><circle cx="119.5" cy="285.5" r="1.65" fill="#dc5a3d"/><circle cx="120.5" cy="285.6" r="1.65" fill="#dc5a3d"/><circle cx="121.5" cy="285.7" r="1.65" fill="#dc5a3d"/><circle cx="122.5" cy="285.8" r="1.65" fill="#dc5a3d"/><circle cx="123.5" cy="285.9" r="1.65" fill="#dc5a3d"/><circle cx="124.5" cy="286.1" r="1.65" fill="#dc5a3d"/><circle cx="125.5" cy="286.2" r="1.65" fill="#dc5a3d"/><circle cx="126.5" cy="286.4" r="1.65" fill="#dc5a3d"/><circle cx="127.5" cy="286.5" r="1.65" fill="#dc5a3d"/><circle cx="128.5" cy="286.7" r="1.65" fill="#dc5a3d"/><circle cx="129.5" cy="286.9" r="1.65" fill="#dc5a3d"/><circle cx="130.5" cy="287.1" r="1.65" fill="#dc5a3d"/><circle cx="131.5" cy="287.3" r="1.65" fill="#dc5a3d"/><circle cx="132.5" cy="287.6" r="1.65" fill="#dc5a3d"/><circle cx="133.5" cy="287.8" r="1.65" fill="#dc5a3d"/><circle cx="134.5" cy="288.1" r="1.65" fill="#dc5a3d"/><circle cx="135.5" cy="288.4" r="1.65" fill="#dc5a3d"/><circle cx="136.5" cy="288.7" r="1.65" fill="#dc5a3d"/><circle cx="137.5" cy="289.1" r="1.65" fill="#dc5a3d"/><circle cx="138.5" cy="289.5" r="1.65" fill="#dc5a3d"/><circle cx="139.5" cy="289.9" r="1.65" fill="#dc5a3d"/><circle cx="140.5" cy="290.4" r="1.65" fill="#dc5a3d"/><circle cx="141.5" cy="290.9" r="1.65" fill="#dc5a3d"/><circle cx="142.5" cy="291.5" r="1.65" fill="#dc5a3d"/><circle cx="143.5" cy="292.2" r="1.65" fill="#dc5a3d"/><circle cx="144.5" cy="293.0" r="1.65" fill="#dc5a3d"/><circle cx="145.5" cy="293.9" r="1.65" fill="#dc5a3d"/><circle cx="146.5" cy="294.9" r="1.65" fill="#dc5a3d"/><circle cx="147.5" cy="296.0" r="1.65" fill="#dc5a3d"/><circle cx="148.5" cy="297.3" r="1.65" fill="#dc5a3d"/><circle cx="149.5" cy="298.9" r="1.65" fill="#dc5a3d"/><circle cx="150.5" cy="300.7" r="1.65" fill="#dc5a3d"/><circle cx="151.5" cy="302.8" r="1.65" fill="#dc5a3d"/><circle cx="152.5" cy="305.3" r="1.65" fill="#dc5a3d"/><circle cx="153.5" cy="308.2" r="1.65" fill="#dc5a3d"/><circle cx="154.5" cy="311.7" r="1.65" fill="#dc5a3d"/><circle cx="155.5" cy="315.9" r="1.65" fill="#dc5a3d"/><circle cx="156.5" cy="320.8" r="1.65" fill="#dc5a3d"/><circle cx="157.5" cy="326.4" r="1.65" fill="#dc5a3d"/><circle cx="158.5" cy="332.8" r="1.65" fill="#dc5a3d"/><circle cx="159.5" cy="339.4" r="1.65" fill="#dc5a3d"/><circle cx="160.5" cy="345.7" r="1.65" fill="#dc5a3d"/><circle cx="161.5" cy="350.5" r="1.65" fill="#dc5a3d"/><circle cx="162.5" cy="351.1" r="1.65" fill="#dc5a3d"/><circle cx="163.5" cy="349.9" r="1.65" fill="#dc5a3d"/><circle cx="164.5" cy="347.0" r="1.65" fill="#dc5a3d"/><circle cx="165.5" cy="342.8" r="1.65" fill="#dc5a3d"/><circle cx="166.5" cy="337.7" r="1.65" fill="#dc5a3d"/><circle cx="167.5" cy="332.3" r="1.65" fill="#dc5a3d"/><circle cx="168.5" cy="327.0" r="1.65" fill="#dc5a3d"/><circle cx="169.5" cy="321.9" r="1.65" fill="#dc5a3d"/><circle cx="170.5" cy="317.3" r="1.65" fill="#dc5a3d"/><circle cx="171.5" cy="313.3" r="1.65" fill="#dc5a3d"/><circle cx="172.5" cy="309.7" r="1.65" fill="#dc5a3d"/><circle cx="173.5" cy="306.6" r="1.65" fill="#dc5a3d"/><circle cx="174.5" cy="303.9" r="1.65" fill="#dc5a3d"/><circle cx="175.5" cy="301.6" r="1.65" fill="#dc5a3d"/><circle cx="176.5" cy="299.6" r="1.65" fill="#dc5a3d"/><circle cx="177.5" cy="297.9" r="1.65" fill="#dc5a3d"/><circle cx="178.5" cy="296.4" r="1.65" fill="#dc5a3d"/><circle cx="179.5" cy="295.1" r="1.65" fill="#dc5a3d"/><circle cx="180.5" cy="294.0" r="1.65" fill="#dc5a3d"/><circle cx="181.5" cy="293.0" r="1.65" fill="#dc5a3d"/><circle cx="182.5" cy="292.1" r="1.65" fill="#dc5a3d"/><circle cx="183.5" cy="291.3" r="1.65" fill="#dc5a3d"/><circle cx="184.5" cy="290.6" r="1.65" fill="#dc5a3d"/><circle cx="185.5" cy="290.0" r="1.65" fill="#dc5a3d"/><circle cx="186.5" cy="289.5" r="1.65" fill="#dc5a3d"/><circle cx="187.5" cy="289.0" r="1.65" fill="#dc5a3d"/><circle cx="188.5" cy="288.5" r="1.65" fill="#dc5a3d"/><circle cx="189.5" cy="288.1" r="1.65" fill="#dc5a3d"/><circle cx="190.5" cy="287.8" r="1.65" fill="#dc5a3d"/><circle cx="191.5" cy="287.4" r="1.65" fill="#dc5a3d"/><circle cx="192.5" cy="287.1" r="1.65" fill="#dc5a3d"/><circle cx="193.5" cy="286.8" r="1.65" fill="#dc5a3d"/><circle cx="194.5" cy="286.6" r="1.65" fill="#dc5a3d"/><circle cx="195.5" cy="286.4" r="1.65" fill="#dc5a3d"/><circle cx="196.5" cy="286.1" r="1.65" fill="#dc5a3d"/><circle cx="197.5" cy="285.9" r="1.65" fill="#dc5a3d"/><circle cx="198.5" cy="285.8" r="1.65" fill="#dc5a3d"/><circle cx="199.5" cy="285.6" r="1.65" fill="#dc5a3d"/><circle cx="200.5" cy="285.4" r="1.65" fill="#dc5a3d"/><circle cx="201.5" cy="285.3" r="1.65" fill="#dc5a3d"/><circle cx="202.5" cy="285.1" r="1.65" fill="#dc5a3d"/><circle cx="203.5" cy="285.0" r="1.65" fill="#dc5a3d"/><circle cx="204.5" cy="284.9" r="1.65" fill="#dc5a3d"/><circle cx="205.5" cy="284.8" r="1.65" fill="#dc5a3d"/><circle cx="206.5" cy="284.7" r="1.65" fill="#dc5a3d"/><circle cx="207.5" cy="284.6" r="1.65" fill="#dc5a3d"/><circle cx="208.5" cy="284.5" r="1.65" fill="#dc5a3d"/><circle cx="209.5" cy="284.4" r="1.65" fill="#dc5a3d"/><circle cx="210.5" cy="284.3" r="1.65" fill="#dc5a3d"/><circle cx="211.5" cy="284.2" r="1.65" fill="#dc5a3d"/><circle cx="212.5" cy="284.1" r="1.65" fill="#dc5a3d"/><circle cx="213.5" cy="284.0" r="1.65" fill="#dc5a3d"/><circle cx="214.5" cy="284.0" r="1.65" fill="#dc5a3d"/><circle cx="215.5" cy="283.9" r="1.65" fill="#dc5a3d"/><circle cx="216.5" cy="283.8" r="1.65" fill="#dc5a3d"/><circle cx="217.5" cy="283.8" r="1.65" fill="#dc5a3d"/><circle cx="218.5" cy="283.7" r="1.65" fill="#dc5a3d"/><circle cx="219.5" cy="283.6" r="1.65" fill="#dc5a3d"/><circle cx="220.5" cy="283.6" r="1.65" fill="#dc5a3d"/><circle cx="221.5" cy="283.5" r="1.65" fill="#dc5a3d"/><circle cx="222.5" cy="283.5" r="1.65" fill="#dc5a3d"/><circle cx="223.5" cy="283.4" r="1.65" fill="#dc5a3d"/><circle cx="224.5" cy="283.4" r="1.65" fill="#dc5a3d"/><circle cx="225.5" cy="283.3" r="1.65" fill="#dc5a3d"/><circle cx="226.5" cy="283.3" r="1.65" fill="#dc5a3d"/><circle cx="227.5" cy="283.2" r="1.65" fill="#dc5a3d"/><circle cx="228.5" cy="283.2" r="1.65" fill="#dc5a3d"/><circle cx="229.5" cy="283.2" r="1.65" fill="#dc5a3d"/><circle cx="230.5" cy="283.1" r="1.65" fill="#dc5a3d"/><circle cx="231.5" cy="283.1" r="1.65" fill="#dc5a3d"/><circle cx="232.5" cy="283.0" r="1.65" fill="#dc5a3d"/><circle cx="233.5" cy="283.0" r="1.65" fill="#dc5a3d"/><circle cx="234.5" cy="283.0" r="1.65" fill="#dc5a3d"/><circle cx="235.5" cy="282.9" r="1.65" fill="#dc5a3d"/><circle cx="236.5" cy="282.9" r="1.65" fill="#dc5a3d"/><circle cx="237.5" cy="282.9" r="1.65" fill="#dc5a3d"/><circle cx="238.5" cy="282.8" r="1.65" fill="#dc5a3d"/><circle cx="239.5" cy="282.8" r="1.65" fill="#dc5a3d"/><circle cx="240.5" cy="282.8" r="1.65" fill="#dc5a3d"/><circle cx="241.5" cy="282.7" r="1.65" fill="#dc5a3d"/><circle cx="242.5" cy="282.7" r="1.65" fill="#dc5a3d"/><circle cx="243.5" cy="282.7" r="1.65" fill="#dc5a3d"/><circle cx="244.5" cy="282.6" r="1.65" fill="#dc5a3d"/><circle cx="245.5" cy="282.6" r="1.65" fill="#dc5a3d"/><circle cx="246.5" cy="282.6" r="1.65" fill="#dc5a3d"/><circle cx="247.5" cy="282.6" r="1.65" fill="#dc5a3d"/><circle cx="55.2" cy="277.8" r="1.7" fill="#8cc3de"/><circle cx="116.5" cy="281.8" r="1.7" fill="#8cc3de"/></g><clipPath id="clipc273"><rect x="43.6" y="273.1" width="203.8" height="119.59999999999997"/></clipPath><rect x="43.6" y="273.1" width="203.8" height="119.59999999999997" fill="none" stroke="#262626" stroke-width="1"/><line x1="45.5" y1="392.7" x2="45.5" y2="390.7" stroke="#262626" stroke-width="0.8"/><line x1="45.5" y1="273.1" x2="45.5" y2="275.1" stroke="#262626" stroke-width="0.8"/><line x1="70.5" y1="392.7" x2="70.5" y2="390.7" stroke="#262626" stroke-width="0.8"/><line x1="70.5" y1="273.1" x2="70.5" y2="275.1" stroke="#262626" stroke-width="0.8"/><line x1="95.5" y1="392.7" x2="95.5" y2="390.7" stroke="#262626" stroke-width="0.8"/><line x1="95.5" y1="273.1" x2="95.5" y2="275.1" stroke="#262626" stroke-width="0.8"/><line x1="120.5" y1="392.7" x2="120.5" y2="390.7" stroke="#262626" stroke-width="0.8"/><line x1="120.5" y1="273.1" x2="120.5" y2="275.1" stroke="#262626" stroke-width="0.8"/><line x1="145.5" y1="392.7" x2="145.5" y2="390.7" stroke="#262626" stroke-width="0.8"/><line x1="145.5" y1="273.1" x2="145.5" y2="275.1" stroke="#262626" stroke-width="0.8"/><line x1="170.5" y1="392.7" x2="170.5" y2="390.7" stroke="#262626" stroke-width="0.8"/><line x1="170.5" y1="273.1" x2="170.5" y2="275.1" stroke="#262626" stroke-width="0.8"/><line x1="195.5" y1="392.7" x2="195.5" y2="390.7" stroke="#262626" stroke-width="0.8"/><line x1="195.5" y1="273.1" x2="195.5" y2="275.1" stroke="#262626" stroke-width="0.8"/><line x1="220.5" y1="392.7" x2="220.5" y2="390.7" stroke="#262626" stroke-width="0.8"/><line x1="220.5" y1="273.1" x2="220.5" y2="275.1" stroke="#262626" stroke-width="0.8"/><line x1="245.5" y1="392.7" x2="245.5" y2="390.7" stroke="#262626" stroke-width="0.8"/><line x1="245.5" y1="273.1" x2="245.5" y2="275.1" stroke="#262626" stroke-width="0.8"/><line x1="43.6" y1="278.8" x2="45.6" y2="278.8" stroke="#262626" stroke-width="0.8"/><line x1="247.4" y1="278.8" x2="245.4" y2="278.8" stroke="#262626" stroke-width="0.8"/><text x="39.8" y="283.8" text-anchor="end" style="font-family:'Liberation Sans', Arial, Helvetica, sans-serif;font-size:12.5px;fill:#1a1a1a;stroke:#1a1a1a;stroke-width:0.42px">3</text><line x1="43.6" y1="328.90000000000003" x2="45.6" y2="328.90000000000003" stroke="#262626" stroke-width="0.8"/><line x1="247.4" y1="328.90000000000003" x2="245.4" y2="328.90000000000003" stroke="#262626" stroke-width="0.8"/><text x="39.8" y="333.90000000000003" text-anchor="end" style="font-family:'Liberation Sans', Arial, Helvetica, sans-serif;font-size:12.5px;fill:#1a1a1a;stroke:#1a1a1a;stroke-width:0.42px">2.5</text><line x1="43.6" y1="379.0" x2="45.6" y2="379.0" stroke="#262626" stroke-width="0.8"/><line x1="247.4" y1="379.0" x2="245.4" y2="379.0" stroke="#262626" stroke-width="0.8"/><text x="39.8" y="384.0" text-anchor="end" style="font-family:'Liberation Sans', Arial, Helvetica, sans-serif;font-size:12.5px;fill:#1a1a1a;stroke:#1a1a1a;stroke-width:0.42px">2</text><text transform="translate(12.6,366.4) rotate(-90)" style="font-family:'Liberation Sans', Arial, Helvetica, sans-serif;font-size:13.4px;fill:#1a1a1a;stroke:#1a1a1a;stroke-width:0.42px"><tspan style="font-style:italic;font-size:11.3px">ρ</tspan><tspan dy="4.3" style="font-style:italic;font-size:11px">xy</tspan><tspan dy="-4.3" dx="-1"> [<tspan style="font-style:italic">μ</tspan>Ω cm]</tspan></text><rect x="75" y="370.4" width="169.6" height="18.2" fill="#fff" stroke="#555" stroke-width="0.8"/><circle cx="83.8" cy="379.4" r="1.5" fill="#8cc3de"/><circle cx="168.8" cy="379.4" r="1.5" fill="#dc5a3d"/><text x="92.5" y="382.2" style="font-family:'Liberation Sans', Arial, Helvetica, sans-serif;font-size:10.2px;fill:#111;stroke:#111;stroke-width:0.42px"><tspan style="font-style:italic">ρ</tspan><tspan dy="3.6" style="font-style:italic;font-size:9px">xy</tspan><tspan dy="-3.6">(<tspan style="font-style:italic">H</tspan>) FC +5 T</tspan></text><text x="178" y="382.2" style="font-family:'Liberation Sans', Arial, Helvetica, sans-serif;font-size:10.2px;fill:#111;stroke:#111;stroke-width:0.42px"><tspan style="font-style:italic">ρ</tspan><tspan dy="3.6" style="font-style:italic;font-size:9px">xy</tspan><tspan dy="-3.6">(<tspan style="font-style:italic">H</tspan>) FC -5 T</tspan></text><text x="45.5" y="408.6" text-anchor="middle" style="font-family:'Liberation Sans', Arial, Helvetica, sans-serif;font-size:12.5px;fill:#1a1a1a;stroke:#1a1a1a;stroke-width:0.42px">-1</text><text x="95.5" y="408.6" text-anchor="middle" style="font-family:'Liberation Sans', Arial, Helvetica, sans-serif;font-size:12.5px;fill:#1a1a1a;stroke:#1a1a1a;stroke-width:0.42px">-0.5</text><text x="145.5" y="408.6" text-anchor="middle" style="font-family:'Liberation Sans', Arial, Helvetica, sans-serif;font-size:12.5px;fill:#1a1a1a;stroke:#1a1a1a;stroke-width:0.42px">0</text><text x="195.5" y="408.6" text-anchor="middle" style="font-family:'Liberation Sans', Arial, Helvetica, sans-serif;font-size:12.5px;fill:#1a1a1a;stroke:#1a1a1a;stroke-width:0.42px">0.5</text><text x="245.5" y="408.6" text-anchor="middle" style="font-family:'Liberation Sans', Arial, Helvetica, sans-serif;font-size:12.5px;fill:#1a1a1a;stroke:#1a1a1a;stroke-width:0.42px">1</text><text x="124.8" y="424.9" style="font-family:'Liberation Sans', Arial, Helvetica, sans-serif;font-size:13.6px;fill:#1a1a1a;stroke:#1a1a1a;stroke-width:0.42px"><tspan style="font-style:italic">μ</tspan><tspan dy="4.3" style="font-size:11px">0</tspan><tspan dy="-4.3" style="font-style:italic">H</tspan><tspan dx="-1"> [T]</tspan></text><text x="0" y="156" style="font-family:'Liberation Sans', Arial, Helvetica, sans-serif;font-weight:bold;font-size:16px;fill:#111;stroke:#111;stroke-width:0.42px">(c)</text><rect x="323.8" y="248.8" width="186.0" height="143.5" fill="none" stroke="#262626" stroke-width="1"/><line x1="323.8" y1="392.3" x2="323.8" y2="390.3" stroke="#262626" stroke-width="0.8"/><line x1="323.8" y1="248.8" x2="323.8" y2="250.8" stroke="#262626" stroke-width="0.8"/><text x="323.8" y="408.5" text-anchor="middle" style="font-family:'Liberation Sans', Arial, Helvetica, sans-serif;font-size:12.5px;fill:#1a1a1a;stroke:#1a1a1a;stroke-width:0.42px">0</text><line x1="385.8" y1="392.3" x2="385.8" y2="390.3" stroke="#262626" stroke-width="0.8"/><line x1="385.8" y1="248.8" x2="385.8" y2="250.8" stroke="#262626" stroke-width="0.8"/><text x="385.8" y="408.5" text-anchor="middle" style="font-family:'Liberation Sans', Arial, Helvetica, sans-serif;font-size:12.5px;fill:#1a1a1a;stroke:#1a1a1a;stroke-width:0.42px">100</text><line x1="447.8" y1="392.3" x2="447.8" y2="390.3" stroke="#262626" stroke-width="0.8"/><line x1="447.8" y1="248.8" x2="447.8" y2="250.8" stroke="#262626" stroke-width="0.8"/><text x="447.8" y="408.5" text-anchor="middle" style="font-family:'Liberation Sans', Arial, Helvetica, sans-serif;font-size:12.5px;fill:#1a1a1a;stroke:#1a1a1a;stroke-width:0.42px">200</text><line x1="509.8" y1="392.3" x2="509.8" y2="390.3" stroke="#262626" stroke-width="0.8"/><line x1="509.8" y1="248.8" x2="509.8" y2="250.8" stroke="#262626" stroke-width="0.8"/><text x="509.8" y="408.5" text-anchor="middle" style="font-family:'Liberation Sans', Arial, Helvetica, sans-serif;font-size:12.5px;fill:#1a1a1a;stroke:#1a1a1a;stroke-width:0.42px">300</text><line x1="323.8" y1="392.3" x2="325.8" y2="392.3" stroke="#262626" stroke-width="0.8"/><line x1="509.8" y1="392.3" x2="507.8" y2="392.3" stroke="#262626" stroke-width="0.8"/><text x="319.3" y="397.3" text-anchor="end" style="font-family:'Liberation Sans', Arial, Helvetica, sans-serif;font-size:12.5px;fill:#1a1a1a;stroke:#1a1a1a;stroke-width:0.42px">0</text><line x1="323.8" y1="344.4666666666667" x2="325.8" y2="344.4666666666667" stroke="#262626" stroke-width="0.8"/><line x1="509.8" y1="344.4666666666667" x2="507.8" y2="344.4666666666667" stroke="#262626" stroke-width="0.8"/><text x="319.3" y="349.4666666666667" text-anchor="end" style="font-family:'Liberation Sans', Arial, Helvetica, sans-serif;font-size:12.5px;fill:#1a1a1a;stroke:#1a1a1a;stroke-width:0.42px">50</text><line x1="323.8" y1="296.6333333333333" x2="325.8" y2="296.6333333333333" stroke="#262626" stroke-width="0.8"/><line x1="509.8" y1="296.6333333333333" x2="507.8" y2="296.6333333333333" stroke="#262626" stroke-width="0.8"/><text x="319.3" y="301.6333333333333" text-anchor="end" style="font-family:'Liberation Sans', Arial, Helvetica, sans-serif;font-size:12.5px;fill:#1a1a1a;stroke:#1a1a1a;stroke-width:0.42px">100</text><line x1="323.8" y1="248.8" x2="325.8" y2="248.8" stroke="#262626" stroke-width="0.8"/><line x1="509.8" y1="248.8" x2="507.8" y2="248.8" stroke="#262626" stroke-width="0.8"/><text x="319.3" y="253.8" text-anchor="end" style="font-family:'Liberation Sans', Arial, Helvetica, sans-serif;font-size:12.5px;fill:#1a1a1a;stroke:#1a1a1a;stroke-width:0.42px">150</text><text x="403.8" y="425.7" style="font-family:'Liberation Sans', Arial, Helvetica, sans-serif;font-size:13.6px;fill:#1a1a1a;stroke:#1a1a1a;stroke-width:0.42px"><tspan style="font-style:italic">T</tspan><tspan dx="-1"> [K]</tspan></text><text transform="translate(286,346) rotate(-90)" style="font-family:'Liberation Sans', Arial, Helvetica, sans-serif;font-size:13.4px;fill:#1a1a1a;stroke:#1a1a1a;stroke-width:0.42px"><tspan style="font-style:italic">H</tspan><tspan dy="3.5" style="font-size:11px">ex</tspan><tspan dy="-3.5" dx="-1"> [mT]</tspan></text><polyline points="330.0,256.5 336.2,323.4 354.8,342.3 385.8,363.8 416.8,379.6 447.8,389.4 478.8,392.3 509.8,392.3" fill="none" stroke="#262626" stroke-width="1.1"/><polyline points="330.0,315.6 336.2,354.6 354.8,362.0 385.8,383.2 416.8,392.3 447.8,392.3 478.8,392.3 509.8,392.3" fill="none" stroke="#262626" stroke-width="1.1"/><circle cx="330.0" cy="256.5" r="4.3" fill="#2462b0" stroke="#1a1a2a" stroke-width="0.8"/><circle cx="336.2" cy="323.4" r="4.3" fill="#2462b0" stroke="#1a1a2a" stroke-width="0.8"/><circle cx="354.8" cy="342.3" r="4.3" fill="#2462b0" stroke="#1a1a2a" stroke-width="0.8"/><circle cx="385.8" cy="363.8" r="4.3" fill="#2462b0" stroke="#1a1a2a" stroke-width="0.8"/><circle cx="416.8" cy="379.6" r="4.3" fill="#2462b0" stroke="#1a1a2a" stroke-width="0.8"/><circle cx="447.8" cy="389.4" r="4.3" fill="#2462b0" stroke="#1a1a2a" stroke-width="0.8"/><rect x="326.7" y="312.3" width="6.6" height="6.6" fill="#b01b33" stroke="#2a1a1a" stroke-width="0.8"/><rect x="332.9" y="351.3" width="6.6" height="6.6" fill="#b01b33" stroke="#2a1a1a" stroke-width="0.8"/><rect x="351.5" y="358.7" width="6.6" height="6.6" fill="#b01b33" stroke="#2a1a1a" stroke-width="0.8"/><rect x="382.5" y="379.9" width="6.6" height="6.6" fill="#b01b33" stroke="#2a1a1a" stroke-width="0.8"/><rect x="413.5" y="389.0" width="6.6" height="6.6" fill="#b01b33" stroke="#2a1a1a" stroke-width="0.8"/><rect x="444.5" y="389.0" width="6.6" height="6.6" fill="#b01b33" stroke="#2a1a1a" stroke-width="0.8"/><circle cx="478.8" cy="392.3" r="4" fill="#a81a35" stroke="#2a1a1a" stroke-width="0.8"/><circle cx="509.8" cy="392.3" r="4" fill="#a81a35" stroke="#2a1a1a" stroke-width="0.8"/><rect x="410.4" y="252" width="96.3" height="30.3" fill="#fff" stroke="#555" stroke-width="0.8"/><line x1="412.5" y1="260.8" x2="426.5" y2="260.8" stroke="#333" stroke-width="0.9"/><line x1="412.5" y1="274.6" x2="426.5" y2="274.6" stroke="#333" stroke-width="0.9"/><circle cx="419.6" cy="260.8" r="4.3" fill="#2462b0" stroke="#1a1a2a" stroke-width="0.8"/><rect x="416.3" y="271.3" width="6.6" height="6.6" fill="#b01b33" stroke="#2a1a1a" stroke-width="0.8"/><text x="427.8" y="265.2" style="font-family:'Liberation Sans', Arial, Helvetica, sans-serif;font-size:12px;fill:#111;stroke:#111;stroke-width:0.42px">Magnetometry</text><text x="427.8" y="279" style="font-family:'Liberation Sans', Arial, Helvetica, sans-serif;font-size:12px;fill:#111;stroke:#111;stroke-width:0.42px">Transport</text><text x="270.6" y="256.5" style="font-family:'Liberation Sans', Arial, Helvetica, sans-serif;font-weight:bold;font-size:16.5px;fill:#111;stroke:#111;stroke-width:0.42px">(d)</text></svg></body></html>
